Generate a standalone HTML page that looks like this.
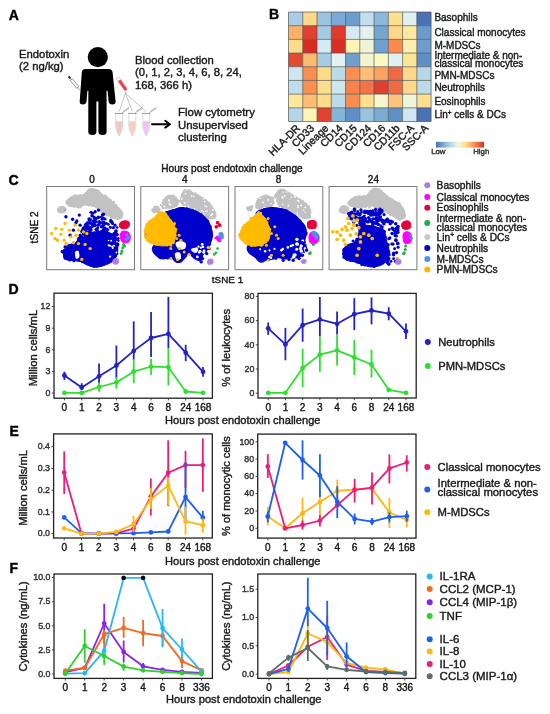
<!DOCTYPE html>
<html><head><meta charset="utf-8"><style>
html,body{margin:0;padding:0;background:#fff;}
svg{display:block;font-family:"Liberation Sans", sans-serif;filter:blur(0.42px);}
text{stroke-width:0.4px;}
</style></head><body>
<svg width="550" height="714" viewBox="0 0 550 714">
<rect width="550" height="714" fill="#fff"/>
<text x="8.80" y="19.70" font-size="14" text-anchor="start" font-weight="bold" fill="#000" stroke="#000" >A</text>
<text x="269.00" y="19.30" font-size="14" text-anchor="start" font-weight="bold" fill="#000" stroke="#000" >B</text>
<text x="8.60" y="184.80" font-size="14" text-anchor="start" font-weight="bold" fill="#000" stroke="#000" >C</text>
<text x="8.60" y="294.30" font-size="14" text-anchor="start" font-weight="bold" fill="#000" stroke="#000" >D</text>
<text x="9.40" y="436.20" font-size="14" text-anchor="start" font-weight="bold" fill="#000" stroke="#000" >E</text>
<text x="9.40" y="573.00" font-size="14" text-anchor="start" font-weight="bold" fill="#000" stroke="#000" >F</text>
<text x="19.00" y="57.60" font-size="11.3" text-anchor="start" font-weight="normal" fill="#1a1a1a" stroke="#1a1a1a" >Endotoxin</text>
<text x="19.00" y="70.20" font-size="11.3" text-anchor="start" font-weight="normal" fill="#1a1a1a" stroke="#1a1a1a" >(2 ng/kg)</text>
<text x="135.00" y="64.00" font-size="11.25" text-anchor="start" font-weight="normal" fill="#1a1a1a" stroke="#1a1a1a" >Blood collection</text>
<text x="135.00" y="76.40" font-size="11.25" text-anchor="start" font-weight="normal" fill="#1a1a1a" stroke="#1a1a1a" >(0, 1, 2, 3, 4, 6, 8, 24,</text>
<text x="135.00" y="88.80" font-size="11.25" text-anchor="start" font-weight="normal" fill="#1a1a1a" stroke="#1a1a1a" >168, 366 h)</text>
<text x="178.00" y="116.20" font-size="11.45" text-anchor="start" font-weight="normal" fill="#1a1a1a" stroke="#1a1a1a" >Flow cytometry</text>
<text x="178.00" y="128.80" font-size="11.45" text-anchor="start" font-weight="normal" fill="#1a1a1a" stroke="#1a1a1a" >Unsupervised</text>
<text x="178.00" y="141.40" font-size="11.45" text-anchor="start" font-weight="normal" fill="#1a1a1a" stroke="#1a1a1a" >clustering</text>
<circle cx="97.8" cy="57.1" r="10.1" fill="#000"/>
<path d="M86.2 69 L108.8 69 Q112.2 69 112.6 72.5 L115.6 101.5 Q115.8 104.5 112.3 104.5 Q109 104.5 108.6 101.5 L107.6 91 L106.6 91 L106.6 132 Q106.6 135 102.6 135 Q98.4 135 98.4 132 L98.4 101.5 L96.4 101.5 L96.4 132 Q96.4 135 92.3 135 Q88.3 135 88.3 132 L88.3 91 L87.4 91 L86.5 101.5 Q86 104.5 83 104.5 Q79.5 104.5 79.7 101.5 L81.8 72.5 Q82 69 85.5 69 Z" fill="#000"/>
<path d="M88.2 90 L87.6 101" stroke="#fff" stroke-width="0.45" opacity="0.4"/><path d="M106.7 90 L107.3 101" stroke="#fff" stroke-width="0.45" opacity="0.4"/>
<g transform="translate(69.0 76.8) rotate(50.5)"><rect x="-0.6" y="-1.1" width="2.6" height="2.2" fill="#2a2a2a"/><line x1="2" y1="0" x2="3.6" y2="0" stroke="#555" stroke-width="0.9"/><rect x="3.6" y="-1.35" width="10.2" height="2.7" fill="#fff" stroke="#666" stroke-width="0.65"/><line x1="13.8" y1="0" x2="17.6" y2="0" stroke="#777" stroke-width="0.55"/></g>
<g transform="translate(121.8 84) rotate(-35)"><rect x="-1.6" y="-7.6" width="3.2" height="15.2" rx="0.8" fill="#fff" stroke="#d9a0a8" stroke-width="0.6"/><rect x="-1.5" y="-4.5" width="3.0" height="12.0" rx="0.8" fill="#e8404f"/></g><circle cx="125.4" cy="92.3" r="0.9" fill="#8fd3d3"/>
<g stroke="#9a9a9a" stroke-width="0.6" fill="none"><line x1="125.3" y1="93" x2="119.3" y2="111.5"/><line x1="125.3" y1="93" x2="132.4" y2="111.5"/><line x1="125.3" y1="93" x2="146.0" y2="111.5"/></g>
<path d="M115.6 113.5 L122.6 113.5 L122.6 126 Q122.6 130 119.1 136 Q115.6 130 115.6 126 Z" fill="#fff" stroke="#b8b8b8" stroke-width="0.5"/>
<path d="M115.89999999999999 121.3 L122.3 121.3 L122.3 126 Q122.3 130 119.1 135.6 Q115.89999999999999 130 115.89999999999999 126 Z" fill="#f4c6c9"/>
<line x1="114.8" y1="113.4" x2="123.39999999999999" y2="113.4" stroke="#8a8a8a" stroke-width="0.8"/>
<path d="M122.1 112.8 L129.1 108.6 M123.1 111.3 L129.4 107.2" stroke="#8a8a8a" stroke-width="0.6" fill="none"/>
<path d="M128.8 113.5 L135.8 113.5 L135.8 126 Q135.8 130 132.3 136 Q128.8 130 128.8 126 Z" fill="#fff" stroke="#b8b8b8" stroke-width="0.5"/>
<path d="M129.10000000000002 121.3 L135.5 121.3 L135.5 126 Q135.5 130 132.3 135.6 Q129.10000000000002 130 129.10000000000002 126 Z" fill="#f5d1c2"/>
<line x1="128.0" y1="113.4" x2="136.60000000000002" y2="113.4" stroke="#8a8a8a" stroke-width="0.8"/>
<path d="M135.3 112.8 L142.3 108.6 M136.3 111.3 L142.60000000000002 107.2" stroke="#8a8a8a" stroke-width="0.6" fill="none"/>
<path d="M142.7 113.5 L149.7 113.5 L149.7 126 Q149.7 130 146.2 136 Q142.7 130 142.7 126 Z" fill="#fff" stroke="#b8b8b8" stroke-width="0.5"/>
<path d="M143.0 121.3 L149.39999999999998 121.3 L149.39999999999998 126 Q149.39999999999998 130 146.2 135.6 Q143.0 130 143.0 126 Z" fill="#eec6ee"/>
<line x1="141.89999999999998" y1="113.4" x2="150.5" y2="113.4" stroke="#8a8a8a" stroke-width="0.8"/>
<path d="M149.2 112.8 L156.2 108.6 M150.2 111.3 L156.5 107.2" stroke="#8a8a8a" stroke-width="0.6" fill="none"/>
<g stroke="#000" stroke-width="1.9" fill="none" stroke-linecap="round" stroke-linejoin="round"><line x1="152" y1="124.2" x2="169.5" y2="124.2"/><path d="M165.2 120.8 L170 124.2 L165.2 127.6"/></g>
<rect x="288.50" y="12.00" width="14.26" height="13.69" fill="#a9cde6"/>
<rect x="302.76" y="12.00" width="14.26" height="13.69" fill="#fdd78a"/>
<rect x="317.02" y="12.00" width="14.26" height="13.69" fill="#9cc4e0"/>
<rect x="331.28" y="12.00" width="14.26" height="13.69" fill="#7aaad3"/>
<rect x="345.54" y="12.00" width="14.26" height="13.69" fill="#6d9dcc"/>
<rect x="359.80" y="12.00" width="14.26" height="13.69" fill="#c4def0"/>
<rect x="374.06" y="12.00" width="14.26" height="13.69" fill="#8cb9db"/>
<rect x="388.32" y="12.00" width="14.26" height="13.69" fill="#fde08f"/>
<rect x="402.58" y="12.00" width="14.26" height="13.69" fill="#dff0f0"/>
<rect x="416.84" y="12.00" width="14.26" height="13.69" fill="#4b72b2"/>
<rect x="288.50" y="25.69" width="14.26" height="13.69" fill="#fdb06a"/>
<rect x="302.76" y="25.69" width="14.26" height="13.69" fill="#e0422f"/>
<rect x="317.02" y="25.69" width="14.26" height="13.69" fill="#a5cae3"/>
<rect x="331.28" y="25.69" width="14.26" height="13.69" fill="#e03a2c"/>
<rect x="345.54" y="25.69" width="14.26" height="13.69" fill="#d5ebf4"/>
<rect x="359.80" y="25.69" width="14.26" height="13.69" fill="#e4f1ec"/>
<rect x="374.06" y="25.69" width="14.26" height="13.69" fill="#74a6d0"/>
<rect x="388.32" y="25.69" width="14.26" height="13.69" fill="#fed88a"/>
<rect x="402.58" y="25.69" width="14.26" height="13.69" fill="#fde9a0"/>
<rect x="416.84" y="25.69" width="14.26" height="13.69" fill="#6a9bcc"/>
<rect x="288.50" y="39.38" width="14.26" height="13.69" fill="#fedc8c"/>
<rect x="302.76" y="39.38" width="14.26" height="13.69" fill="#d92b23"/>
<rect x="317.02" y="39.38" width="14.26" height="13.69" fill="#d3ebf5"/>
<rect x="331.28" y="39.38" width="14.26" height="13.69" fill="#d82f25"/>
<rect x="345.54" y="39.38" width="14.26" height="13.69" fill="#fdf5b8"/>
<rect x="359.80" y="39.38" width="14.26" height="13.69" fill="#eef5d6"/>
<rect x="374.06" y="39.38" width="14.26" height="13.69" fill="#6f9fce"/>
<rect x="388.32" y="39.38" width="14.26" height="13.69" fill="#fb8b4c"/>
<rect x="402.58" y="39.38" width="14.26" height="13.69" fill="#fdefb0"/>
<rect x="416.84" y="39.38" width="14.26" height="13.69" fill="#6d9dcc"/>
<rect x="288.50" y="53.07" width="14.26" height="13.69" fill="#e24a32"/>
<rect x="302.76" y="53.07" width="14.26" height="13.69" fill="#fdba72"/>
<rect x="317.02" y="53.07" width="14.26" height="13.69" fill="#a6cbe3"/>
<rect x="331.28" y="53.07" width="14.26" height="13.69" fill="#e3f2ee"/>
<rect x="345.54" y="53.07" width="14.26" height="13.69" fill="#6f9fcf"/>
<rect x="359.80" y="53.07" width="14.26" height="13.69" fill="#f2f6d0"/>
<rect x="374.06" y="53.07" width="14.26" height="13.69" fill="#fcfac3"/>
<rect x="388.32" y="53.07" width="14.26" height="13.69" fill="#dff0f2"/>
<rect x="402.58" y="53.07" width="14.26" height="13.69" fill="#fde596"/>
<rect x="416.84" y="53.07" width="14.26" height="13.69" fill="#5d8fc5"/>
<rect x="288.50" y="66.76" width="14.26" height="13.69" fill="#cfe6f0"/>
<rect x="302.76" y="66.76" width="14.26" height="13.69" fill="#f98e52"/>
<rect x="317.02" y="66.76" width="14.26" height="13.69" fill="#fedb88"/>
<rect x="331.28" y="66.76" width="14.26" height="13.69" fill="#bcdbea"/>
<rect x="345.54" y="66.76" width="14.26" height="13.69" fill="#f98e52"/>
<rect x="359.80" y="66.76" width="14.26" height="13.69" fill="#fdbf75"/>
<rect x="374.06" y="66.76" width="14.26" height="13.69" fill="#fba260"/>
<rect x="388.32" y="66.76" width="14.26" height="13.69" fill="#ef6a43"/>
<rect x="402.58" y="66.76" width="14.26" height="13.69" fill="#fed88a"/>
<rect x="416.84" y="66.76" width="14.26" height="13.69" fill="#b7d7e8"/>
<rect x="288.50" y="80.45" width="14.26" height="13.69" fill="#bfdcea"/>
<rect x="302.76" y="80.45" width="14.26" height="13.69" fill="#f98f52"/>
<rect x="317.02" y="80.45" width="14.26" height="13.69" fill="#fedd8b"/>
<rect x="331.28" y="80.45" width="14.26" height="13.69" fill="#cde6ef"/>
<rect x="345.54" y="80.45" width="14.26" height="13.69" fill="#f6834d"/>
<rect x="359.80" y="80.45" width="14.26" height="13.69" fill="#f3744a"/>
<rect x="374.06" y="80.45" width="14.26" height="13.69" fill="#de3f2e"/>
<rect x="388.32" y="80.45" width="14.26" height="13.69" fill="#f06a43"/>
<rect x="402.58" y="80.45" width="14.26" height="13.69" fill="#fed98b"/>
<rect x="416.84" y="80.45" width="14.26" height="13.69" fill="#bcdbe8"/>
<rect x="288.50" y="94.14" width="14.26" height="13.69" fill="#fee79a"/>
<rect x="302.76" y="94.14" width="14.26" height="13.69" fill="#fdbe73"/>
<rect x="317.02" y="94.14" width="14.26" height="13.69" fill="#fedd8b"/>
<rect x="331.28" y="94.14" width="14.26" height="13.69" fill="#bcdbea"/>
<rect x="345.54" y="94.14" width="14.26" height="13.69" fill="#f88d50"/>
<rect x="359.80" y="94.14" width="14.26" height="13.69" fill="#fedf8f"/>
<rect x="374.06" y="94.14" width="14.26" height="13.69" fill="#f7f6cc"/>
<rect x="388.32" y="94.14" width="14.26" height="13.69" fill="#fdc57a"/>
<rect x="402.58" y="94.14" width="14.26" height="13.69" fill="#eef6da"/>
<rect x="416.84" y="94.14" width="14.26" height="13.69" fill="#fede90"/>
<rect x="288.50" y="107.83" width="14.26" height="13.69" fill="#b6d6e8"/>
<rect x="302.76" y="107.83" width="14.26" height="13.69" fill="#fdf5b5"/>
<rect x="317.02" y="107.83" width="14.26" height="13.69" fill="#df4330"/>
<rect x="331.28" y="107.83" width="14.26" height="13.69" fill="#86b5d8"/>
<rect x="345.54" y="107.83" width="14.26" height="13.69" fill="#5f8fc6"/>
<rect x="359.80" y="107.83" width="14.26" height="13.69" fill="#98c3df"/>
<rect x="374.06" y="107.83" width="14.26" height="13.69" fill="#7badd3"/>
<rect x="388.32" y="107.83" width="14.26" height="13.69" fill="#5f90c7"/>
<rect x="402.58" y="107.83" width="14.26" height="13.69" fill="#cfe7f0"/>
<rect x="416.84" y="107.83" width="14.26" height="13.69" fill="#4a73b3"/>
<g stroke="#4a4a4a" stroke-width="0.65"><line x1="288.50" y1="12.0" x2="288.50" y2="121.52"/><line x1="302.76" y1="12.0" x2="302.76" y2="121.52"/><line x1="317.02" y1="12.0" x2="317.02" y2="121.52"/><line x1="331.28" y1="12.0" x2="331.28" y2="121.52"/><line x1="345.54" y1="12.0" x2="345.54" y2="121.52"/><line x1="359.80" y1="12.0" x2="359.80" y2="121.52"/><line x1="374.06" y1="12.0" x2="374.06" y2="121.52"/><line x1="388.32" y1="12.0" x2="388.32" y2="121.52"/><line x1="402.58" y1="12.0" x2="402.58" y2="121.52"/><line x1="416.84" y1="12.0" x2="416.84" y2="121.52"/><line x1="431.10" y1="12.0" x2="431.10" y2="121.52"/><line x1="288.5" y1="12.00" x2="431.10" y2="12.00"/><line x1="288.5" y1="25.69" x2="431.10" y2="25.69"/><line x1="288.5" y1="39.38" x2="431.10" y2="39.38"/><line x1="288.5" y1="53.07" x2="431.10" y2="53.07"/><line x1="288.5" y1="66.76" x2="431.10" y2="66.76"/><line x1="288.5" y1="80.45" x2="431.10" y2="80.45"/><line x1="288.5" y1="94.14" x2="431.10" y2="94.14"/><line x1="288.5" y1="107.83" x2="431.10" y2="107.83"/><line x1="288.5" y1="121.52" x2="431.10" y2="121.52"/></g>
<text x="434.40" y="21.24" font-size="10.0" text-anchor="start" font-weight="normal" fill="#1a1a1a" stroke="#1a1a1a" >Basophils</text>
<text x="434.40" y="36.23" font-size="10.0" text-anchor="start" font-weight="normal" fill="#1a1a1a" stroke="#1a1a1a" >Classical monocytes</text>
<text x="434.40" y="49.33" font-size="10.0" text-anchor="start" font-weight="normal" fill="#1a1a1a" stroke="#1a1a1a" >M-MDSCs</text>
<text x="434.40" y="79.10" font-size="10.0" text-anchor="start" font-weight="normal" fill="#1a1a1a" stroke="#1a1a1a" >PMN-MDSCs</text>
<text x="434.40" y="91.00" font-size="10.0" text-anchor="start" font-weight="normal" fill="#1a1a1a" stroke="#1a1a1a" >Neutrophils</text>
<text x="434.40" y="104.69" font-size="10.0" text-anchor="start" font-weight="normal" fill="#1a1a1a" stroke="#1a1a1a" >Eosinophils</text>
<text x="434.40" y="58.91" font-size="10.0" text-anchor="start" font-weight="normal" fill="#1a1a1a" stroke="#1a1a1a" >Intermediate &amp; non-</text>
<text x="434.40" y="66.91" font-size="10.0" text-anchor="start" font-weight="normal" fill="#1a1a1a" stroke="#1a1a1a" >classical monocytes</text>
<text x="434.4" y="118.38" font-size="10" fill="#1a1a1a" stroke="#1a1a1a">Lin<tspan font-size="6.5" dy="-3.5">+</tspan><tspan dy="3.5"> cells &amp; DCs</tspan></text>
<text x="300.63" y="128.8" font-size="10.5" text-anchor="end" fill="#1a1a1a" stroke="#1a1a1a" transform="rotate(-45 300.63 128.8)">HLA-DR</text>
<text x="314.89" y="128.8" font-size="10.5" text-anchor="end" fill="#1a1a1a" stroke="#1a1a1a" transform="rotate(-45 314.89 128.8)">CD33</text>
<text x="329.15" y="128.8" font-size="10.5" text-anchor="end" fill="#1a1a1a" stroke="#1a1a1a" transform="rotate(-45 329.15 128.8)">Lineage</text>
<text x="343.41" y="128.8" font-size="10.5" text-anchor="end" fill="#1a1a1a" stroke="#1a1a1a" transform="rotate(-45 343.41 128.8)">CD14</text>
<text x="357.67" y="128.8" font-size="10.5" text-anchor="end" fill="#1a1a1a" stroke="#1a1a1a" transform="rotate(-45 357.67 128.8)">CD15</text>
<text x="371.93" y="128.8" font-size="10.5" text-anchor="end" fill="#1a1a1a" stroke="#1a1a1a" transform="rotate(-45 371.93 128.8)">CD124</text>
<text x="386.19" y="128.8" font-size="10.5" text-anchor="end" fill="#1a1a1a" stroke="#1a1a1a" transform="rotate(-45 386.19 128.8)">CD16</text>
<text x="400.45" y="128.8" font-size="10.5" text-anchor="end" fill="#1a1a1a" stroke="#1a1a1a" transform="rotate(-45 400.45 128.8)">CD11b</text>
<text x="414.71" y="128.8" font-size="10.5" text-anchor="end" fill="#1a1a1a" stroke="#1a1a1a" transform="rotate(-45 414.71 128.8)">FSC-A</text>
<text x="428.97" y="128.8" font-size="10.5" text-anchor="end" fill="#1a1a1a" stroke="#1a1a1a" transform="rotate(-45 428.97 128.8)">SSC-A</text>
<defs><linearGradient id="lh" x1="0" x2="1" y1="0" y2="0"><stop offset="0" stop-color="#4a74b4"/><stop offset="0.25" stop-color="#9ec9e2"/><stop offset="0.45" stop-color="#eef6e8"/><stop offset="0.6" stop-color="#fee491"/><stop offset="0.8" stop-color="#f98e52"/><stop offset="1" stop-color="#d62f27"/></linearGradient></defs>
<rect x="436" y="141.8" width="48" height="5.8" fill="url(#lh)"/>
<text x="431.20" y="154.20" font-size="7.8" text-anchor="start" font-weight="normal" fill="#333" stroke="#333" >Low</text>
<text x="473.20" y="154.20" font-size="7.8" text-anchor="start" font-weight="normal" fill="#333" stroke="#333" >High</text>
<text x="232.00" y="172.20" font-size="10.1" text-anchor="middle" font-weight="normal" fill="#1a1a1a" stroke="#1a1a1a" >Hours post endotoxin challenge</text>
<text x="92.00" y="182.90" font-size="10.0" text-anchor="middle" font-weight="normal" fill="#1a1a1a" stroke="#1a1a1a" >0</text>
<text x="184.80" y="182.90" font-size="10.0" text-anchor="middle" font-weight="normal" fill="#1a1a1a" stroke="#1a1a1a" >4</text>
<text x="278.50" y="182.90" font-size="10.0" text-anchor="middle" font-weight="normal" fill="#1a1a1a" stroke="#1a1a1a" >8</text>
<text x="373.40" y="182.90" font-size="10.0" text-anchor="middle" font-weight="normal" fill="#1a1a1a" stroke="#1a1a1a" >24</text>
<g transform="translate(45 185) scale(0.16728)"><path d="M75 145 C76.7 139.7 84.2 132.8 90 130 C95.8 127.2 104.2 126.3 110 128 C115.8 129.7 123.3 134.7 125 140 C126.7 145.3 124.2 155.3 120 160 C115.8 164.7 106.7 167.7 100 168 C93.3 168.3 84.2 165.8 80 162 C75.8 158.2 73.3 150.3 75 145 Z" fill="#c2c2c2" stroke="#c2c2c2" stroke-width="6" stroke-linejoin="round"/><path d="M125 100 C128.3 93.3 140.0 81.7 150 75 C160.0 68.3 174.2 61.7 185 60 C195.8 58.3 205.0 67.5 215 65 C225.0 62.5 237.5 51.7 245 45 C252.5 38.3 252.5 28.8 260 25 C267.5 21.2 280.0 20.3 290 22 C300.0 23.7 311.7 29.5 320 35 C328.3 40.5 331.7 49.2 340 55 C348.3 60.8 360.8 63.3 370 70 C379.2 76.7 386.7 86.7 395 95 C403.3 103.3 410.8 111.7 420 120 C429.2 128.3 442.5 136.7 450 145 C457.5 153.3 463.3 161.7 465 170 C466.7 178.3 464.2 189.2 460 195 C455.8 200.8 447.5 204.2 440 205 C432.5 205.8 422.5 202.5 415 200 C407.5 197.5 404.2 194.2 395 190 C385.8 185.8 370.0 180.0 360 175 C350.0 170.0 343.3 165.8 335 160 C326.7 154.2 317.5 146.7 310 140 C302.5 133.3 298.3 124.2 290 120 C281.7 115.8 270.0 115.0 260 115 C250.0 115.0 238.3 117.5 230 120 C221.7 122.5 217.5 128.3 210 130 C202.5 131.7 195.0 130.8 185 130 C175.0 129.2 159.2 127.5 150 125 C140.8 122.5 134.2 119.2 130 115 C125.8 110.8 121.7 106.7 125 100 Z" fill="#c2c2c2" stroke="#c2c2c2" stroke-width="6" stroke-linejoin="round"/><circle cx="140" cy="108" r="6.5" fill="#c2c2c2"/><circle cx="133" cy="99" r="8.9" fill="#c2c2c2"/><circle cx="150" cy="84" r="8.5" fill="#c2c2c2"/><circle cx="156" cy="82" r="6.9" fill="#c2c2c2"/><circle cx="161" cy="74" r="8.9" fill="#c2c2c2"/><circle cx="179" cy="79" r="8.3" fill="#c2c2c2"/><circle cx="179" cy="65" r="6.4" fill="#c2c2c2"/><circle cx="181" cy="64" r="7.4" fill="#c2c2c2"/><circle cx="196" cy="71" r="8.2" fill="#c2c2c2"/><circle cx="209" cy="62" r="6.4" fill="#c2c2c2"/><circle cx="215" cy="62" r="8.1" fill="#c2c2c2"/><circle cx="234" cy="69" r="7.0" fill="#c2c2c2"/><circle cx="240" cy="66" r="8.9" fill="#c2c2c2"/><circle cx="248" cy="61" r="9.1" fill="#c2c2c2"/><circle cx="247" cy="60" r="9.8" fill="#c2c2c2"/><circle cx="249" cy="49" r="8.9" fill="#c2c2c2"/><circle cx="259" cy="38" r="8.1" fill="#c2c2c2"/><circle cx="274" cy="32" r="9.3" fill="#c2c2c2"/><circle cx="274" cy="38" r="9.5" fill="#c2c2c2"/><circle cx="284" cy="32" r="9.6" fill="#c2c2c2"/><circle cx="297" cy="31" r="7.1" fill="#c2c2c2"/><circle cx="299" cy="39" r="6.9" fill="#c2c2c2"/><circle cx="317" cy="36" r="9.6" fill="#c2c2c2"/><circle cx="315" cy="50" r="8.8" fill="#c2c2c2"/><circle cx="325" cy="50" r="8.6" fill="#c2c2c2"/><circle cx="332" cy="54" r="7.0" fill="#c2c2c2"/><circle cx="337" cy="69" r="8.5" fill="#c2c2c2"/><circle cx="338" cy="71" r="8.9" fill="#c2c2c2"/><circle cx="360" cy="65" r="9.0" fill="#c2c2c2"/><circle cx="355" cy="76" r="7.3" fill="#c2c2c2"/><circle cx="364" cy="85" r="6.7" fill="#c2c2c2"/><circle cx="376" cy="91" r="7.2" fill="#c2c2c2"/><circle cx="377" cy="98" r="7.8" fill="#c2c2c2"/><circle cx="392" cy="91" r="7.6" fill="#c2c2c2"/><circle cx="390" cy="107" r="6.6" fill="#c2c2c2"/><circle cx="410" cy="103" r="8.9" fill="#c2c2c2"/><circle cx="402" cy="114" r="9.2" fill="#c2c2c2"/><circle cx="412" cy="119" r="8.8" fill="#c2c2c2"/><circle cx="423" cy="122" r="9.9" fill="#c2c2c2"/><circle cx="427" cy="128" r="7.5" fill="#c2c2c2"/><circle cx="442" cy="146" r="6.7" fill="#c2c2c2"/><circle cx="443" cy="142" r="7.9" fill="#c2c2c2"/><circle cx="455" cy="162" r="9.5" fill="#c2c2c2"/><circle cx="460" cy="172" r="8.8" fill="#c2c2c2"/><circle cx="455" cy="171" r="8.7" fill="#c2c2c2"/><circle cx="451" cy="178" r="7.9" fill="#c2c2c2"/><circle cx="457" cy="186" r="8.4" fill="#c2c2c2"/><circle cx="440" cy="197" r="6.8" fill="#c2c2c2"/><circle cx="441" cy="197" r="8.5" fill="#c2c2c2"/><circle cx="422" cy="191" r="8.3" fill="#c2c2c2"/><circle cx="408" cy="189" r="6.4" fill="#c2c2c2"/><circle cx="399" cy="187" r="8.6" fill="#c2c2c2"/><circle cx="396" cy="196" r="9.7" fill="#c2c2c2"/><circle cx="395" cy="180" r="7.9" fill="#c2c2c2"/><circle cx="374" cy="182" r="8.5" fill="#c2c2c2"/><circle cx="374" cy="179" r="7.2" fill="#c2c2c2"/><circle cx="359" cy="172" r="6.3" fill="#c2c2c2"/><circle cx="344" cy="166" r="6.7" fill="#c2c2c2"/><circle cx="347" cy="158" r="6.7" fill="#c2c2c2"/><circle cx="330" cy="153" r="7.1" fill="#c2c2c2"/><circle cx="327" cy="150" r="7.4" fill="#c2c2c2"/><circle cx="322" cy="140" r="9.6" fill="#c2c2c2"/><circle cx="320" cy="142" r="7.9" fill="#c2c2c2"/><circle cx="306" cy="133" r="6.5" fill="#c2c2c2"/><circle cx="300" cy="124" r="7.0" fill="#c2c2c2"/><circle cx="292" cy="122" r="7.6" fill="#c2c2c2"/><circle cx="295" cy="123" r="8.5" fill="#c2c2c2"/><circle cx="282" cy="124" r="7.6" fill="#c2c2c2"/><circle cx="268" cy="119" r="6.7" fill="#c2c2c2"/><circle cx="263" cy="121" r="8.7" fill="#c2c2c2"/><circle cx="248" cy="116" r="7.8" fill="#c2c2c2"/><circle cx="246" cy="113" r="8.4" fill="#c2c2c2"/><circle cx="230" cy="117" r="7.6" fill="#c2c2c2"/><circle cx="234" cy="117" r="9.0" fill="#c2c2c2"/><circle cx="214" cy="129" r="7.7" fill="#c2c2c2"/><circle cx="208" cy="133" r="7.7" fill="#c2c2c2"/><circle cx="193" cy="123" r="6.6" fill="#c2c2c2"/><circle cx="195" cy="131" r="9.8" fill="#c2c2c2"/><circle cx="182" cy="120" r="8.7" fill="#c2c2c2"/><circle cx="174" cy="129" r="8.1" fill="#c2c2c2"/><circle cx="157" cy="124" r="9.2" fill="#c2c2c2"/><circle cx="147" cy="121" r="8.0" fill="#c2c2c2"/><circle cx="149" cy="122" r="9.7" fill="#c2c2c2"/><circle cx="142" cy="106" r="7.1" fill="#c2c2c2"/><circle cx="133" cy="97" r="7.8" fill="#c2c2c2"/><path d="M114 403 C119.8 390.8 138.3 378.0 153 369 C167.7 360.0 189.0 358.0 202 349 C215.0 340.0 221.3 324.7 231 315 C240.7 305.3 248.7 296.7 260 291 C271.3 285.3 284.3 283.5 299 281 C313.7 278.5 331.7 274.3 348 276 C364.3 277.7 383.8 284.5 397 291 C410.2 297.5 420.5 302.8 427 315 C433.5 327.2 435.3 347.7 436 364 C436.7 380.3 434.2 400.0 431 413 C427.8 426.0 424.3 433.0 417 442 C409.7 451.0 400.2 459.7 387 467 C373.8 474.3 354.2 482.0 338 486 C321.8 490.0 304.7 492.5 290 491 C275.3 489.5 263.2 482.7 250 477 C236.8 471.3 225.7 461.2 211 457 C196.3 452.8 177.5 454.5 162 452 C146.5 449.5 126.0 450.2 118 442 C110.0 433.8 108.2 415.2 114 403 Z" fill="#0000cc" stroke="#0000cc" stroke-width="6" stroke-linejoin="round"/><circle cx="118" cy="403" r="7.6" fill="#0000cc"/><circle cx="135" cy="395" r="6.5" fill="#0000cc"/><circle cx="137" cy="389" r="7.2" fill="#0000cc"/><circle cx="152" cy="382" r="8.0" fill="#0000cc"/><circle cx="174" cy="367" r="8.6" fill="#0000cc"/><circle cx="177" cy="364" r="9.4" fill="#0000cc"/><circle cx="197" cy="361" r="8.7" fill="#0000cc"/><circle cx="203" cy="356" r="8.4" fill="#0000cc"/><circle cx="216" cy="334" r="9.4" fill="#0000cc"/><circle cx="227" cy="335" r="9.5" fill="#0000cc"/><circle cx="240" cy="328" r="7.7" fill="#0000cc"/><circle cx="252" cy="311" r="9.7" fill="#0000cc"/><circle cx="264" cy="296" r="6.8" fill="#0000cc"/><circle cx="265" cy="304" r="7.9" fill="#0000cc"/><circle cx="285" cy="290" r="8.1" fill="#0000cc"/><circle cx="295" cy="287" r="8.4" fill="#0000cc"/><circle cx="312" cy="294" r="8.8" fill="#0000cc"/><circle cx="331" cy="291" r="9.9" fill="#0000cc"/><circle cx="341" cy="278" r="9.4" fill="#0000cc"/><circle cx="360" cy="292" r="8.3" fill="#0000cc"/><circle cx="370" cy="285" r="9.3" fill="#0000cc"/><circle cx="381" cy="290" r="6.5" fill="#0000cc"/><circle cx="399" cy="306" r="6.6" fill="#0000cc"/><circle cx="409" cy="306" r="6.8" fill="#0000cc"/><circle cx="413" cy="320" r="9.4" fill="#0000cc"/><circle cx="414" cy="330" r="6.5" fill="#0000cc"/><circle cx="427" cy="339" r="9.5" fill="#0000cc"/><circle cx="434" cy="356" r="9.9" fill="#0000cc"/><circle cx="424" cy="363" r="8.5" fill="#0000cc"/><circle cx="418" cy="379" r="7.8" fill="#0000cc"/><circle cx="426" cy="393" r="6.5" fill="#0000cc"/><circle cx="429" cy="409" r="9.8" fill="#0000cc"/><circle cx="423" cy="423" r="8.0" fill="#0000cc"/><circle cx="410" cy="440" r="8.4" fill="#0000cc"/><circle cx="400" cy="449" r="9.7" fill="#0000cc"/><circle cx="388" cy="455" r="8.9" fill="#0000cc"/><circle cx="372" cy="460" r="9.8" fill="#0000cc"/><circle cx="363" cy="469" r="6.3" fill="#0000cc"/><circle cx="348" cy="474" r="6.4" fill="#0000cc"/><circle cx="338" cy="480" r="6.5" fill="#0000cc"/><circle cx="325" cy="479" r="8.7" fill="#0000cc"/><circle cx="307" cy="484" r="9.0" fill="#0000cc"/><circle cx="287" cy="475" r="8.7" fill="#0000cc"/><circle cx="289" cy="476" r="7.9" fill="#0000cc"/><circle cx="270" cy="472" r="7.6" fill="#0000cc"/><circle cx="253" cy="468" r="8.4" fill="#0000cc"/><circle cx="240" cy="463" r="9.1" fill="#0000cc"/><circle cx="223" cy="459" r="8.9" fill="#0000cc"/><circle cx="215" cy="448" r="9.2" fill="#0000cc"/><circle cx="200" cy="446" r="7.9" fill="#0000cc"/><circle cx="193" cy="443" r="7.5" fill="#0000cc"/><circle cx="172" cy="454" r="7.9" fill="#0000cc"/><circle cx="166" cy="441" r="7.5" fill="#0000cc"/><circle cx="148" cy="450" r="7.9" fill="#0000cc"/><circle cx="127" cy="435" r="8.2" fill="#0000cc"/><circle cx="120" cy="436" r="9.3" fill="#0000cc"/><circle cx="118" cy="413" r="9.2" fill="#0000cc"/><path d="M100 405 L133 361 L187 340 L220 296 L245 330 L210 420 Z" fill="#0000cc" stroke="#0000cc" stroke-width="4" stroke-linejoin="round"/><circle cx="102" cy="397" r="8.8" fill="#0000cc"/><circle cx="116" cy="391" r="9.3" fill="#0000cc"/><circle cx="136" cy="369" r="9.3" fill="#0000cc"/><circle cx="145" cy="360" r="7.6" fill="#0000cc"/><circle cx="167" cy="359" r="7.1" fill="#0000cc"/><circle cx="184" cy="354" r="6.6" fill="#0000cc"/><circle cx="197" cy="337" r="8.3" fill="#0000cc"/><circle cx="201" cy="321" r="9.8" fill="#0000cc"/><circle cx="214" cy="306" r="9.1" fill="#0000cc"/><circle cx="230" cy="320" r="7.9" fill="#0000cc"/><circle cx="235" cy="331" r="7.6" fill="#0000cc"/><circle cx="235" cy="354" r="7.1" fill="#0000cc"/><circle cx="220" cy="361" r="9.7" fill="#0000cc"/><circle cx="211" cy="381" r="7.0" fill="#0000cc"/><circle cx="207" cy="405" r="7.9" fill="#0000cc"/><circle cx="202" cy="415" r="8.2" fill="#0000cc"/><circle cx="187" cy="411" r="8.5" fill="#0000cc"/><circle cx="166" cy="411" r="8.7" fill="#0000cc"/><circle cx="145" cy="409" r="9.3" fill="#0000cc"/><circle cx="132" cy="405" r="7.9" fill="#0000cc"/><circle cx="105" cy="403" r="6.9" fill="#0000cc"/><circle cx="232" cy="292" r="10.8" fill="#0000cc"/><circle cx="247" cy="283" r="9.3" fill="#0000cc"/><circle cx="225" cy="265" r="8.6" fill="#0000cc"/><circle cx="247" cy="301" r="9.2" fill="#0000cc"/><circle cx="250" cy="261" r="9.0" fill="#0000cc"/><circle cx="268" cy="299" r="10.7" fill="#0000cc"/><circle cx="242" cy="246" r="10.5" fill="#0000cc"/><circle cx="224" cy="327" r="11.5" fill="#0000cc"/><circle cx="211" cy="300" r="10.2" fill="#0000cc"/><circle cx="227" cy="273" r="8.5" fill="#0000cc"/><circle cx="246" cy="303" r="10.2" fill="#0000cc"/><circle cx="207" cy="317" r="11.3" fill="#0000cc"/><circle cx="259" cy="281" r="9.6" fill="#0000cc"/><circle cx="256" cy="246" r="10.1" fill="#0000cc"/><circle cx="250" cy="254" r="8.7" fill="#0000cc"/><circle cx="258" cy="293" r="9.4" fill="#0000cc"/><circle cx="231" cy="256" r="8.9" fill="#0000cc"/><circle cx="206" cy="333" r="11.3" fill="#0000cc"/><circle cx="240" cy="244" r="9.3" fill="#0000cc"/><circle cx="265" cy="294" r="10.7" fill="#0000cc"/><circle cx="249" cy="289" r="8.2" fill="#0000cc"/><circle cx="234" cy="266" r="11.3" fill="#0000cc"/><circle cx="243" cy="298" r="8.2" fill="#0000cc"/><circle cx="221" cy="278" r="10.9" fill="#0000cc"/><circle cx="230" cy="260" r="8.5" fill="#0000cc"/><circle cx="257" cy="303" r="10.2" fill="#0000cc"/><circle cx="268" cy="301" r="9.1" fill="#0000cc"/><circle cx="233" cy="319" r="9.7" fill="#0000cc"/><circle cx="215" cy="317" r="8.4" fill="#0000cc"/><circle cx="245" cy="268" r="10.1" fill="#0000cc"/><circle cx="268" cy="312" r="8.1" fill="#0000cc"/><circle cx="383" cy="292" r="8.1" fill="#0000cc"/><circle cx="337" cy="250" r="9.0" fill="#0000cc"/><circle cx="306" cy="200" r="8.7" fill="#0000cc"/><circle cx="263" cy="203" r="9.5" fill="#0000cc"/><circle cx="405" cy="231" r="8.3" fill="#0000cc"/><circle cx="412" cy="290" r="8.3" fill="#0000cc"/><circle cx="396" cy="306" r="8.2" fill="#0000cc"/><circle cx="360" cy="204" r="7.7" fill="#0000cc"/><circle cx="291" cy="227" r="8.9" fill="#0000cc"/><circle cx="433" cy="355" r="10.9" fill="#0000cc"/><circle cx="394" cy="221" r="8.2" fill="#0000cc"/><circle cx="357" cy="269" r="9.8" fill="#0000cc"/><circle cx="424" cy="280" r="9.9" fill="#0000cc"/><circle cx="422" cy="290" r="10.9" fill="#0000cc"/><circle cx="260" cy="251" r="10.3" fill="#0000cc"/><circle cx="343" cy="184" r="7.9" fill="#0000cc"/><circle cx="259" cy="227" r="10.0" fill="#0000cc"/><circle cx="409" cy="255" r="9.3" fill="#0000cc"/><circle cx="394" cy="216" r="8.8" fill="#0000cc"/><circle cx="354" cy="287" r="7.7" fill="#0000cc"/><circle cx="380" cy="299" r="10.8" fill="#0000cc"/><circle cx="300" cy="217" r="8.2" fill="#0000cc"/><circle cx="354" cy="201" r="8.2" fill="#0000cc"/><circle cx="401" cy="220" r="8.2" fill="#0000cc"/><circle cx="306" cy="265" r="10.0" fill="#0000cc"/><circle cx="243" cy="317" r="10.1" fill="#0000cc"/><circle cx="429" cy="298" r="9.5" fill="#0000cc"/><circle cx="242" cy="245" r="8.1" fill="#0000cc"/><circle cx="301" cy="221" r="9.0" fill="#0000cc"/><circle cx="376" cy="268" r="8.4" fill="#0000cc"/><circle cx="392" cy="307" r="10.4" fill="#0000cc"/><circle cx="298" cy="240" r="10.3" fill="#0000cc"/><circle cx="302" cy="200" r="8.3" fill="#0000cc"/><circle cx="357" cy="256" r="9.3" fill="#0000cc"/><circle cx="325" cy="219" r="9.2" fill="#0000cc"/><circle cx="347" cy="241" r="10.2" fill="#0000cc"/><circle cx="268" cy="281" r="10.4" fill="#0000cc"/><circle cx="338" cy="224" r="7.9" fill="#0000cc"/><circle cx="345" cy="198" r="8.8" fill="#0000cc"/><circle cx="368" cy="264" r="10.5" fill="#0000cc"/><circle cx="285" cy="238" r="9.9" fill="#0000cc"/><circle cx="341" cy="204" r="9.0" fill="#0000cc"/><circle cx="432" cy="297" r="8.7" fill="#0000cc"/><circle cx="438" cy="319" r="7.8" fill="#0000cc"/><circle cx="271" cy="258" r="10.9" fill="#0000cc"/><circle cx="286" cy="169" r="9.0" fill="#0000cc"/><circle cx="337" cy="248" r="8.1" fill="#0000cc"/><circle cx="315" cy="256" r="9.2" fill="#0000cc"/><circle cx="403" cy="305" r="8.7" fill="#0000cc"/><circle cx="288" cy="238" r="9.0" fill="#0000cc"/><circle cx="429" cy="297" r="10.4" fill="#0000cc"/><circle cx="317" cy="240" r="10.3" fill="#0000cc"/><circle cx="312" cy="271" r="10.2" fill="#0000cc"/><circle cx="302" cy="206" r="8.7" fill="#0000cc"/><circle cx="286" cy="215" r="9.1" fill="#0000cc"/><circle cx="367" cy="229" r="8.2" fill="#0000cc"/><circle cx="266" cy="212" r="10.6" fill="#0000cc"/><circle cx="253" cy="311" r="8.0" fill="#0000cc"/><circle cx="393" cy="213" r="10.2" fill="#0000cc"/><circle cx="236" cy="320" r="9.4" fill="#0000cc"/><circle cx="325" cy="230" r="9.9" fill="#0000cc"/><circle cx="351" cy="223" r="10.4" fill="#0000cc"/><circle cx="242" cy="301" r="9.6" fill="#0000cc"/><circle cx="340" cy="278" r="10.2" fill="#0000cc"/><circle cx="275" cy="269" r="10.2" fill="#0000cc"/><circle cx="350" cy="268" r="10.4" fill="#0000cc"/><circle cx="232" cy="283" r="8.1" fill="#0000cc"/><circle cx="318" cy="196" r="9.1" fill="#0000cc"/><circle cx="296" cy="238" r="10.6" fill="#0000cc"/><circle cx="402" cy="227" r="9.3" fill="#0000cc"/><circle cx="252" cy="302" r="10.1" fill="#0000cc"/><circle cx="349" cy="229" r="10.5" fill="#0000cc"/><circle cx="419" cy="287" r="8.6" fill="#0000cc"/><circle cx="294" cy="196" r="7.8" fill="#0000cc"/><circle cx="309" cy="220" r="7.8" fill="#0000cc"/><circle cx="332" cy="192" r="7.7" fill="#0000cc"/><circle cx="436" cy="332" r="9.9" fill="#0000cc"/><circle cx="296" cy="243" r="10.0" fill="#0000cc"/><circle cx="275" cy="163" r="9.5" fill="#0000cc"/><circle cx="425" cy="274" r="8.1" fill="#0000cc"/><circle cx="372" cy="290" r="7.9" fill="#0000cc"/><circle cx="423" cy="292" r="9.2" fill="#0000cc"/><circle cx="293" cy="192" r="9.2" fill="#0000cc"/><circle cx="298" cy="207" r="9.7" fill="#0000cc"/><circle cx="378" cy="235" r="9.0" fill="#0000cc"/><circle cx="431" cy="254" r="7.9" fill="#0000cc"/><circle cx="350" cy="278" r="9.9" fill="#0000cc"/><circle cx="391" cy="253" r="9.4" fill="#0000cc"/><circle cx="269" cy="298" r="10.9" fill="#0000cc"/><circle cx="318" cy="192" r="9.6" fill="#0000cc"/><circle cx="364" cy="280" r="8.5" fill="#0000cc"/><circle cx="373" cy="285" r="7.9" fill="#0000cc"/><circle cx="419" cy="240" r="9.1" fill="#0000cc"/><circle cx="341" cy="249" r="10.8" fill="#0000cc"/><circle cx="254" cy="228" r="10.8" fill="#0000cc"/><circle cx="353" cy="235" r="10.5" fill="#0000cc"/><circle cx="231" cy="294" r="9.2" fill="#0000cc"/><circle cx="284" cy="248" r="8.4" fill="#0000cc"/><circle cx="342" cy="177" r="7.8" fill="#0000cc"/><circle cx="245" cy="235" r="10.4" fill="#0000cc"/><circle cx="281" cy="184" r="10.2" fill="#0000cc"/><circle cx="266" cy="254" r="9.9" fill="#0000cc"/><circle cx="266" cy="264" r="10.3" fill="#0000cc"/><circle cx="400" cy="299" r="10.4" fill="#0000cc"/><circle cx="272" cy="204" r="7.8" fill="#0000cc"/><circle cx="424" cy="274" r="9.6" fill="#0000cc"/><circle cx="413" cy="298" r="8.9" fill="#0000cc"/><circle cx="273" cy="229" r="10.2" fill="#0000cc"/><circle cx="365" cy="281" r="8.9" fill="#0000cc"/><circle cx="125" cy="190" r="10" fill="#0000cc"/><circle cx="165" cy="205" r="10" fill="#0000cc"/><circle cx="190" cy="215" r="10" fill="#0000cc"/><circle cx="205" cy="180" r="10" fill="#0000cc"/><circle cx="185" cy="225" r="10" fill="#0000cc"/><circle cx="150" cy="300" r="10" fill="#0000cc"/><circle cx="170" cy="270" r="10" fill="#0000cc"/><circle cx="210" cy="240" r="10" fill="#0000cc"/><circle cx="120" cy="370" r="10" fill="#0000cc"/><circle cx="300" cy="160" r="10" fill="#0000cc"/><circle cx="350" cy="175" r="10" fill="#0000cc"/><circle cx="320" cy="150" r="10" fill="#0000cc"/><circle cx="40" cy="290" r="10" fill="#ffbb00"/><circle cx="65" cy="260" r="10" fill="#ffbb00"/><circle cx="100" cy="265" r="10" fill="#ffbb00"/><circle cx="145" cy="270" r="10" fill="#ffbb00"/><circle cx="120" cy="230" r="10" fill="#ffbb00"/><circle cx="75" cy="330" r="10" fill="#ffbb00"/><circle cx="115" cy="330" r="10" fill="#ffbb00"/><circle cx="155" cy="310" r="10" fill="#ffbb00"/><circle cx="185" cy="300" r="10" fill="#ffbb00"/><circle cx="200" cy="270" r="10" fill="#ffbb00"/><circle cx="230" cy="280" r="10" fill="#ffbb00"/><circle cx="170" cy="345" r="10" fill="#ffbb00"/><circle cx="200" cy="350" r="10" fill="#ffbb00"/><circle cx="240" cy="355" r="10" fill="#ffbb00"/><circle cx="220" cy="445" r="10" fill="#ffbb00"/><circle cx="125" cy="350" r="10" fill="#ffbb00"/><circle cx="60" cy="320" r="10" fill="#ffbb00"/><circle cx="95" cy="295" r="10" fill="#ffbb00"/><circle cx="180" cy="240" r="10" fill="#ffbb00"/><circle cx="250" cy="290" r="10" fill="#ffbb00"/><circle cx="270" cy="380" r="10" fill="#ffbb00"/><path d="M180 400 C182.5 392.5 195.8 390.0 200 395 C204.2 400.0 207.5 422.5 205 430 C202.5 437.5 189.2 445.0 185 440 C180.8 435.0 177.5 407.5 180 400 Z" fill="#fff"/><circle cx="402" cy="368" r="6.8" fill="#ffffff"/><circle cx="389" cy="363" r="6.0" fill="#ffffff"/><circle cx="389" cy="428" r="6.6" fill="#ffffff"/><circle cx="405" cy="376" r="5.9" fill="#ffffff"/><circle cx="430" cy="338" r="5.1" fill="#ffffff"/><circle cx="381" cy="361" r="6.7" fill="#ffffff"/><circle cx="380" cy="332" r="4.8" fill="#ffffff"/><circle cx="427" cy="403" r="5.1" fill="#ffffff"/><circle cx="413" cy="363" r="6.0" fill="#ffffff"/><circle cx="396" cy="333" r="5.5" fill="#ffffff"/><path d="M445 235 C447.0 229.3 452.5 221.3 460 218 C467.5 214.7 482.5 213.0 490 215 C497.5 217.0 504.2 223.3 505 230 C505.8 236.7 501.7 249.7 495 255 C488.3 260.3 472.8 262.5 465 262 C457.2 261.5 451.3 256.5 448 252 C444.7 247.5 443.0 240.7 445 235 Z" fill="#e6003c" stroke="#e6003c" stroke-width="6" stroke-linejoin="round"/><path d="M452 290 C454.5 280.8 462.0 275.8 470 275 C478.0 274.2 493.3 278.3 500 285 C506.7 291.7 510.0 305.8 510 315 C510.0 324.2 505.8 335.0 500 340 C494.2 345.0 482.5 346.7 475 345 C467.5 343.3 458.8 339.2 455 330 C451.2 320.8 449.5 299.2 452 290 Z" fill="#ff00ff" stroke="#ff00ff" stroke-width="6" stroke-linejoin="round"/><circle cx="490" cy="298" r="10" fill="#4d90f0"/><circle cx="500" cy="315" r="10" fill="#4d90f0"/><circle cx="485" cy="325" r="10" fill="#4d90f0"/><circle cx="470" cy="355" r="9" fill="#1fad45"/><circle cx="465" cy="375" r="9" fill="#1fad45"/><circle cx="460" cy="395" r="9" fill="#1fad45"/><circle cx="455" cy="410" r="9" fill="#1fad45"/><circle cx="475" cy="365" r="9" fill="#1fad45"/><path d="M405 455 C405.8 449.7 414.5 441.2 420 440 C425.5 438.8 435.5 443.3 438 448 C440.5 452.7 438.8 464.0 435 468 C431.2 472.0 420.0 474.2 415 472 C410.0 469.8 404.2 460.3 405 455 Z" fill="#b07ae8" stroke="#b07ae8" stroke-width="6" stroke-linejoin="round"/><circle cx="120" cy="150" r="5" fill="#b07ae8"/></g>
<g transform="translate(139 185) scale(0.16728)"><path d="M74 150 L90 132 L115 128 L128 145 L120 165 L90 167 Z" fill="#c2c2c2" stroke="#c2c2c2" stroke-width="4" stroke-linejoin="round"/><circle cx="79" cy="151" r="5.6" fill="#c2c2c2"/><circle cx="95" cy="149" r="8.8" fill="#c2c2c2"/><circle cx="90" cy="135" r="5.8" fill="#c2c2c2"/><circle cx="95" cy="131" r="7.8" fill="#c2c2c2"/><circle cx="104" cy="141" r="8.0" fill="#c2c2c2"/><circle cx="110" cy="131" r="6.7" fill="#c2c2c2"/><circle cx="110" cy="144" r="6.2" fill="#c2c2c2"/><circle cx="115" cy="153" r="7.0" fill="#c2c2c2"/><circle cx="123" cy="160" r="7.7" fill="#c2c2c2"/><circle cx="110" cy="155" r="6.4" fill="#c2c2c2"/><circle cx="109" cy="159" r="6.6" fill="#c2c2c2"/><circle cx="93" cy="157" r="6.9" fill="#c2c2c2"/><circle cx="87" cy="156" r="6.5" fill="#c2c2c2"/><circle cx="87" cy="155" r="7.4" fill="#c2c2c2"/><path d="M133 122 L145 85 L170 65 L200 60 L225 75 L238 100 L228 128 L195 138 L160 140 L138 137 Z" fill="#c2c2c2" stroke="#c2c2c2" stroke-width="4" stroke-linejoin="round"/><circle cx="134" cy="121" r="8.8" fill="#c2c2c2"/><circle cx="141" cy="112" r="6.8" fill="#c2c2c2"/><circle cx="150" cy="106" r="7.5" fill="#c2c2c2"/><circle cx="156" cy="99" r="6.7" fill="#c2c2c2"/><circle cx="150" cy="90" r="7.8" fill="#c2c2c2"/><circle cx="155" cy="88" r="7.0" fill="#c2c2c2"/><circle cx="169" cy="73" r="6.6" fill="#c2c2c2"/><circle cx="164" cy="72" r="6.4" fill="#c2c2c2"/><circle cx="177" cy="67" r="8.3" fill="#c2c2c2"/><circle cx="189" cy="67" r="7.2" fill="#c2c2c2"/><circle cx="191" cy="73" r="8.5" fill="#c2c2c2"/><circle cx="204" cy="65" r="8.7" fill="#c2c2c2"/><circle cx="206" cy="68" r="6.9" fill="#c2c2c2"/><circle cx="216" cy="83" r="6.1" fill="#c2c2c2"/><circle cx="216" cy="84" r="5.7" fill="#c2c2c2"/><circle cx="228" cy="92" r="8.4" fill="#c2c2c2"/><circle cx="237" cy="96" r="8.1" fill="#c2c2c2"/><circle cx="228" cy="114" r="5.9" fill="#c2c2c2"/><circle cx="224" cy="123" r="5.8" fill="#c2c2c2"/><circle cx="219" cy="121" r="6.8" fill="#c2c2c2"/><circle cx="220" cy="122" r="8.2" fill="#c2c2c2"/><circle cx="202" cy="133" r="6.1" fill="#c2c2c2"/><circle cx="192" cy="137" r="5.6" fill="#c2c2c2"/><circle cx="191" cy="127" r="7.5" fill="#c2c2c2"/><circle cx="179" cy="133" r="7.8" fill="#c2c2c2"/><circle cx="177" cy="127" r="8.3" fill="#c2c2c2"/><circle cx="162" cy="135" r="8.2" fill="#c2c2c2"/><circle cx="160" cy="134" r="7.2" fill="#c2c2c2"/><circle cx="143" cy="138" r="7.5" fill="#c2c2c2"/><circle cx="146" cy="134" r="7.8" fill="#c2c2c2"/><circle cx="137" cy="119" r="6.2" fill="#c2c2c2"/><path d="M244 98 L256 52 L270 26 L300 33 L330 48 L370 70 L410 95 L440 130 L461 170 L455 200 L420 204 L380 182 L340 152 L300 132 L258 115 Z" fill="#c2c2c2" stroke="#c2c2c2" stroke-width="4" stroke-linejoin="round"/><circle cx="248" cy="99" r="7.4" fill="#c2c2c2"/><circle cx="253" cy="90" r="7.2" fill="#c2c2c2"/><circle cx="256" cy="75" r="6.0" fill="#c2c2c2"/><circle cx="255" cy="73" r="5.7" fill="#c2c2c2"/><circle cx="259" cy="59" r="7.4" fill="#c2c2c2"/><circle cx="264" cy="55" r="8.6" fill="#c2c2c2"/><circle cx="271" cy="37" r="8.4" fill="#c2c2c2"/><circle cx="279" cy="32" r="8.2" fill="#c2c2c2"/><circle cx="290" cy="40" r="6.3" fill="#c2c2c2"/><circle cx="291" cy="41" r="6.5" fill="#c2c2c2"/><circle cx="301" cy="33" r="8.0" fill="#c2c2c2"/><circle cx="310" cy="40" r="7.6" fill="#c2c2c2"/><circle cx="317" cy="54" r="5.9" fill="#c2c2c2"/><circle cx="339" cy="50" r="6.1" fill="#c2c2c2"/><circle cx="340" cy="64" r="7.2" fill="#c2c2c2"/><circle cx="352" cy="62" r="8.3" fill="#c2c2c2"/><circle cx="353" cy="70" r="8.2" fill="#c2c2c2"/><circle cx="364" cy="70" r="7.9" fill="#c2c2c2"/><circle cx="368" cy="79" r="6.7" fill="#c2c2c2"/><circle cx="381" cy="80" r="8.6" fill="#c2c2c2"/><circle cx="394" cy="91" r="6.6" fill="#c2c2c2"/><circle cx="397" cy="91" r="6.9" fill="#c2c2c2"/><circle cx="406" cy="104" r="5.9" fill="#c2c2c2"/><circle cx="419" cy="114" r="7.3" fill="#c2c2c2"/><circle cx="421" cy="110" r="6.3" fill="#c2c2c2"/><circle cx="421" cy="118" r="7.9" fill="#c2c2c2"/><circle cx="430" cy="134" r="8.1" fill="#c2c2c2"/><circle cx="438" cy="143" r="7.5" fill="#c2c2c2"/><circle cx="446" cy="151" r="7.7" fill="#c2c2c2"/><circle cx="445" cy="165" r="6.3" fill="#c2c2c2"/><circle cx="449" cy="164" r="8.2" fill="#c2c2c2"/><circle cx="459" cy="185" r="6.0" fill="#c2c2c2"/><circle cx="449" cy="192" r="6.0" fill="#c2c2c2"/><circle cx="445" cy="197" r="6.5" fill="#c2c2c2"/><circle cx="433" cy="196" r="6.0" fill="#c2c2c2"/><circle cx="431" cy="197" r="6.1" fill="#c2c2c2"/><circle cx="415" cy="196" r="7.6" fill="#c2c2c2"/><circle cx="400" cy="191" r="5.8" fill="#c2c2c2"/><circle cx="398" cy="187" r="8.1" fill="#c2c2c2"/><circle cx="389" cy="182" r="7.6" fill="#c2c2c2"/><circle cx="376" cy="176" r="6.8" fill="#c2c2c2"/><circle cx="369" cy="168" r="5.6" fill="#c2c2c2"/><circle cx="358" cy="164" r="6.0" fill="#c2c2c2"/><circle cx="352" cy="160" r="7.1" fill="#c2c2c2"/><circle cx="350" cy="147" r="5.6" fill="#c2c2c2"/><circle cx="339" cy="147" r="7.1" fill="#c2c2c2"/><circle cx="330" cy="145" r="6.8" fill="#c2c2c2"/><circle cx="329" cy="139" r="6.2" fill="#c2c2c2"/><circle cx="316" cy="135" r="7.5" fill="#c2c2c2"/><circle cx="308" cy="127" r="8.0" fill="#c2c2c2"/><circle cx="296" cy="130" r="8.0" fill="#c2c2c2"/><circle cx="287" cy="123" r="6.3" fill="#c2c2c2"/><circle cx="269" cy="118" r="7.2" fill="#c2c2c2"/><circle cx="263" cy="115" r="8.4" fill="#c2c2c2"/><circle cx="263" cy="112" r="6.0" fill="#c2c2c2"/><circle cx="327" cy="67" r="4.3" fill="#ffffff"/><circle cx="394" cy="124" r="4.7" fill="#ffffff"/><circle cx="403" cy="129" r="5.4" fill="#ffffff"/><circle cx="388" cy="175" r="4.8" fill="#ffffff"/><circle cx="278" cy="53" r="5.3" fill="#ffffff"/><circle cx="432" cy="176" r="4.4" fill="#ffffff"/><circle cx="402" cy="156" r="4.2" fill="#ffffff"/><circle cx="442" cy="149" r="5.7" fill="#ffffff"/><circle cx="256" cy="83" r="5.1" fill="#ffffff"/><circle cx="437" cy="177" r="4.5" fill="#ffffff"/><circle cx="332" cy="144" r="4.9" fill="#ffffff"/><circle cx="273" cy="108" r="5.3" fill="#ffffff"/><circle cx="386" cy="83" r="4.2" fill="#ffffff"/><circle cx="431" cy="182" r="5.3" fill="#ffffff"/><circle cx="386" cy="159" r="5.1" fill="#ffffff"/><circle cx="392" cy="99" r="4.8" fill="#ffffff"/><circle cx="407" cy="156" r="4.4" fill="#ffffff"/><circle cx="280" cy="32" r="4.3" fill="#ffffff"/><circle cx="295" cy="127" r="4.3" fill="#ffffff"/><circle cx="315" cy="67" r="5.2" fill="#ffffff"/><circle cx="374" cy="153" r="5.0" fill="#ffffff"/><circle cx="438" cy="172" r="4.1" fill="#ffffff"/><circle cx="137" cy="116" r="4.3" fill="#ffffff"/><circle cx="182" cy="114" r="5.4" fill="#ffffff"/><circle cx="181" cy="100" r="4.0" fill="#ffffff"/><circle cx="178" cy="90" r="5.5" fill="#ffffff"/><circle cx="190" cy="120" r="4.8" fill="#ffffff"/><circle cx="151" cy="128" r="5.4" fill="#ffffff"/><path d="M160 165 C160.0 156.7 185.0 155.0 200 150 C215.0 145.0 235.0 136.7 250 135 C265.0 133.3 276.7 137.5 290 140 C303.3 142.5 315.0 143.3 330 150 C345.0 156.7 366.7 170.0 380 180 C393.3 190.0 401.7 198.3 410 210 C418.3 221.7 425.0 235.0 430 250 C435.0 265.0 440.0 285.0 440 300 C440.0 315.0 433.3 328.3 430 340 C426.7 351.7 425.0 360.0 420 370 C415.0 380.0 406.7 391.7 400 400 C393.3 408.3 385.0 411.7 380 420 C375.0 428.3 378.3 446.7 370 450 C361.7 453.3 341.7 448.3 330 440 C318.3 431.7 308.3 401.7 300 400 C291.7 398.3 288.3 420.0 280 430 C271.7 440.0 260.0 455.0 250 460 C240.0 465.0 230.0 465.0 220 460 C210.0 455.0 199.2 433.3 190 430 C180.8 426.7 175.0 438.3 165 440 C155.0 441.7 140.8 443.3 130 440 C119.2 436.7 108.3 428.3 100 420 C91.7 411.7 81.7 400.0 80 390 C78.3 380.0 83.3 366.7 90 360 C96.7 353.3 106.7 353.3 120 350 C133.3 346.7 155.0 343.3 170 340 C185.0 336.7 200.0 341.7 210 330 C220.0 318.3 231.7 291.7 230 270 C228.3 248.3 211.7 217.5 200 200 C188.3 182.5 160.0 173.3 160 165 Z" fill="#0000cc" stroke="#0000cc" stroke-width="6" stroke-linejoin="round"/><circle cx="162" cy="166" r="8.6" fill="#0000cc"/><circle cx="170" cy="168" r="7.6" fill="#0000cc"/><circle cx="183" cy="163" r="6.4" fill="#0000cc"/><circle cx="201" cy="151" r="6.6" fill="#0000cc"/><circle cx="214" cy="159" r="6.7" fill="#0000cc"/><circle cx="224" cy="152" r="9.7" fill="#0000cc"/><circle cx="242" cy="144" r="9.8" fill="#0000cc"/><circle cx="247" cy="149" r="7.3" fill="#0000cc"/><circle cx="262" cy="139" r="7.4" fill="#0000cc"/><circle cx="286" cy="142" r="8.4" fill="#0000cc"/><circle cx="296" cy="147" r="8.3" fill="#0000cc"/><circle cx="300" cy="146" r="7.0" fill="#0000cc"/><circle cx="323" cy="155" r="7.4" fill="#0000cc"/><circle cx="334" cy="160" r="7.4" fill="#0000cc"/><circle cx="349" cy="171" r="7.2" fill="#0000cc"/><circle cx="357" cy="175" r="9.5" fill="#0000cc"/><circle cx="371" cy="178" r="9.8" fill="#0000cc"/><circle cx="372" cy="188" r="9.0" fill="#0000cc"/><circle cx="382" cy="199" r="6.4" fill="#0000cc"/><circle cx="400" cy="213" r="8.4" fill="#0000cc"/><circle cx="411" cy="216" r="8.8" fill="#0000cc"/><circle cx="413" cy="232" r="7.9" fill="#0000cc"/><circle cx="423" cy="250" r="8.0" fill="#0000cc"/><circle cx="426" cy="248" r="8.8" fill="#0000cc"/><circle cx="428" cy="276" r="9.3" fill="#0000cc"/><circle cx="425" cy="280" r="8.7" fill="#0000cc"/><circle cx="423" cy="294" r="6.9" fill="#0000cc"/><circle cx="424" cy="301" r="9.1" fill="#0000cc"/><circle cx="421" cy="317" r="7.7" fill="#0000cc"/><circle cx="429" cy="327" r="7.9" fill="#0000cc"/><circle cx="420" cy="353" r="9.2" fill="#0000cc"/><circle cx="421" cy="356" r="7.8" fill="#0000cc"/><circle cx="408" cy="377" r="9.7" fill="#0000cc"/><circle cx="397" cy="377" r="7.1" fill="#0000cc"/><circle cx="391" cy="393" r="8.4" fill="#0000cc"/><circle cx="382" cy="395" r="7.8" fill="#0000cc"/><circle cx="374" cy="413" r="9.7" fill="#0000cc"/><circle cx="374" cy="425" r="8.5" fill="#0000cc"/><circle cx="370" cy="430" r="9.5" fill="#0000cc"/><circle cx="363" cy="448" r="9.2" fill="#0000cc"/><circle cx="343" cy="437" r="6.7" fill="#0000cc"/><circle cx="334" cy="428" r="6.5" fill="#0000cc"/><circle cx="317" cy="421" r="7.5" fill="#0000cc"/><circle cx="306" cy="407" r="6.8" fill="#0000cc"/><circle cx="298" cy="402" r="6.4" fill="#0000cc"/><circle cx="302" cy="395" r="6.8" fill="#0000cc"/><circle cx="286" cy="402" r="7.6" fill="#0000cc"/><circle cx="277" cy="421" r="9.9" fill="#0000cc"/><circle cx="274" cy="426" r="6.6" fill="#0000cc"/><circle cx="259" cy="434" r="7.3" fill="#0000cc"/><circle cx="262" cy="441" r="6.4" fill="#0000cc"/><circle cx="253" cy="452" r="6.8" fill="#0000cc"/><circle cx="233" cy="445" r="8.2" fill="#0000cc"/><circle cx="228" cy="455" r="8.8" fill="#0000cc"/><circle cx="207" cy="438" r="6.9" fill="#0000cc"/><circle cx="206" cy="431" r="9.1" fill="#0000cc"/><circle cx="189" cy="421" r="9.2" fill="#0000cc"/><circle cx="186" cy="436" r="9.2" fill="#0000cc"/><circle cx="171" cy="438" r="7.1" fill="#0000cc"/><circle cx="152" cy="432" r="6.4" fill="#0000cc"/><circle cx="130" cy="431" r="7.2" fill="#0000cc"/><circle cx="129" cy="436" r="7.9" fill="#0000cc"/><circle cx="122" cy="429" r="9.7" fill="#0000cc"/><circle cx="103" cy="408" r="7.1" fill="#0000cc"/><circle cx="92" cy="397" r="8.5" fill="#0000cc"/><circle cx="96" cy="396" r="8.0" fill="#0000cc"/><circle cx="94" cy="383" r="6.6" fill="#0000cc"/><circle cx="98" cy="372" r="9.1" fill="#0000cc"/><circle cx="109" cy="356" r="6.9" fill="#0000cc"/><circle cx="123" cy="349" r="9.2" fill="#0000cc"/><circle cx="139" cy="346" r="7.7" fill="#0000cc"/><circle cx="152" cy="349" r="6.9" fill="#0000cc"/><circle cx="153" cy="337" r="9.6" fill="#0000cc"/><circle cx="178" cy="334" r="9.3" fill="#0000cc"/><circle cx="194" cy="339" r="7.6" fill="#0000cc"/><circle cx="201" cy="328" r="6.4" fill="#0000cc"/><circle cx="221" cy="333" r="8.2" fill="#0000cc"/><circle cx="228" cy="321" r="9.4" fill="#0000cc"/><circle cx="230" cy="306" r="7.2" fill="#0000cc"/><circle cx="225" cy="295" r="8.4" fill="#0000cc"/><circle cx="228" cy="286" r="6.8" fill="#0000cc"/><circle cx="240" cy="272" r="7.9" fill="#0000cc"/><circle cx="229" cy="268" r="7.8" fill="#0000cc"/><circle cx="228" cy="249" r="8.2" fill="#0000cc"/><circle cx="217" cy="228" r="7.9" fill="#0000cc"/><circle cx="205" cy="215" r="9.2" fill="#0000cc"/><circle cx="200" cy="210" r="8.9" fill="#0000cc"/><circle cx="197" cy="197" r="8.2" fill="#0000cc"/><circle cx="186" cy="195" r="6.7" fill="#0000cc"/><circle cx="176" cy="177" r="7.3" fill="#0000cc"/><circle cx="169" cy="172" r="8.3" fill="#0000cc"/><path d="M170 180 L245 225 L245 350 L190 355 L175 260 Z" fill="#0000cc"/><path d="M30 280 L40 240 L60 215 L90 195 L110 175 L135 160 L160 165 L180 195 L200 220 L215 255 L222 300 L210 340 L180 360 L140 365 L100 360 L60 345 L35 315 Z" fill="#ffbb00" stroke="#ffbb00" stroke-width="4" stroke-linejoin="round"/><circle cx="38" cy="278" r="8.3" fill="#ffbb00"/><circle cx="39" cy="275" r="6.9" fill="#ffbb00"/><circle cx="42" cy="265" r="8.5" fill="#ffbb00"/><circle cx="52" cy="248" r="7.6" fill="#ffbb00"/><circle cx="45" cy="236" r="6.6" fill="#ffbb00"/><circle cx="54" cy="232" r="8.4" fill="#ffbb00"/><circle cx="67" cy="236" r="9.1" fill="#ffbb00"/><circle cx="63" cy="219" r="9.5" fill="#ffbb00"/><circle cx="70" cy="220" r="7.2" fill="#ffbb00"/><circle cx="81" cy="211" r="9.8" fill="#ffbb00"/><circle cx="93" cy="211" r="7.6" fill="#ffbb00"/><circle cx="94" cy="205" r="8.4" fill="#ffbb00"/><circle cx="106" cy="186" r="6.5" fill="#ffbb00"/><circle cx="108" cy="182" r="7.3" fill="#ffbb00"/><circle cx="122" cy="186" r="7.1" fill="#ffbb00"/><circle cx="119" cy="169" r="7.0" fill="#ffbb00"/><circle cx="137" cy="167" r="9.8" fill="#ffbb00"/><circle cx="135" cy="170" r="6.8" fill="#ffbb00"/><circle cx="157" cy="170" r="7.2" fill="#ffbb00"/><circle cx="161" cy="182" r="6.4" fill="#ffbb00"/><circle cx="160" cy="191" r="7.8" fill="#ffbb00"/><circle cx="163" cy="199" r="9.7" fill="#ffbb00"/><circle cx="173" cy="196" r="6.4" fill="#ffbb00"/><circle cx="184" cy="212" r="9.0" fill="#ffbb00"/><circle cx="189" cy="213" r="7.3" fill="#ffbb00"/><circle cx="193" cy="227" r="8.0" fill="#ffbb00"/><circle cx="196" cy="229" r="9.3" fill="#ffbb00"/><circle cx="207" cy="236" r="9.8" fill="#ffbb00"/><circle cx="208" cy="247" r="7.2" fill="#ffbb00"/><circle cx="210" cy="257" r="8.4" fill="#ffbb00"/><circle cx="217" cy="274" r="8.8" fill="#ffbb00"/><circle cx="211" cy="270" r="6.6" fill="#ffbb00"/><circle cx="217" cy="281" r="8.8" fill="#ffbb00"/><circle cx="211" cy="290" r="8.8" fill="#ffbb00"/><circle cx="207" cy="297" r="9.9" fill="#ffbb00"/><circle cx="208" cy="310" r="9.1" fill="#ffbb00"/><circle cx="203" cy="327" r="7.1" fill="#ffbb00"/><circle cx="209" cy="335" r="6.7" fill="#ffbb00"/><circle cx="197" cy="343" r="8.1" fill="#ffbb00"/><circle cx="190" cy="336" r="6.9" fill="#ffbb00"/><circle cx="190" cy="356" r="8.2" fill="#ffbb00"/><circle cx="177" cy="347" r="9.7" fill="#ffbb00"/><circle cx="167" cy="358" r="9.4" fill="#ffbb00"/><circle cx="151" cy="358" r="8.0" fill="#ffbb00"/><circle cx="143" cy="351" r="8.9" fill="#ffbb00"/><circle cx="132" cy="351" r="7.7" fill="#ffbb00"/><circle cx="126" cy="354" r="7.1" fill="#ffbb00"/><circle cx="125" cy="348" r="9.2" fill="#ffbb00"/><circle cx="112" cy="352" r="7.4" fill="#ffbb00"/><circle cx="105" cy="355" r="7.2" fill="#ffbb00"/><circle cx="96" cy="350" r="6.9" fill="#ffbb00"/><circle cx="89" cy="342" r="6.8" fill="#ffbb00"/><circle cx="80" cy="345" r="8.0" fill="#ffbb00"/><circle cx="65" cy="337" r="8.1" fill="#ffbb00"/><circle cx="51" cy="332" r="7.6" fill="#ffbb00"/><circle cx="46" cy="320" r="7.7" fill="#ffbb00"/><circle cx="39" cy="312" r="7.4" fill="#ffbb00"/><circle cx="36" cy="306" r="6.5" fill="#ffbb00"/><circle cx="40" cy="295" r="7.4" fill="#ffbb00"/><circle cx="42" cy="290" r="6.7" fill="#ffbb00"/><circle cx="212" cy="230" r="9" fill="#ffbb00"/><circle cx="220" cy="265" r="9" fill="#ffbb00"/><circle cx="215" cy="300" r="9" fill="#ffbb00"/><circle cx="225" cy="320" r="9" fill="#ffbb00"/><circle cx="205" cy="345" r="9" fill="#ffbb00"/><circle cx="190" cy="360" r="9" fill="#ffbb00"/><path d="M220 345 C224.2 339.2 240.0 334.2 250 335 C260.0 335.8 275.8 342.5 280 350 C284.2 357.5 280.8 374.2 275 380 C269.2 385.8 253.3 386.7 245 385 C236.7 383.3 229.2 376.7 225 370 C220.8 363.3 215.8 350.8 220 345 Z" fill="#fff"/><path d="M310 385 C310.8 380.0 332.5 374.2 340 375 C347.5 375.8 355.8 385.0 355 390 C354.2 395.0 342.5 405.8 335 405 C327.5 404.2 309.2 390.0 310 385 Z" fill="#fff"/><path d="M215 410 C218.3 402.8 239.2 400.0 245 405 C250.8 410.0 253.3 432.8 250 440 C246.7 447.2 230.8 453.0 225 448 C219.2 443.0 211.7 417.2 215 410 Z" fill="#fff"/><circle cx="398" cy="419" r="7.7" fill="#ffffff"/><circle cx="387" cy="403" r="8.4" fill="#ffffff"/><circle cx="349" cy="430" r="8.5" fill="#ffffff"/><circle cx="359" cy="404" r="6.9" fill="#ffffff"/><circle cx="370" cy="374" r="7.0" fill="#ffffff"/><circle cx="345" cy="381" r="8.2" fill="#ffffff"/><circle cx="365" cy="396" r="9.1" fill="#ffffff"/><circle cx="340" cy="398" r="7.6" fill="#ffffff"/><circle cx="378" cy="355" r="8.6" fill="#ffffff"/><circle cx="413" cy="375" r="8.7" fill="#ffffff"/><circle cx="404" cy="412" r="6.5" fill="#ffffff"/><circle cx="383" cy="370" r="7.3" fill="#ffffff"/><circle cx="356" cy="368" r="6.8" fill="#ffffff"/><circle cx="389" cy="394" r="8.2" fill="#ffffff"/><circle cx="420" cy="380" r="10" fill="#0000cc"/><circle cx="405" cy="410" r="10" fill="#0000cc"/><circle cx="380" cy="440" r="10" fill="#0000cc"/><circle cx="372" cy="460" r="10" fill="#0000cc"/><circle cx="250" cy="330" r="9" fill="#ffbb00"/><circle cx="240" cy="380" r="9" fill="#ffbb00"/><circle cx="270" cy="400" r="9" fill="#ffbb00"/><circle cx="190" cy="440" r="9" fill="#ffbb00"/><circle cx="230" cy="445" r="9" fill="#ffbb00"/><circle cx="190" cy="380" r="9" fill="#ffbb00"/><circle cx="210" cy="290" r="9" fill="#ffbb00"/><circle cx="240" cy="300" r="9" fill="#ffbb00"/><circle cx="150" cy="270" r="9" fill="#ffbb00"/><circle cx="300" cy="415" r="9" fill="#ffbb00"/><circle cx="420" cy="375" r="9" fill="#ffbb00"/><circle cx="470" cy="225" r="11" fill="#e6003c"/><circle cx="482" cy="240" r="11" fill="#e6003c"/><circle cx="462" cy="250" r="11" fill="#e6003c"/><path d="M478 288 C481.0 281.8 495.5 280.0 500 285 C504.5 290.0 508.0 311.8 505 318 C502.0 324.2 486.5 327.0 482 322 C477.5 317.0 475.0 294.2 478 288 Z" fill="#4d90f0" stroke="#4d90f0" stroke-width="4" stroke-linejoin="round"/><path d="M452 318 C452.5 314.7 460.7 306.0 465 305 C469.3 304.0 473.8 307.0 478 312 C482.2 317.0 490.5 330.3 490 335 C489.5 339.7 479.7 341.7 475 340 C470.3 338.3 465.8 328.7 462 325 C458.2 321.3 451.5 321.3 452 318 Z" fill="#ff00ff" stroke="#ff00ff" stroke-width="4" stroke-linejoin="round"/><circle cx="470" cy="380" r="8" fill="#1fad45"/><circle cx="460" cy="405" r="8" fill="#1fad45"/><circle cx="450" cy="415" r="8" fill="#1fad45"/><path d="M410 455 C411.7 450.0 419.7 442.8 425 442 C430.3 441.2 439.8 445.3 442 450 C444.2 454.7 442.5 466.3 438 470 C433.5 473.7 419.7 474.5 415 472 C410.3 469.5 408.3 460.0 410 455 Z" fill="#b07ae8" stroke="#b07ae8" stroke-width="6" stroke-linejoin="round"/><circle cx="42" cy="295" r="6" fill="#b07ae8"/></g>
<g transform="translate(233 185) scale(0.16728)"><path d="M79 140 L95 128 L118 130 L115 148 L85 150 Z" fill="#c2c2c2" stroke="#c2c2c2" stroke-width="4" stroke-linejoin="round"/><circle cx="91" cy="140" r="6.0" fill="#c2c2c2"/><circle cx="87" cy="135" r="8.4" fill="#c2c2c2"/><circle cx="102" cy="134" r="7.0" fill="#c2c2c2"/><circle cx="99" cy="141" r="7.0" fill="#c2c2c2"/><circle cx="101" cy="134" r="5.6" fill="#c2c2c2"/><circle cx="112" cy="128" r="8.2" fill="#c2c2c2"/><circle cx="109" cy="145" r="6.9" fill="#c2c2c2"/><circle cx="105" cy="151" r="8.4" fill="#c2c2c2"/><circle cx="96" cy="150" r="8.4" fill="#c2c2c2"/><circle cx="105" cy="143" r="8.0" fill="#c2c2c2"/><circle cx="98" cy="142" r="5.7" fill="#c2c2c2"/><circle cx="92" cy="150" r="5.9" fill="#c2c2c2"/><circle cx="89" cy="140" r="6.9" fill="#c2c2c2"/><path d="M133 125 L142 92 L165 70 L200 60 L241 75 L245 110 L230 135 L195 140 L160 142 L138 138 Z" fill="#c2c2c2" stroke="#c2c2c2" stroke-width="4" stroke-linejoin="round"/><circle cx="139" cy="122" r="5.7" fill="#c2c2c2"/><circle cx="147" cy="116" r="7.7" fill="#c2c2c2"/><circle cx="145" cy="108" r="8.4" fill="#c2c2c2"/><circle cx="151" cy="94" r="8.5" fill="#c2c2c2"/><circle cx="151" cy="84" r="6.4" fill="#c2c2c2"/><circle cx="161" cy="89" r="6.7" fill="#c2c2c2"/><circle cx="169" cy="75" r="5.7" fill="#c2c2c2"/><circle cx="181" cy="76" r="7.1" fill="#c2c2c2"/><circle cx="186" cy="67" r="8.4" fill="#c2c2c2"/><circle cx="189" cy="76" r="6.1" fill="#c2c2c2"/><circle cx="200" cy="65" r="7.6" fill="#c2c2c2"/><circle cx="203" cy="65" r="6.6" fill="#c2c2c2"/><circle cx="212" cy="78" r="6.0" fill="#c2c2c2"/><circle cx="224" cy="77" r="6.0" fill="#c2c2c2"/><circle cx="241" cy="78" r="7.4" fill="#c2c2c2"/><circle cx="232" cy="86" r="7.6" fill="#c2c2c2"/><circle cx="239" cy="103" r="8.6" fill="#c2c2c2"/><circle cx="244" cy="108" r="5.7" fill="#c2c2c2"/><circle cx="228" cy="122" r="8.7" fill="#c2c2c2"/><circle cx="229" cy="117" r="6.5" fill="#c2c2c2"/><circle cx="226" cy="127" r="6.4" fill="#c2c2c2"/><circle cx="212" cy="135" r="8.0" fill="#c2c2c2"/><circle cx="202" cy="131" r="7.2" fill="#c2c2c2"/><circle cx="194" cy="140" r="5.9" fill="#c2c2c2"/><circle cx="185" cy="131" r="7.2" fill="#c2c2c2"/><circle cx="183" cy="138" r="7.6" fill="#c2c2c2"/><circle cx="168" cy="137" r="8.2" fill="#c2c2c2"/><circle cx="161" cy="142" r="5.7" fill="#c2c2c2"/><circle cx="151" cy="141" r="7.4" fill="#c2c2c2"/><circle cx="147" cy="129" r="8.8" fill="#c2c2c2"/><path d="M250 62 L270 30 L300 25 L330 40 L360 60 L400 85 L440 110 L465 150 L462 198 L430 205 L390 185 L345 155 L300 137 L268 120 Z" fill="#c2c2c2" stroke="#c2c2c2" stroke-width="4" stroke-linejoin="round"/><circle cx="255" cy="71" r="6.2" fill="#c2c2c2"/><circle cx="259" cy="55" r="6.4" fill="#c2c2c2"/><circle cx="265" cy="52" r="7.2" fill="#c2c2c2"/><circle cx="267" cy="44" r="6.3" fill="#c2c2c2"/><circle cx="285" cy="28" r="7.7" fill="#c2c2c2"/><circle cx="293" cy="34" r="8.7" fill="#c2c2c2"/><circle cx="305" cy="29" r="7.1" fill="#c2c2c2"/><circle cx="305" cy="37" r="6.9" fill="#c2c2c2"/><circle cx="315" cy="42" r="8.0" fill="#c2c2c2"/><circle cx="324" cy="48" r="7.8" fill="#c2c2c2"/><circle cx="333" cy="55" r="5.9" fill="#c2c2c2"/><circle cx="341" cy="62" r="8.5" fill="#c2c2c2"/><circle cx="355" cy="70" r="7.5" fill="#c2c2c2"/><circle cx="369" cy="69" r="7.0" fill="#c2c2c2"/><circle cx="377" cy="76" r="7.1" fill="#c2c2c2"/><circle cx="384" cy="84" r="8.1" fill="#c2c2c2"/><circle cx="385" cy="91" r="7.4" fill="#c2c2c2"/><circle cx="391" cy="91" r="7.4" fill="#c2c2c2"/><circle cx="399" cy="89" r="7.6" fill="#c2c2c2"/><circle cx="415" cy="94" r="7.3" fill="#c2c2c2"/><circle cx="421" cy="108" r="7.8" fill="#c2c2c2"/><circle cx="425" cy="110" r="5.8" fill="#c2c2c2"/><circle cx="432" cy="114" r="8.4" fill="#c2c2c2"/><circle cx="448" cy="128" r="6.6" fill="#c2c2c2"/><circle cx="453" cy="129" r="7.2" fill="#c2c2c2"/><circle cx="450" cy="138" r="8.7" fill="#c2c2c2"/><circle cx="455" cy="148" r="7.0" fill="#c2c2c2"/><circle cx="463" cy="166" r="5.8" fill="#c2c2c2"/><circle cx="456" cy="181" r="6.9" fill="#c2c2c2"/><circle cx="456" cy="187" r="8.6" fill="#c2c2c2"/><circle cx="459" cy="191" r="7.6" fill="#c2c2c2"/><circle cx="444" cy="192" r="6.0" fill="#c2c2c2"/><circle cx="430" cy="193" r="6.6" fill="#c2c2c2"/><circle cx="428" cy="193" r="7.2" fill="#c2c2c2"/><circle cx="421" cy="198" r="7.0" fill="#c2c2c2"/><circle cx="397" cy="189" r="7.8" fill="#c2c2c2"/><circle cx="397" cy="186" r="7.0" fill="#c2c2c2"/><circle cx="386" cy="180" r="6.3" fill="#c2c2c2"/><circle cx="376" cy="174" r="7.1" fill="#c2c2c2"/><circle cx="368" cy="160" r="8.6" fill="#c2c2c2"/><circle cx="358" cy="162" r="7.2" fill="#c2c2c2"/><circle cx="357" cy="155" r="7.2" fill="#c2c2c2"/><circle cx="351" cy="152" r="7.8" fill="#c2c2c2"/><circle cx="338" cy="140" r="5.9" fill="#c2c2c2"/><circle cx="332" cy="138" r="7.0" fill="#c2c2c2"/><circle cx="318" cy="135" r="8.4" fill="#c2c2c2"/><circle cx="310" cy="130" r="8.6" fill="#c2c2c2"/><circle cx="293" cy="134" r="5.9" fill="#c2c2c2"/><circle cx="296" cy="130" r="7.4" fill="#c2c2c2"/><circle cx="278" cy="127" r="6.3" fill="#c2c2c2"/><circle cx="275" cy="110" r="6.0" fill="#c2c2c2"/><circle cx="264" cy="100" r="5.6" fill="#c2c2c2"/><circle cx="265" cy="90" r="6.9" fill="#c2c2c2"/><circle cx="266" cy="88" r="6.8" fill="#c2c2c2"/><circle cx="260" cy="74" r="7.7" fill="#c2c2c2"/><circle cx="251" cy="66" r="7.2" fill="#c2c2c2"/><circle cx="309" cy="65" r="5.3" fill="#ffffff"/><circle cx="395" cy="186" r="4.2" fill="#ffffff"/><circle cx="297" cy="116" r="4.0" fill="#ffffff"/><circle cx="367" cy="65" r="5.0" fill="#ffffff"/><circle cx="423" cy="151" r="4.6" fill="#ffffff"/><circle cx="322" cy="42" r="4.2" fill="#ffffff"/><circle cx="432" cy="134" r="5.4" fill="#ffffff"/><circle cx="407" cy="122" r="5.7" fill="#ffffff"/><circle cx="331" cy="124" r="5.5" fill="#ffffff"/><circle cx="383" cy="180" r="5.0" fill="#ffffff"/><circle cx="299" cy="77" r="4.1" fill="#ffffff"/><circle cx="300" cy="43" r="4.5" fill="#ffffff"/><circle cx="387" cy="91" r="4.6" fill="#ffffff"/><circle cx="295" cy="73" r="5.6" fill="#ffffff"/><circle cx="389" cy="135" r="4.3" fill="#ffffff"/><circle cx="388" cy="125" r="5.2" fill="#ffffff"/><circle cx="431" cy="165" r="4.4" fill="#ffffff"/><circle cx="257" cy="82" r="4.5" fill="#ffffff"/><circle cx="391" cy="96" r="5.6" fill="#ffffff"/><circle cx="349" cy="73" r="4.4" fill="#ffffff"/><circle cx="371" cy="72" r="5.0" fill="#ffffff"/><circle cx="385" cy="168" r="4.7" fill="#ffffff"/><circle cx="179" cy="104" r="5.5" fill="#ffffff"/><circle cx="211" cy="91" r="4.7" fill="#ffffff"/><circle cx="210" cy="87" r="4.1" fill="#ffffff"/><circle cx="227" cy="111" r="4.2" fill="#ffffff"/><circle cx="186" cy="135" r="4.3" fill="#ffffff"/><circle cx="162" cy="80" r="4.1" fill="#ffffff"/><path d="M140 165 C143.3 155.8 165.0 150.0 180 145 C195.0 140.0 213.3 135.8 230 135 C246.7 134.2 265.0 137.5 280 140 C295.0 142.5 305.0 143.3 320 150 C335.0 156.7 356.7 170.0 370 180 C383.3 190.0 390.0 199.2 400 210 C410.0 220.8 423.3 231.7 430 245 C436.7 258.3 440.0 275.8 440 290 C440.0 304.2 430.0 315.0 430 330 C430.0 345.0 441.7 366.7 440 380 C438.3 393.3 426.7 401.7 420 410 C413.3 418.3 411.7 425.0 400 430 C388.3 435.0 366.7 438.3 350 440 C333.3 441.7 313.3 440.8 300 440 C286.7 439.2 281.7 434.2 270 435 C258.3 435.8 241.7 442.5 230 445 C218.3 447.5 211.7 447.5 200 450 C188.3 452.5 171.7 463.3 160 460 C148.3 456.7 140.0 438.3 130 430 C120.0 421.7 107.5 417.5 100 410 C92.5 402.5 86.7 393.3 85 385 C83.3 376.7 84.2 367.5 90 360 C95.8 352.5 106.7 345.0 120 340 C133.3 335.0 156.7 336.7 170 330 C183.3 323.3 191.7 311.7 200 300 C208.3 288.3 220.0 275.0 220 260 C220.0 245.0 210.0 220.0 200 210 C190.0 200.0 170.0 207.5 160 200 C150.0 192.5 136.7 174.2 140 165 Z" fill="#0000cc" stroke="#0000cc" stroke-width="6" stroke-linejoin="round"/><circle cx="144" cy="172" r="9.6" fill="#0000cc"/><circle cx="157" cy="166" r="8.4" fill="#0000cc"/><circle cx="164" cy="160" r="8.6" fill="#0000cc"/><circle cx="186" cy="147" r="7.4" fill="#0000cc"/><circle cx="188" cy="155" r="8.8" fill="#0000cc"/><circle cx="200" cy="155" r="9.8" fill="#0000cc"/><circle cx="223" cy="147" r="6.9" fill="#0000cc"/><circle cx="226" cy="144" r="6.5" fill="#0000cc"/><circle cx="242" cy="141" r="6.4" fill="#0000cc"/><circle cx="260" cy="145" r="9.3" fill="#0000cc"/><circle cx="274" cy="150" r="8.1" fill="#0000cc"/><circle cx="290" cy="149" r="7.3" fill="#0000cc"/><circle cx="308" cy="161" r="9.3" fill="#0000cc"/><circle cx="316" cy="154" r="7.1" fill="#0000cc"/><circle cx="322" cy="156" r="9.1" fill="#0000cc"/><circle cx="335" cy="175" r="7.7" fill="#0000cc"/><circle cx="355" cy="182" r="6.3" fill="#0000cc"/><circle cx="355" cy="190" r="8.0" fill="#0000cc"/><circle cx="378" cy="190" r="6.6" fill="#0000cc"/><circle cx="382" cy="205" r="7.3" fill="#0000cc"/><circle cx="382" cy="208" r="9.8" fill="#0000cc"/><circle cx="402" cy="214" r="7.2" fill="#0000cc"/><circle cx="401" cy="223" r="9.2" fill="#0000cc"/><circle cx="411" cy="241" r="7.9" fill="#0000cc"/><circle cx="418" cy="255" r="6.8" fill="#0000cc"/><circle cx="428" cy="258" r="7.8" fill="#0000cc"/><circle cx="424" cy="274" r="9.8" fill="#0000cc"/><circle cx="437" cy="288" r="9.5" fill="#0000cc"/><circle cx="424" cy="302" r="9.4" fill="#0000cc"/><circle cx="427" cy="310" r="9.9" fill="#0000cc"/><circle cx="417" cy="326" r="9.1" fill="#0000cc"/><circle cx="422" cy="340" r="6.6" fill="#0000cc"/><circle cx="421" cy="358" r="7.2" fill="#0000cc"/><circle cx="432" cy="367" r="7.9" fill="#0000cc"/><circle cx="437" cy="382" r="8.4" fill="#0000cc"/><circle cx="428" cy="388" r="6.9" fill="#0000cc"/><circle cx="421" cy="409" r="7.2" fill="#0000cc"/><circle cx="400" cy="418" r="9.7" fill="#0000cc"/><circle cx="390" cy="431" r="9.5" fill="#0000cc"/><circle cx="384" cy="426" r="6.7" fill="#0000cc"/><circle cx="362" cy="437" r="7.2" fill="#0000cc"/><circle cx="359" cy="428" r="9.3" fill="#0000cc"/><circle cx="344" cy="430" r="6.9" fill="#0000cc"/><circle cx="332" cy="426" r="7.1" fill="#0000cc"/><circle cx="316" cy="438" r="8.5" fill="#0000cc"/><circle cx="298" cy="439" r="7.0" fill="#0000cc"/><circle cx="281" cy="427" r="7.9" fill="#0000cc"/><circle cx="269" cy="423" r="7.6" fill="#0000cc"/><circle cx="264" cy="423" r="7.6" fill="#0000cc"/><circle cx="256" cy="440" r="8.7" fill="#0000cc"/><circle cx="240" cy="437" r="6.8" fill="#0000cc"/><circle cx="217" cy="431" r="9.6" fill="#0000cc"/><circle cx="214" cy="448" r="6.4" fill="#0000cc"/><circle cx="200" cy="444" r="8.9" fill="#0000cc"/><circle cx="182" cy="456" r="6.6" fill="#0000cc"/><circle cx="172" cy="455" r="9.5" fill="#0000cc"/><circle cx="164" cy="452" r="9.2" fill="#0000cc"/><circle cx="157" cy="437" r="8.8" fill="#0000cc"/><circle cx="148" cy="436" r="7.8" fill="#0000cc"/><circle cx="135" cy="427" r="8.4" fill="#0000cc"/><circle cx="121" cy="412" r="8.4" fill="#0000cc"/><circle cx="110" cy="400" r="8.6" fill="#0000cc"/><circle cx="109" cy="402" r="8.9" fill="#0000cc"/><circle cx="92" cy="388" r="8.4" fill="#0000cc"/><circle cx="94" cy="376" r="6.6" fill="#0000cc"/><circle cx="102" cy="350" r="8.5" fill="#0000cc"/><circle cx="109" cy="346" r="8.8" fill="#0000cc"/><circle cx="121" cy="344" r="9.6" fill="#0000cc"/><circle cx="130" cy="329" r="7.4" fill="#0000cc"/><circle cx="151" cy="330" r="6.9" fill="#0000cc"/><circle cx="168" cy="334" r="7.9" fill="#0000cc"/><circle cx="182" cy="326" r="8.7" fill="#0000cc"/><circle cx="181" cy="320" r="9.2" fill="#0000cc"/><circle cx="203" cy="318" r="7.7" fill="#0000cc"/><circle cx="207" cy="301" r="6.8" fill="#0000cc"/><circle cx="212" cy="299" r="9.4" fill="#0000cc"/><circle cx="221" cy="290" r="7.3" fill="#0000cc"/><circle cx="217" cy="270" r="7.3" fill="#0000cc"/><circle cx="217" cy="257" r="8.6" fill="#0000cc"/><circle cx="216" cy="243" r="9.3" fill="#0000cc"/><circle cx="218" cy="232" r="6.6" fill="#0000cc"/><circle cx="197" cy="226" r="6.4" fill="#0000cc"/><circle cx="197" cy="215" r="7.4" fill="#0000cc"/><circle cx="185" cy="203" r="6.8" fill="#0000cc"/><circle cx="166" cy="199" r="9.3" fill="#0000cc"/><circle cx="155" cy="190" r="6.5" fill="#0000cc"/><circle cx="154" cy="183" r="8.6" fill="#0000cc"/><circle cx="147" cy="176" r="9.8" fill="#0000cc"/><path d="M150 165 L225 215 L230 340 L175 350 L165 260 Z" fill="#0000cc"/><path d="M36 300 L50 265 L70 235 L100 210 L130 180 L155 158 L180 185 L205 220 L220 260 L222 305 L205 340 L170 360 L130 368 L95 360 L60 340 L40 320 Z" fill="#ffbb00" stroke="#ffbb00" stroke-width="4" stroke-linejoin="round"/><circle cx="38" cy="298" r="8.1" fill="#ffbb00"/><circle cx="55" cy="294" r="9.1" fill="#ffbb00"/><circle cx="54" cy="275" r="9.6" fill="#ffbb00"/><circle cx="54" cy="274" r="6.7" fill="#ffbb00"/><circle cx="56" cy="270" r="6.7" fill="#ffbb00"/><circle cx="58" cy="254" r="7.6" fill="#ffbb00"/><circle cx="70" cy="249" r="7.0" fill="#ffbb00"/><circle cx="67" cy="240" r="7.4" fill="#ffbb00"/><circle cx="82" cy="237" r="8.9" fill="#ffbb00"/><circle cx="87" cy="229" r="8.6" fill="#ffbb00"/><circle cx="101" cy="227" r="6.4" fill="#ffbb00"/><circle cx="98" cy="226" r="9.8" fill="#ffbb00"/><circle cx="105" cy="208" r="6.3" fill="#ffbb00"/><circle cx="108" cy="199" r="9.8" fill="#ffbb00"/><circle cx="127" cy="196" r="6.4" fill="#ffbb00"/><circle cx="133" cy="194" r="9.6" fill="#ffbb00"/><circle cx="130" cy="191" r="9.2" fill="#ffbb00"/><circle cx="143" cy="181" r="8.8" fill="#ffbb00"/><circle cx="147" cy="179" r="6.7" fill="#ffbb00"/><circle cx="153" cy="165" r="8.0" fill="#ffbb00"/><circle cx="166" cy="168" r="7.8" fill="#ffbb00"/><circle cx="166" cy="180" r="8.5" fill="#ffbb00"/><circle cx="176" cy="191" r="8.1" fill="#ffbb00"/><circle cx="177" cy="204" r="9.2" fill="#ffbb00"/><circle cx="186" cy="197" r="7.7" fill="#ffbb00"/><circle cx="192" cy="206" r="7.8" fill="#ffbb00"/><circle cx="193" cy="213" r="9.3" fill="#ffbb00"/><circle cx="205" cy="223" r="6.9" fill="#ffbb00"/><circle cx="198" cy="239" r="7.1" fill="#ffbb00"/><circle cx="209" cy="250" r="6.6" fill="#ffbb00"/><circle cx="212" cy="256" r="8.5" fill="#ffbb00"/><circle cx="214" cy="258" r="6.8" fill="#ffbb00"/><circle cx="219" cy="265" r="9.6" fill="#ffbb00"/><circle cx="218" cy="277" r="8.0" fill="#ffbb00"/><circle cx="210" cy="284" r="9.2" fill="#ffbb00"/><circle cx="207" cy="293" r="9.8" fill="#ffbb00"/><circle cx="210" cy="308" r="8.5" fill="#ffbb00"/><circle cx="211" cy="320" r="9.2" fill="#ffbb00"/><circle cx="201" cy="320" r="9.9" fill="#ffbb00"/><circle cx="207" cy="330" r="7.3" fill="#ffbb00"/><circle cx="193" cy="342" r="7.1" fill="#ffbb00"/><circle cx="179" cy="335" r="7.0" fill="#ffbb00"/><circle cx="184" cy="340" r="6.8" fill="#ffbb00"/><circle cx="174" cy="357" r="9.8" fill="#ffbb00"/><circle cx="168" cy="360" r="9.3" fill="#ffbb00"/><circle cx="160" cy="355" r="9.5" fill="#ffbb00"/><circle cx="137" cy="353" r="9.7" fill="#ffbb00"/><circle cx="134" cy="359" r="8.8" fill="#ffbb00"/><circle cx="124" cy="352" r="9.3" fill="#ffbb00"/><circle cx="112" cy="363" r="8.3" fill="#ffbb00"/><circle cx="108" cy="362" r="7.6" fill="#ffbb00"/><circle cx="103" cy="348" r="9.2" fill="#ffbb00"/><circle cx="88" cy="354" r="7.9" fill="#ffbb00"/><circle cx="89" cy="351" r="7.0" fill="#ffbb00"/><circle cx="73" cy="347" r="7.9" fill="#ffbb00"/><circle cx="60" cy="331" r="7.8" fill="#ffbb00"/><circle cx="59" cy="331" r="8.8" fill="#ffbb00"/><circle cx="48" cy="316" r="7.1" fill="#ffbb00"/><circle cx="55" cy="311" r="9.1" fill="#ffbb00"/><circle cx="49" cy="305" r="9.6" fill="#ffbb00"/><circle cx="230" cy="290" r="9" fill="#ffbb00"/><circle cx="260" cy="300" r="9" fill="#ffbb00"/><circle cx="250" cy="250" r="9" fill="#ffbb00"/><circle cx="210" cy="200" r="9" fill="#ffbb00"/><circle cx="200" cy="360" r="9" fill="#ffbb00"/><circle cx="230" cy="420" r="9" fill="#ffbb00"/><circle cx="210" cy="450" r="9" fill="#ffbb00"/><circle cx="300" cy="420" r="9" fill="#ffbb00"/><circle cx="270" cy="320" r="9" fill="#ffbb00"/><circle cx="180" cy="270" r="9" fill="#ffbb00"/><circle cx="328" cy="373" r="7.7" fill="#ffffff"/><circle cx="417" cy="334" r="8.9" fill="#ffffff"/><circle cx="434" cy="358" r="10.2" fill="#ffffff"/><circle cx="403" cy="379" r="9.2" fill="#ffffff"/><circle cx="381" cy="352" r="10.3" fill="#ffffff"/><circle cx="353" cy="443" r="9.9" fill="#ffffff"/><circle cx="364" cy="418" r="7.8" fill="#ffffff"/><circle cx="385" cy="353" r="9.7" fill="#ffffff"/><circle cx="434" cy="411" r="7.8" fill="#ffffff"/><circle cx="408" cy="364" r="9.8" fill="#ffffff"/><circle cx="363" cy="431" r="10.3" fill="#ffffff"/><circle cx="418" cy="420" r="9.8" fill="#ffffff"/><circle cx="382" cy="325" r="10.3" fill="#ffffff"/><circle cx="357" cy="360" r="7.8" fill="#ffffff"/><circle cx="430" cy="380" r="7.8" fill="#ffffff"/><circle cx="346" cy="365" r="7.6" fill="#ffffff"/><circle cx="408" cy="394" r="10.3" fill="#ffffff"/><circle cx="419" cy="414" r="10.3" fill="#ffffff"/><circle cx="434" cy="393" r="8.9" fill="#ffffff"/><circle cx="371" cy="418" r="10.1" fill="#ffffff"/><circle cx="419" cy="422" r="7.3" fill="#ffffff"/><circle cx="381" cy="384" r="9.0" fill="#ffffff"/><circle cx="415" cy="345" r="10" fill="#0000cc"/><circle cx="430" cy="360" r="10" fill="#0000cc"/><circle cx="440" cy="390" r="10" fill="#0000cc"/><circle cx="415" cy="420" r="10" fill="#0000cc"/><circle cx="395" cy="440" r="10" fill="#0000cc"/><circle cx="360" cy="450" r="10" fill="#0000cc"/><circle cx="335" cy="445" r="10" fill="#0000cc"/><circle cx="300" cy="450" r="10" fill="#0000cc"/><circle cx="297" cy="383" r="7.4" fill="#ffffff"/><circle cx="228" cy="437" r="6.6" fill="#ffffff"/><circle cx="289" cy="390" r="8.0" fill="#ffffff"/><circle cx="218" cy="391" r="6.4" fill="#ffffff"/><circle cx="248" cy="382" r="6.5" fill="#ffffff"/><circle cx="162" cy="384" r="6.0" fill="#ffffff"/><circle cx="192" cy="396" r="7.5" fill="#ffffff"/><circle cx="218" cy="431" r="7.8" fill="#ffffff"/><path d="M448 220 C451.7 212.8 462.2 212.3 470 212 C477.8 211.7 490.8 210.8 495 218 C499.2 225.2 499.2 247.7 495 255 C490.8 262.3 477.8 262.0 470 262 C462.2 262.0 451.7 262.0 448 255 C444.3 248.0 444.3 227.2 448 220 Z" fill="#e6003c" stroke="#e6003c" stroke-width="6" stroke-linejoin="round"/><path d="M458 295 C461.8 286.7 470.2 280.8 478 280 C485.8 279.2 498.8 283.3 505 290 C511.2 296.7 515.8 310.8 515 320 C514.2 329.2 507.5 340.0 500 345 C492.5 350.0 477.5 352.5 470 350 C462.5 347.5 457.0 339.2 455 330 C453.0 320.8 454.2 303.3 458 295 Z" fill="#ff00ff" stroke="#ff00ff" stroke-width="6" stroke-linejoin="round"/><path d="M470 283 C472.8 280.0 488.0 277.2 495 280 C502.0 282.8 510.3 292.5 512 300 C513.7 307.5 509.0 322.0 505 325 C501.0 328.0 492.5 322.5 488 318 C483.5 313.5 481.0 303.8 478 298 C475.0 292.2 467.2 286.0 470 283 Z" fill="#4d90f0" stroke="#4d90f0" stroke-width="4" stroke-linejoin="round"/><circle cx="480" cy="355" r="9" fill="#1fad45"/><circle cx="462" cy="405" r="9" fill="#1fad45"/><circle cx="458" cy="410" r="9" fill="#1fad45"/><path d="M408 455 C409.0 451.2 415.0 445.8 420 445 C425.0 444.2 436.0 446.2 438 450 C440.0 453.8 436.0 465.0 432 468 C428.0 471.0 418.0 470.2 414 468 C410.0 465.8 407.0 458.8 408 455 Z" fill="#b07ae8" stroke="#b07ae8" stroke-width="4" stroke-linejoin="round"/></g>
<g transform="translate(327 185) scale(0.16728)"><path d="M75 145 C77.5 139.2 83.3 128.3 90 125 C96.7 121.7 108.3 122.5 115 125 C121.7 127.5 129.2 133.3 130 140 C130.8 146.7 125.8 160.0 120 165 C114.2 170.0 102.5 170.8 95 170 C87.5 169.2 78.3 164.2 75 160 C71.7 155.8 72.5 150.8 75 145 Z" fill="#c2c2c2" stroke="#c2c2c2" stroke-width="6" stroke-linejoin="round"/><path d="M125 105 C126.7 97.5 139.2 86.7 150 80 C160.8 73.3 178.3 66.7 190 65 C201.7 63.3 210.0 72.5 220 70 C230.0 67.5 241.7 57.5 250 50 C258.3 42.5 261.7 30.0 270 25 C278.3 20.0 290.0 17.5 300 20 C310.0 22.5 320.0 32.5 330 40 C340.0 47.5 350.0 57.5 360 65 C370.0 72.5 380.0 78.3 390 85 C400.0 91.7 410.8 98.3 420 105 C429.2 111.7 437.5 115.8 445 125 C452.5 134.2 461.7 148.3 465 160 C468.3 171.7 468.3 187.5 465 195 C461.7 202.5 452.5 204.2 445 205 C437.5 205.8 428.3 203.3 420 200 C411.7 196.7 403.3 190.0 395 185 C386.7 180.0 379.2 175.0 370 170 C360.8 165.0 350.0 160.0 340 155 C330.0 150.0 321.7 145.0 310 140 C298.3 135.0 285.0 126.7 270 125 C255.0 123.3 235.0 128.3 220 130 C205.0 131.7 193.3 135.8 180 135 C166.7 134.2 149.2 130.0 140 125 C130.8 120.0 123.3 112.5 125 105 Z" fill="#c2c2c2" stroke="#c2c2c2" stroke-width="6" stroke-linejoin="round"/><circle cx="133" cy="110" r="9.8" fill="#c2c2c2"/><circle cx="138" cy="102" r="8.8" fill="#c2c2c2"/><circle cx="152" cy="84" r="6.4" fill="#c2c2c2"/><circle cx="156" cy="86" r="7.2" fill="#c2c2c2"/><circle cx="168" cy="75" r="9.3" fill="#c2c2c2"/><circle cx="186" cy="73" r="9.9" fill="#c2c2c2"/><circle cx="183" cy="76" r="9.5" fill="#c2c2c2"/><circle cx="195" cy="72" r="8.3" fill="#c2c2c2"/><circle cx="219" cy="66" r="8.2" fill="#c2c2c2"/><circle cx="229" cy="75" r="7.4" fill="#c2c2c2"/><circle cx="226" cy="77" r="8.0" fill="#c2c2c2"/><circle cx="250" cy="59" r="9.2" fill="#c2c2c2"/><circle cx="256" cy="65" r="6.4" fill="#c2c2c2"/><circle cx="257" cy="44" r="9.0" fill="#c2c2c2"/><circle cx="263" cy="50" r="7.6" fill="#c2c2c2"/><circle cx="276" cy="40" r="7.2" fill="#c2c2c2"/><circle cx="282" cy="38" r="8.2" fill="#c2c2c2"/><circle cx="290" cy="26" r="9.1" fill="#c2c2c2"/><circle cx="297" cy="31" r="8.3" fill="#c2c2c2"/><circle cx="312" cy="29" r="8.7" fill="#c2c2c2"/><circle cx="326" cy="39" r="7.5" fill="#c2c2c2"/><circle cx="335" cy="49" r="7.3" fill="#c2c2c2"/><circle cx="328" cy="59" r="7.6" fill="#c2c2c2"/><circle cx="343" cy="58" r="8.6" fill="#c2c2c2"/><circle cx="355" cy="66" r="6.6" fill="#c2c2c2"/><circle cx="368" cy="81" r="6.4" fill="#c2c2c2"/><circle cx="370" cy="83" r="7.8" fill="#c2c2c2"/><circle cx="382" cy="93" r="8.4" fill="#c2c2c2"/><circle cx="386" cy="86" r="7.2" fill="#c2c2c2"/><circle cx="391" cy="90" r="7.1" fill="#c2c2c2"/><circle cx="412" cy="103" r="9.2" fill="#c2c2c2"/><circle cx="423" cy="114" r="6.5" fill="#c2c2c2"/><circle cx="432" cy="109" r="9.1" fill="#c2c2c2"/><circle cx="439" cy="125" r="7.8" fill="#c2c2c2"/><circle cx="434" cy="124" r="8.6" fill="#c2c2c2"/><circle cx="443" cy="141" r="7.3" fill="#c2c2c2"/><circle cx="447" cy="147" r="8.9" fill="#c2c2c2"/><circle cx="457" cy="158" r="8.1" fill="#c2c2c2"/><circle cx="458" cy="171" r="7.9" fill="#c2c2c2"/><circle cx="465" cy="186" r="7.1" fill="#c2c2c2"/><circle cx="453" cy="187" r="7.6" fill="#c2c2c2"/><circle cx="438" cy="201" r="8.3" fill="#c2c2c2"/><circle cx="434" cy="206" r="7.5" fill="#c2c2c2"/><circle cx="426" cy="204" r="8.3" fill="#c2c2c2"/><circle cx="415" cy="193" r="9.9" fill="#c2c2c2"/><circle cx="407" cy="186" r="7.6" fill="#c2c2c2"/><circle cx="395" cy="183" r="8.2" fill="#c2c2c2"/><circle cx="379" cy="178" r="8.8" fill="#c2c2c2"/><circle cx="378" cy="170" r="7.9" fill="#c2c2c2"/><circle cx="364" cy="165" r="8.0" fill="#c2c2c2"/><circle cx="346" cy="155" r="9.9" fill="#c2c2c2"/><circle cx="349" cy="153" r="9.0" fill="#c2c2c2"/><circle cx="330" cy="144" r="8.2" fill="#c2c2c2"/><circle cx="328" cy="134" r="8.0" fill="#c2c2c2"/><circle cx="323" cy="138" r="9.9" fill="#c2c2c2"/><circle cx="302" cy="138" r="9.3" fill="#c2c2c2"/><circle cx="294" cy="129" r="9.0" fill="#c2c2c2"/><circle cx="288" cy="129" r="9.4" fill="#c2c2c2"/><circle cx="287" cy="123" r="6.5" fill="#c2c2c2"/><circle cx="272" cy="119" r="8.2" fill="#c2c2c2"/><circle cx="257" cy="123" r="8.3" fill="#c2c2c2"/><circle cx="254" cy="134" r="7.8" fill="#c2c2c2"/><circle cx="229" cy="132" r="7.5" fill="#c2c2c2"/><circle cx="230" cy="134" r="6.4" fill="#c2c2c2"/><circle cx="218" cy="127" r="7.5" fill="#c2c2c2"/><circle cx="200" cy="133" r="7.2" fill="#c2c2c2"/><circle cx="191" cy="130" r="6.7" fill="#c2c2c2"/><circle cx="176" cy="135" r="7.4" fill="#c2c2c2"/><circle cx="164" cy="127" r="7.1" fill="#c2c2c2"/><circle cx="165" cy="131" r="6.8" fill="#c2c2c2"/><circle cx="144" cy="122" r="8.2" fill="#c2c2c2"/><circle cx="138" cy="115" r="9.0" fill="#c2c2c2"/><path d="M195 250 C203.3 240.0 224.2 240.0 240 240 C255.8 240.0 273.3 245.0 290 250 C306.7 255.0 329.2 256.7 340 270 C350.8 283.3 349.7 308.3 355 330 C360.3 351.7 371.2 380.0 372 400 C372.8 420.0 368.7 436.7 360 450 C351.3 463.3 335.0 473.3 320 480 C305.0 486.7 286.7 490.0 270 490 C253.3 490.0 236.7 485.0 220 480 C203.3 475.0 188.3 465.8 170 460 C151.7 454.2 122.5 455.0 110 445 C97.5 435.0 93.3 414.2 95 400 C96.7 385.8 105.8 370.0 120 360 C134.2 350.0 168.3 350.0 180 340 C191.7 330.0 187.5 315.0 190 300 C192.5 285.0 186.7 260.0 195 250 Z" fill="#0000cc" stroke="#0000cc" stroke-width="6" stroke-linejoin="round"/><circle cx="193" cy="260" r="7.5" fill="#0000cc"/><circle cx="209" cy="254" r="8.1" fill="#0000cc"/><circle cx="230" cy="250" r="7.3" fill="#0000cc"/><circle cx="243" cy="253" r="7.5" fill="#0000cc"/><circle cx="266" cy="257" r="9.4" fill="#0000cc"/><circle cx="286" cy="252" r="7.2" fill="#0000cc"/><circle cx="299" cy="262" r="7.0" fill="#0000cc"/><circle cx="314" cy="273" r="9.3" fill="#0000cc"/><circle cx="322" cy="270" r="6.3" fill="#0000cc"/><circle cx="344" cy="280" r="8.9" fill="#0000cc"/><circle cx="340" cy="302" r="8.2" fill="#0000cc"/><circle cx="349" cy="319" r="7.4" fill="#0000cc"/><circle cx="341" cy="333" r="9.6" fill="#0000cc"/><circle cx="346" cy="352" r="8.6" fill="#0000cc"/><circle cx="350" cy="361" r="8.8" fill="#0000cc"/><circle cx="359" cy="380" r="8.0" fill="#0000cc"/><circle cx="358" cy="401" r="8.4" fill="#0000cc"/><circle cx="361" cy="412" r="9.2" fill="#0000cc"/><circle cx="362" cy="431" r="6.6" fill="#0000cc"/><circle cx="346" cy="441" r="6.6" fill="#0000cc"/><circle cx="341" cy="457" r="7.0" fill="#0000cc"/><circle cx="331" cy="468" r="9.2" fill="#0000cc"/><circle cx="316" cy="477" r="8.2" fill="#0000cc"/><circle cx="302" cy="471" r="8.8" fill="#0000cc"/><circle cx="284" cy="480" r="9.2" fill="#0000cc"/><circle cx="256" cy="479" r="7.3" fill="#0000cc"/><circle cx="243" cy="480" r="6.8" fill="#0000cc"/><circle cx="226" cy="479" r="7.4" fill="#0000cc"/><circle cx="207" cy="477" r="8.2" fill="#0000cc"/><circle cx="190" cy="464" r="6.8" fill="#0000cc"/><circle cx="177" cy="460" r="8.6" fill="#0000cc"/><circle cx="166" cy="452" r="8.3" fill="#0000cc"/><circle cx="150" cy="442" r="9.1" fill="#0000cc"/><circle cx="138" cy="443" r="7.8" fill="#0000cc"/><circle cx="119" cy="440" r="7.8" fill="#0000cc"/><circle cx="118" cy="431" r="6.8" fill="#0000cc"/><circle cx="101" cy="413" r="9.7" fill="#0000cc"/><circle cx="110" cy="390" r="6.5" fill="#0000cc"/><circle cx="121" cy="386" r="9.0" fill="#0000cc"/><circle cx="129" cy="372" r="8.2" fill="#0000cc"/><circle cx="147" cy="353" r="6.6" fill="#0000cc"/><circle cx="162" cy="355" r="9.2" fill="#0000cc"/><circle cx="167" cy="344" r="8.4" fill="#0000cc"/><circle cx="181" cy="339" r="8.5" fill="#0000cc"/><circle cx="198" cy="329" r="7.7" fill="#0000cc"/><circle cx="193" cy="310" r="9.0" fill="#0000cc"/><circle cx="203" cy="285" r="9.6" fill="#0000cc"/><circle cx="201" cy="268" r="7.2" fill="#0000cc"/><circle cx="147" cy="385" r="10.2" fill="#0000cc"/><circle cx="256" cy="215" r="10.8" fill="#0000cc"/><circle cx="370" cy="321" r="9.8" fill="#0000cc"/><circle cx="218" cy="347" r="8.2" fill="#0000cc"/><circle cx="365" cy="220" r="8.8" fill="#0000cc"/><circle cx="346" cy="451" r="10.2" fill="#0000cc"/><circle cx="262" cy="179" r="11.3" fill="#0000cc"/><circle cx="217" cy="193" r="10.9" fill="#0000cc"/><circle cx="247" cy="335" r="9.2" fill="#0000cc"/><circle cx="258" cy="204" r="8.1" fill="#0000cc"/><circle cx="390" cy="221" r="10.7" fill="#0000cc"/><circle cx="399" cy="408" r="10.7" fill="#0000cc"/><circle cx="291" cy="399" r="8.4" fill="#0000cc"/><circle cx="255" cy="434" r="8.7" fill="#0000cc"/><circle cx="409" cy="456" r="9.4" fill="#0000cc"/><circle cx="216" cy="299" r="9.4" fill="#0000cc"/><circle cx="262" cy="313" r="9.9" fill="#0000cc"/><circle cx="349" cy="217" r="10.1" fill="#0000cc"/><circle cx="283" cy="361" r="8.6" fill="#0000cc"/><circle cx="411" cy="261" r="10.1" fill="#0000cc"/><circle cx="196" cy="174" r="8.2" fill="#0000cc"/><circle cx="372" cy="416" r="9.3" fill="#0000cc"/><circle cx="326" cy="380" r="11.1" fill="#0000cc"/><circle cx="422" cy="283" r="11.5" fill="#0000cc"/><circle cx="423" cy="349" r="11.1" fill="#0000cc"/><circle cx="260" cy="272" r="8.9" fill="#0000cc"/><circle cx="114" cy="426" r="10.7" fill="#0000cc"/><circle cx="257" cy="437" r="8.2" fill="#0000cc"/><circle cx="179" cy="241" r="9.5" fill="#0000cc"/><circle cx="149" cy="162" r="9.2" fill="#0000cc"/><circle cx="348" cy="309" r="8.9" fill="#0000cc"/><circle cx="163" cy="438" r="10.8" fill="#0000cc"/><circle cx="395" cy="353" r="9.5" fill="#0000cc"/><circle cx="291" cy="442" r="9.1" fill="#0000cc"/><circle cx="275" cy="236" r="10.7" fill="#0000cc"/><circle cx="295" cy="368" r="11.0" fill="#0000cc"/><circle cx="292" cy="229" r="9.4" fill="#0000cc"/><circle cx="136" cy="171" r="8.3" fill="#0000cc"/><circle cx="139" cy="448" r="10.3" fill="#0000cc"/><circle cx="202" cy="314" r="8.8" fill="#0000cc"/><circle cx="147" cy="203" r="9.3" fill="#0000cc"/><circle cx="336" cy="334" r="8.2" fill="#0000cc"/><circle cx="336" cy="451" r="10.7" fill="#0000cc"/><circle cx="251" cy="160" r="10.7" fill="#0000cc"/><circle cx="151" cy="392" r="8.9" fill="#0000cc"/><circle cx="331" cy="250" r="8.1" fill="#0000cc"/><circle cx="225" cy="248" r="11.2" fill="#0000cc"/><circle cx="192" cy="318" r="9.9" fill="#0000cc"/><circle cx="298" cy="319" r="10.6" fill="#0000cc"/><circle cx="425" cy="248" r="10.4" fill="#0000cc"/><circle cx="272" cy="338" r="8.2" fill="#0000cc"/><circle cx="213" cy="251" r="11.5" fill="#0000cc"/><circle cx="115" cy="429" r="10.7" fill="#0000cc"/><circle cx="245" cy="360" r="8.1" fill="#0000cc"/><circle cx="313" cy="296" r="9.8" fill="#0000cc"/><circle cx="225" cy="281" r="8.8" fill="#0000cc"/><circle cx="175" cy="390" r="10.9" fill="#0000cc"/><circle cx="340" cy="301" r="8.8" fill="#0000cc"/><circle cx="223" cy="312" r="10.2" fill="#0000cc"/><circle cx="256" cy="314" r="10.5" fill="#0000cc"/><circle cx="398" cy="417" r="10.2" fill="#0000cc"/><circle cx="352" cy="377" r="11.0" fill="#0000cc"/><circle cx="332" cy="382" r="8.9" fill="#0000cc"/><circle cx="407" cy="276" r="10.2" fill="#0000cc"/><circle cx="198" cy="249" r="9.4" fill="#0000cc"/><circle cx="416" cy="404" r="9.6" fill="#0000cc"/><circle cx="334" cy="211" r="9.2" fill="#0000cc"/><circle cx="312" cy="382" r="8.9" fill="#0000cc"/><circle cx="419" cy="253" r="8.9" fill="#0000cc"/><circle cx="326" cy="209" r="10.1" fill="#0000cc"/><circle cx="415" cy="305" r="9.5" fill="#0000cc"/><circle cx="304" cy="238" r="8.6" fill="#0000cc"/><circle cx="223" cy="235" r="8.7" fill="#0000cc"/><circle cx="370" cy="473" r="10.5" fill="#0000cc"/><circle cx="332" cy="223" r="8.0" fill="#0000cc"/><circle cx="278" cy="171" r="9.1" fill="#0000cc"/><circle cx="247" cy="458" r="9.3" fill="#0000cc"/><circle cx="137" cy="421" r="10.9" fill="#0000cc"/><circle cx="273" cy="155" r="8.7" fill="#0000cc"/><circle cx="229" cy="335" r="8.8" fill="#0000cc"/><circle cx="368" cy="440" r="11.2" fill="#0000cc"/><circle cx="291" cy="166" r="11.1" fill="#0000cc"/><circle cx="348" cy="410" r="8.7" fill="#0000cc"/><circle cx="111" cy="430" r="10.1" fill="#0000cc"/><circle cx="305" cy="306" r="10.8" fill="#0000cc"/><circle cx="207" cy="234" r="9.2" fill="#0000cc"/><circle cx="193" cy="362" r="11.1" fill="#0000cc"/><circle cx="267" cy="380" r="8.7" fill="#0000cc"/><circle cx="183" cy="158" r="8.1" fill="#0000cc"/><circle cx="261" cy="381" r="10.3" fill="#0000cc"/><circle cx="145" cy="174" r="11.3" fill="#0000cc"/><circle cx="276" cy="284" r="10.4" fill="#0000cc"/><circle cx="342" cy="325" r="8.3" fill="#0000cc"/><circle cx="376" cy="214" r="8.1" fill="#0000cc"/><circle cx="212" cy="328" r="10.2" fill="#0000cc"/><circle cx="150" cy="392" r="9.7" fill="#0000cc"/><circle cx="146" cy="442" r="10.8" fill="#0000cc"/><circle cx="404" cy="381" r="8.8" fill="#0000cc"/><circle cx="359" cy="461" r="9.9" fill="#0000cc"/><circle cx="225" cy="475" r="11.3" fill="#0000cc"/><circle cx="212" cy="357" r="10.1" fill="#0000cc"/><circle cx="351" cy="369" r="8.6" fill="#0000cc"/><circle cx="412" cy="330" r="11.1" fill="#0000cc"/><circle cx="282" cy="415" r="10.6" fill="#0000cc"/><circle cx="395" cy="267" r="8.3" fill="#0000cc"/><circle cx="230" cy="201" r="9.9" fill="#0000cc"/><circle cx="372" cy="267" r="8.5" fill="#0000cc"/><circle cx="291" cy="146" r="10.3" fill="#0000cc"/><circle cx="163" cy="175" r="11.2" fill="#0000cc"/><circle cx="271" cy="458" r="9.8" fill="#0000cc"/><circle cx="237" cy="367" r="10.7" fill="#0000cc"/><circle cx="350" cy="371" r="8.9" fill="#0000cc"/><circle cx="239" cy="273" r="9.7" fill="#0000cc"/><circle cx="182" cy="330" r="9.6" fill="#0000cc"/><circle cx="102" cy="432" r="10.1" fill="#0000cc"/><circle cx="368" cy="401" r="10.6" fill="#0000cc"/><circle cx="320" cy="346" r="10.0" fill="#0000cc"/><circle cx="169" cy="401" r="10.8" fill="#0000cc"/><circle cx="257" cy="157" r="9.3" fill="#0000cc"/><circle cx="376" cy="316" r="9.6" fill="#0000cc"/><circle cx="225" cy="363" r="10.1" fill="#0000cc"/><circle cx="330" cy="448" r="10.6" fill="#0000cc"/><circle cx="220" cy="227" r="10.7" fill="#0000cc"/><circle cx="364" cy="470" r="8.7" fill="#0000cc"/><circle cx="383" cy="457" r="8.3" fill="#0000cc"/><circle cx="197" cy="364" r="8.5" fill="#0000cc"/><circle cx="378" cy="232" r="10.4" fill="#0000cc"/><circle cx="192" cy="215" r="8.7" fill="#0000cc"/><circle cx="262" cy="393" r="8.8" fill="#0000cc"/><circle cx="327" cy="257" r="10.3" fill="#0000cc"/><circle cx="217" cy="206" r="8.5" fill="#0000cc"/><circle cx="110" cy="387" r="9.4" fill="#0000cc"/><circle cx="317" cy="145" r="10.5" fill="#0000cc"/><circle cx="296" cy="296" r="9.8" fill="#0000cc"/><circle cx="423" cy="271" r="10.2" fill="#0000cc"/><circle cx="310" cy="268" r="9.2" fill="#0000cc"/><circle cx="351" cy="365" r="9.6" fill="#0000cc"/><circle cx="268" cy="217" r="10.8" fill="#0000cc"/><circle cx="247" cy="216" r="10.1" fill="#0000cc"/><circle cx="292" cy="168" r="9.7" fill="#0000cc"/><circle cx="147" cy="424" r="9.1" fill="#0000cc"/><circle cx="204" cy="214" r="8.2" fill="#0000cc"/><circle cx="155" cy="191" r="10.2" fill="#0000cc"/><circle cx="383" cy="216" r="8.4" fill="#0000cc"/><circle cx="275" cy="179" r="9.4" fill="#0000cc"/><circle cx="353" cy="210" r="10.4" fill="#0000cc"/><circle cx="276" cy="168" r="8.8" fill="#0000cc"/><circle cx="297" cy="172" r="8.7" fill="#0000cc"/><circle cx="290" cy="431" r="9.8" fill="#0000cc"/><circle cx="195" cy="251" r="11.2" fill="#0000cc"/><circle cx="214" cy="419" r="8.1" fill="#0000cc"/><circle cx="262" cy="457" r="10.7" fill="#0000cc"/><circle cx="291" cy="202" r="11.2" fill="#0000cc"/><circle cx="359" cy="395" r="9.9" fill="#0000cc"/><circle cx="320" cy="372" r="9.4" fill="#0000cc"/><circle cx="189" cy="169" r="9.1" fill="#0000cc"/><circle cx="364" cy="407" r="8.5" fill="#0000cc"/><circle cx="197" cy="177" r="10.3" fill="#0000cc"/><circle cx="243" cy="220" r="9.3" fill="#0000cc"/><circle cx="389" cy="290" r="10.4" fill="#0000cc"/><circle cx="307" cy="307" r="9.9" fill="#0000cc"/><circle cx="216" cy="208" r="9.7" fill="#0000cc"/><circle cx="195" cy="256" r="8.7" fill="#0000cc"/><circle cx="406" cy="290" r="8.7" fill="#0000cc"/><circle cx="390" cy="258" r="10.3" fill="#0000cc"/><circle cx="170" cy="371" r="9.6" fill="#0000cc"/><circle cx="345" cy="327" r="9.3" fill="#0000cc"/><circle cx="187" cy="350" r="10.9" fill="#0000cc"/><circle cx="329" cy="309" r="9.1" fill="#0000cc"/><circle cx="398" cy="441" r="8.5" fill="#0000cc"/><circle cx="325" cy="414" r="10.4" fill="#0000cc"/><circle cx="203" cy="273" r="11.4" fill="#0000cc"/><circle cx="307" cy="235" r="8.9" fill="#0000cc"/><circle cx="365" cy="357" r="10.6" fill="#0000cc"/><circle cx="363" cy="450" r="11.1" fill="#0000cc"/><circle cx="263" cy="389" r="9.8" fill="#0000cc"/><circle cx="425" cy="372" r="9.5" fill="#0000cc"/><circle cx="320" cy="243" r="8.5" fill="#0000cc"/><circle cx="224" cy="186" r="8.0" fill="#0000cc"/><circle cx="310" cy="177" r="9.8" fill="#0000cc"/><circle cx="192" cy="297" r="10.5" fill="#0000cc"/><circle cx="233" cy="278" r="10.5" fill="#0000cc"/><circle cx="333" cy="437" r="11.4" fill="#0000cc"/><circle cx="179" cy="361" r="9.1" fill="#0000cc"/><circle cx="333" cy="441" r="8.5" fill="#0000cc"/><circle cx="212" cy="364" r="10.9" fill="#0000cc"/><circle cx="186" cy="418" r="8.0" fill="#0000cc"/><circle cx="208" cy="197" r="9.2" fill="#0000cc"/><circle cx="164" cy="146" r="10.8" fill="#0000cc"/><circle cx="282" cy="442" r="11.0" fill="#0000cc"/><circle cx="305" cy="198" r="10.7" fill="#0000cc"/><circle cx="197" cy="228" r="8.8" fill="#0000cc"/><circle cx="227" cy="421" r="11.0" fill="#0000cc"/><circle cx="348" cy="399" r="8.9" fill="#0000cc"/><circle cx="201" cy="246" r="9.5" fill="#0000cc"/><circle cx="408" cy="302" r="10.4" fill="#0000cc"/><circle cx="361" cy="204" r="10.2" fill="#0000cc"/><circle cx="337" cy="312" r="11.2" fill="#0000cc"/><circle cx="132" cy="426" r="10.5" fill="#0000cc"/><circle cx="139" cy="365" r="10.2" fill="#0000cc"/><circle cx="289" cy="267" r="10.1" fill="#0000cc"/><circle cx="228" cy="295" r="10.6" fill="#0000cc"/><circle cx="354" cy="218" r="8.2" fill="#0000cc"/><circle cx="232" cy="250" r="8.9" fill="#0000cc"/><circle cx="212" cy="330" r="8.4" fill="#0000cc"/><circle cx="275" cy="155" r="8.3" fill="#0000cc"/><circle cx="160" cy="223" r="9.2" fill="#0000cc"/><circle cx="191" cy="437" r="10.3" fill="#0000cc"/><circle cx="254" cy="414" r="10.4" fill="#0000cc"/><circle cx="199" cy="358" r="10.6" fill="#0000cc"/><circle cx="275" cy="407" r="10.2" fill="#0000cc"/><circle cx="411" cy="232" r="10.4" fill="#0000cc"/><circle cx="340" cy="232" r="10.6" fill="#0000cc"/><circle cx="237" cy="329" r="8.9" fill="#0000cc"/><circle cx="179" cy="448" r="10.3" fill="#0000cc"/><circle cx="308" cy="179" r="9.0" fill="#0000cc"/><circle cx="276" cy="387" r="9.8" fill="#0000cc"/><circle cx="282" cy="485" r="10.7" fill="#0000cc"/><circle cx="235" cy="382" r="10.4" fill="#0000cc"/><circle cx="180" cy="386" r="9.5" fill="#0000cc"/><circle cx="220" cy="208" r="10.3" fill="#0000cc"/><circle cx="308" cy="445" r="9.7" fill="#0000cc"/><circle cx="293" cy="458" r="8.2" fill="#0000cc"/><circle cx="215" cy="271" r="9.2" fill="#0000cc"/><circle cx="238" cy="158" r="10.4" fill="#0000cc"/><circle cx="366" cy="218" r="10.7" fill="#0000cc"/><circle cx="340" cy="379" r="8.3" fill="#0000cc"/><circle cx="421" cy="441" r="9.7" fill="#0000cc"/><circle cx="387" cy="353" r="8.6" fill="#0000cc"/><circle cx="227" cy="432" r="9.6" fill="#0000cc"/><circle cx="313" cy="298" r="9.4" fill="#0000cc"/><circle cx="423" cy="260" r="10.4" fill="#0000cc"/><circle cx="152" cy="178" r="9.2" fill="#0000cc"/><circle cx="316" cy="334" r="10.8" fill="#0000cc"/><circle cx="255" cy="167" r="10.5" fill="#0000cc"/><circle cx="229" cy="407" r="11.4" fill="#0000cc"/><circle cx="271" cy="227" r="9.3" fill="#0000cc"/><circle cx="262" cy="252" r="8.4" fill="#0000cc"/><circle cx="228" cy="373" r="10.9" fill="#0000cc"/><circle cx="354" cy="454" r="10.8" fill="#0000cc"/><circle cx="325" cy="153" r="10.1" fill="#0000cc"/><circle cx="217" cy="195" r="8.5" fill="#0000cc"/><circle cx="164" cy="187" r="8.8" fill="#0000cc"/><circle cx="217" cy="194" r="10.6" fill="#0000cc"/><circle cx="203" cy="150" r="10.7" fill="#0000cc"/><circle cx="255" cy="208" r="10.2" fill="#0000cc"/><circle cx="295" cy="180" r="10.0" fill="#0000cc"/><circle cx="272" cy="175" r="8.3" fill="#0000cc"/><circle cx="229" cy="213" r="10.1" fill="#0000cc"/><circle cx="223" cy="206" r="8.6" fill="#0000cc"/><circle cx="161" cy="176" r="10.9" fill="#0000cc"/><circle cx="165" cy="156" r="8.3" fill="#0000cc"/><circle cx="129" cy="171" r="10.0" fill="#0000cc"/><circle cx="309" cy="176" r="9.3" fill="#0000cc"/><circle cx="186" cy="174" r="10.7" fill="#0000cc"/><circle cx="246" cy="170" r="8.4" fill="#0000cc"/><circle cx="300" cy="212" r="10.9" fill="#0000cc"/><circle cx="175" cy="197" r="11.2" fill="#0000cc"/><circle cx="133" cy="185" r="8.1" fill="#0000cc"/><circle cx="306" cy="210" r="11.4" fill="#0000cc"/><circle cx="292" cy="178" r="11.4" fill="#0000cc"/><circle cx="207" cy="163" r="8.3" fill="#0000cc"/><circle cx="227" cy="164" r="11.3" fill="#0000cc"/><circle cx="144" cy="195" r="8.6" fill="#0000cc"/><circle cx="245" cy="222" r="8.9" fill="#0000cc"/><circle cx="217" cy="231" r="9.6" fill="#0000cc"/><circle cx="199" cy="230" r="10.8" fill="#0000cc"/><circle cx="326" cy="210" r="9.4" fill="#0000cc"/><circle cx="279" cy="224" r="10.2" fill="#0000cc"/><circle cx="175" cy="173" r="9.4" fill="#0000cc"/><circle cx="297" cy="198" r="9.9" fill="#0000cc"/><circle cx="310" cy="155" r="10.2" fill="#0000cc"/><circle cx="196" cy="198" r="10.9" fill="#0000cc"/><circle cx="138" cy="198" r="9.9" fill="#0000cc"/><circle cx="174" cy="198" r="9.6" fill="#0000cc"/><circle cx="223" cy="213" r="8.0" fill="#0000cc"/><circle cx="207" cy="220" r="8.5" fill="#0000cc"/><circle cx="319" cy="164" r="10.4" fill="#0000cc"/><circle cx="160" cy="188" r="9.5" fill="#0000cc"/><circle cx="230" cy="210" r="9.9" fill="#0000cc"/><circle cx="248" cy="195" r="9.0" fill="#0000cc"/><circle cx="327" cy="153" r="11.1" fill="#0000cc"/><circle cx="319" cy="192" r="10.7" fill="#0000cc"/><circle cx="275" cy="202" r="9.0" fill="#0000cc"/><circle cx="194" cy="178" r="9.1" fill="#0000cc"/><circle cx="341" cy="177" r="9.4" fill="#0000cc"/><circle cx="216" cy="223" r="9.7" fill="#0000cc"/><circle cx="247" cy="169" r="9.0" fill="#0000cc"/><circle cx="140" cy="166" r="8.9" fill="#0000cc"/><circle cx="316" cy="193" r="8.4" fill="#0000cc"/><circle cx="226" cy="156" r="10.0" fill="#0000cc"/><circle cx="222" cy="227" r="8.9" fill="#0000cc"/><circle cx="316" cy="169" r="11.4" fill="#0000cc"/><circle cx="306" cy="171" r="9.3" fill="#0000cc"/><circle cx="211" cy="210" r="9.0" fill="#0000cc"/><circle cx="271" cy="161" r="11.4" fill="#0000cc"/><circle cx="330" cy="162" r="8.1" fill="#0000cc"/><circle cx="261" cy="158" r="10.6" fill="#0000cc"/><circle cx="228" cy="212" r="10.0" fill="#0000cc"/><circle cx="297" cy="223" r="10.1" fill="#0000cc"/><circle cx="178" cy="359" r="11.1" fill="#0000cc"/><circle cx="138" cy="402" r="11.3" fill="#0000cc"/><circle cx="182" cy="457" r="10.5" fill="#0000cc"/><circle cx="171" cy="353" r="8.7" fill="#0000cc"/><circle cx="202" cy="399" r="11.3" fill="#0000cc"/><circle cx="193" cy="463" r="10.0" fill="#0000cc"/><circle cx="184" cy="404" r="8.9" fill="#0000cc"/><circle cx="194" cy="462" r="10.3" fill="#0000cc"/><circle cx="180" cy="331" r="8.2" fill="#0000cc"/><circle cx="162" cy="370" r="10.3" fill="#0000cc"/><circle cx="145" cy="399" r="9.0" fill="#0000cc"/><circle cx="171" cy="392" r="9.5" fill="#0000cc"/><circle cx="181" cy="390" r="8.3" fill="#0000cc"/><circle cx="152" cy="368" r="11.3" fill="#0000cc"/><circle cx="166" cy="359" r="9.1" fill="#0000cc"/><circle cx="104" cy="391" r="10.8" fill="#0000cc"/><circle cx="178" cy="334" r="10.4" fill="#0000cc"/><circle cx="199" cy="457" r="9.6" fill="#0000cc"/><circle cx="202" cy="385" r="9.8" fill="#0000cc"/><circle cx="189" cy="380" r="10.5" fill="#0000cc"/><circle cx="177" cy="360" r="10.7" fill="#0000cc"/><circle cx="198" cy="403" r="11.3" fill="#0000cc"/><circle cx="102" cy="385" r="10.2" fill="#0000cc"/><circle cx="183" cy="374" r="8.9" fill="#0000cc"/><circle cx="156" cy="335" r="9.2" fill="#0000cc"/><circle cx="188" cy="457" r="10.9" fill="#0000cc"/><circle cx="124" cy="383" r="9.3" fill="#0000cc"/><circle cx="190" cy="422" r="9.6" fill="#0000cc"/><circle cx="180" cy="327" r="11.1" fill="#0000cc"/><circle cx="160" cy="403" r="8.1" fill="#0000cc"/><circle cx="202" cy="340" r="9.9" fill="#0000cc"/><circle cx="204" cy="439" r="8.0" fill="#0000cc"/><circle cx="146" cy="409" r="8.6" fill="#0000cc"/><circle cx="196" cy="452" r="9.9" fill="#0000cc"/><circle cx="143" cy="444" r="9.8" fill="#0000cc"/><circle cx="119" cy="443" r="9.8" fill="#0000cc"/><circle cx="184" cy="439" r="11.4" fill="#0000cc"/><circle cx="123" cy="369" r="11.1" fill="#0000cc"/><circle cx="191" cy="366" r="10.3" fill="#0000cc"/><circle cx="128" cy="388" r="11.4" fill="#0000cc"/><circle cx="35" cy="280" r="11" fill="#ffbb00"/><circle cx="60" cy="280" r="11" fill="#ffbb00"/><circle cx="90" cy="265" r="11" fill="#ffbb00"/><circle cx="110" cy="250" r="11" fill="#ffbb00"/><circle cx="130" cy="230" r="11" fill="#ffbb00"/><circle cx="160" cy="240" r="11" fill="#ffbb00"/><circle cx="180" cy="210" r="11" fill="#ffbb00"/><circle cx="140" cy="300" r="11" fill="#ffbb00"/><circle cx="175" cy="290" r="11" fill="#ffbb00"/><circle cx="60" cy="325" r="11" fill="#ffbb00"/><circle cx="110" cy="355" r="11" fill="#ffbb00"/><circle cx="200" cy="310" r="11" fill="#ffbb00"/><circle cx="220" cy="290" r="11" fill="#ffbb00"/><circle cx="250" cy="300" r="11" fill="#ffbb00"/><circle cx="190" cy="380" r="11" fill="#ffbb00"/><circle cx="180" cy="420" r="11" fill="#ffbb00"/><circle cx="300" cy="420" r="11" fill="#ffbb00"/><circle cx="150" cy="260" r="11" fill="#ffbb00"/><circle cx="120" cy="270" r="11" fill="#ffbb00"/><circle cx="80" cy="300" r="11" fill="#ffbb00"/><circle cx="200" cy="340" r="11" fill="#ffbb00"/><circle cx="100" cy="330" r="11" fill="#ffbb00"/><circle cx="270" cy="320" r="11" fill="#ffbb00"/><circle cx="155" cy="185" r="11" fill="#ffbb00"/><circle cx="125" cy="200" r="11" fill="#ffbb00"/><circle cx="165" cy="215" r="11" fill="#ffbb00"/><circle cx="190" cy="255" r="11" fill="#ffbb00"/><path d="M448 230 C451.0 222.8 462.2 216.3 470 215 C477.8 213.7 490.0 216.2 495 222 C500.0 227.8 502.5 242.8 500 250 C497.5 257.2 488.0 263.7 480 265 C472.0 266.3 457.3 263.8 452 258 C446.7 252.2 445.0 237.2 448 230 Z" fill="#e6003c" stroke="#e6003c" stroke-width="6" stroke-linejoin="round"/><path d="M455 295 C457.5 284.7 467.5 280.8 475 280 C482.5 279.2 495.0 281.7 500 290 C505.0 298.3 507.5 320.0 505 330 C502.5 340.0 492.5 348.0 485 350 C477.5 352.0 465.0 351.2 460 342 C455.0 332.8 452.5 305.3 455 295 Z" fill="#ff00ff" stroke="#ff00ff" stroke-width="6" stroke-linejoin="round"/><circle cx="500" cy="300" r="9" fill="#4d90f0"/><circle cx="505" cy="320" r="9" fill="#4d90f0"/><circle cx="470" cy="365" r="9" fill="#1fad45"/><circle cx="468" cy="385" r="9" fill="#1fad45"/><circle cx="462" cy="405" r="9" fill="#1fad45"/><circle cx="458" cy="410" r="9" fill="#1fad45"/><path d="M410 455 C411.7 450.5 419.7 445.5 425 445 C430.3 444.5 439.8 447.8 442 452 C444.2 456.2 442.5 466.7 438 470 C433.5 473.3 419.7 474.5 415 472 C410.3 469.5 408.3 459.5 410 455 Z" fill="#b07ae8" stroke="#b07ae8" stroke-width="6" stroke-linejoin="round"/><circle cx="422" cy="438" r="8" fill="#ffbb00"/></g>
<rect x="46.70" y="186.5" width="87.8" height="83.2" fill="none" stroke="#7a7a7a" stroke-width="1"/>
<rect x="140.80" y="186.5" width="87.8" height="83.2" fill="none" stroke="#7a7a7a" stroke-width="1"/>
<rect x="235.00" y="186.5" width="87.8" height="83.2" fill="none" stroke="#7a7a7a" stroke-width="1"/>
<rect x="329.10" y="186.5" width="87.8" height="83.2" fill="none" stroke="#7a7a7a" stroke-width="1"/>
<text x="0" y="0" font-size="10.1" text-anchor="middle" fill="#1a1a1a" stroke="#1a1a1a" transform="translate(38.0 227.4) rotate(-90)">tSNE 2</text>
<text x="227.50" y="283.00" font-size="9.9" text-anchor="middle" font-weight="normal" fill="#1a1a1a" stroke="#1a1a1a" >tSNE 1</text>
<circle cx="427.3" cy="185.3" r="3.0" fill="#b07ae8"/>
<text x="436.60" y="188.90" font-size="10.2" text-anchor="start" font-weight="normal" fill="#1a1a1a" stroke="#1a1a1a" >Basophils</text>
<circle cx="427.3" cy="197.0" r="3.0" fill="#ff00ff"/>
<text x="436.60" y="200.60" font-size="10.2" text-anchor="start" font-weight="normal" fill="#1a1a1a" stroke="#1a1a1a" >Classical monocytes</text>
<circle cx="427.3" cy="207.8" r="3.0" fill="#e6003c"/>
<text x="436.60" y="211.40" font-size="10.2" text-anchor="start" font-weight="normal" fill="#1a1a1a" stroke="#1a1a1a" >Eosinophils</text>
<circle cx="427.3" cy="222.9" r="3.0" fill="#1fad45"/>
<circle cx="427.3" cy="236.9" r="3.0" fill="#c8c8c8"/>
<text x="436.6" y="240.50" font-size="10.2" fill="#1a1a1a" stroke="#1a1a1a">Lin<tspan font-size="6.5" dy="-3.5">+</tspan><tspan dy="3.5"> cells &amp; DCs</tspan></text>
<circle cx="427.3" cy="248.0" r="3.0" fill="#0000cc"/>
<text x="436.60" y="251.60" font-size="10.2" text-anchor="start" font-weight="normal" fill="#1a1a1a" stroke="#1a1a1a" >Neutrophils</text>
<circle cx="427.3" cy="259.0" r="3.0" fill="#4d90f0"/>
<text x="436.60" y="262.60" font-size="10.2" text-anchor="start" font-weight="normal" fill="#1a1a1a" stroke="#1a1a1a" >M-MDSCs</text>
<circle cx="427.3" cy="269.6" r="3.0" fill="#ffb300"/>
<text x="436.60" y="273.20" font-size="10.2" text-anchor="start" font-weight="normal" fill="#1a1a1a" stroke="#1a1a1a" >PMN-MDSCs</text>
<text x="436.60" y="222.30" font-size="10.2" text-anchor="start" font-weight="normal" fill="#1a1a1a" stroke="#1a1a1a" >Intermediate &amp; non-</text>
<text x="436.60" y="230.50" font-size="10.2" text-anchor="start" font-weight="normal" fill="#1a1a1a" stroke="#1a1a1a" >classical monocytes</text>
<rect x="54.0" y="293.2" width="158.40" height="105.00" fill="none" stroke="#222" stroke-width="1.3"/>
<line x1="51.80" y1="393.0" x2="54.0" y2="393.0" stroke="#333" stroke-width="0.9"/>
<text x="50.40" y="395.70" font-size="8.8" text-anchor="end" font-weight="normal" fill="#333" stroke="#333" >0</text>
<line x1="51.80" y1="371.4" x2="54.0" y2="371.4" stroke="#333" stroke-width="0.9"/>
<text x="50.40" y="374.10" font-size="8.8" text-anchor="end" font-weight="normal" fill="#333" stroke="#333" >3</text>
<line x1="51.80" y1="349.8" x2="54.0" y2="349.8" stroke="#333" stroke-width="0.9"/>
<text x="50.40" y="352.50" font-size="8.8" text-anchor="end" font-weight="normal" fill="#333" stroke="#333" >6</text>
<line x1="51.80" y1="328.2" x2="54.0" y2="328.2" stroke="#333" stroke-width="0.9"/>
<text x="50.40" y="330.90" font-size="8.8" text-anchor="end" font-weight="normal" fill="#333" stroke="#333" >9</text>
<line x1="51.80" y1="306.6" x2="54.0" y2="306.6" stroke="#333" stroke-width="0.9"/>
<text x="50.40" y="309.30" font-size="8.8" text-anchor="end" font-weight="normal" fill="#333" stroke="#333" >12</text>
<line x1="64.40" y1="398.2" x2="64.40" y2="400.40" stroke="#333" stroke-width="0.9"/>
<text x="64.40" y="411.00" font-size="10.0" text-anchor="middle" font-weight="normal" fill="#1a1a1a" stroke="#1a1a1a" >0</text>
<line x1="81.73" y1="398.2" x2="81.73" y2="400.40" stroke="#333" stroke-width="0.9"/>
<text x="81.73" y="411.00" font-size="10.0" text-anchor="middle" font-weight="normal" fill="#1a1a1a" stroke="#1a1a1a" >1</text>
<line x1="99.06" y1="398.2" x2="99.06" y2="400.40" stroke="#333" stroke-width="0.9"/>
<text x="99.06" y="411.00" font-size="10.0" text-anchor="middle" font-weight="normal" fill="#1a1a1a" stroke="#1a1a1a" >2</text>
<line x1="116.39" y1="398.2" x2="116.39" y2="400.40" stroke="#333" stroke-width="0.9"/>
<text x="116.39" y="411.00" font-size="10.0" text-anchor="middle" font-weight="normal" fill="#1a1a1a" stroke="#1a1a1a" >3</text>
<line x1="133.72" y1="398.2" x2="133.72" y2="400.40" stroke="#333" stroke-width="0.9"/>
<text x="133.72" y="411.00" font-size="10.0" text-anchor="middle" font-weight="normal" fill="#1a1a1a" stroke="#1a1a1a" >4</text>
<line x1="151.05" y1="398.2" x2="151.05" y2="400.40" stroke="#333" stroke-width="0.9"/>
<text x="151.05" y="411.00" font-size="10.0" text-anchor="middle" font-weight="normal" fill="#1a1a1a" stroke="#1a1a1a" >6</text>
<line x1="168.38" y1="398.2" x2="168.38" y2="400.40" stroke="#333" stroke-width="0.9"/>
<text x="168.38" y="411.00" font-size="10.0" text-anchor="middle" font-weight="normal" fill="#1a1a1a" stroke="#1a1a1a" >8</text>
<line x1="185.71" y1="398.2" x2="185.71" y2="400.40" stroke="#333" stroke-width="0.9"/>
<text x="185.71" y="411.00" font-size="10.0" text-anchor="middle" font-weight="normal" fill="#1a1a1a" stroke="#1a1a1a" >24</text>
<line x1="203.04" y1="398.2" x2="203.04" y2="400.40" stroke="#333" stroke-width="0.9"/>
<text x="203.04" y="411.00" font-size="10.0" text-anchor="middle" font-weight="normal" fill="#1a1a1a" stroke="#1a1a1a" >168</text>
<text x="0" y="0" font-size="11.3" text-anchor="middle" fill="#1a1a1a" stroke="#1a1a1a" transform="translate(37.4 348.00) rotate(-90)">Million cells/mL</text>
<g><polyline points="64.40,375.50 81.73,387.40 99.06,376.30 116.39,365.50 133.72,350.90 151.05,338.00 168.38,333.90 185.71,352.70 203.04,371.80" fill="none" stroke="#2323c4" stroke-width="1.8" stroke-linejoin="round"/><line x1="64.40" y1="371.7" x2="64.40" y2="380.1" stroke="#2323c4" stroke-width="1.8"/><line x1="81.73" y1="383.2" x2="81.73" y2="390.2" stroke="#2323c4" stroke-width="1.8"/><line x1="99.06" y1="363.6" x2="99.06" y2="383.2" stroke="#2323c4" stroke-width="1.8"/><line x1="116.39" y1="345.5" x2="116.39" y2="377.8" stroke="#2323c4" stroke-width="1.8"/><line x1="133.72" y1="321.3" x2="133.72" y2="359.6" stroke="#2323c4" stroke-width="1.8"/><line x1="151.05" y1="312.1" x2="151.05" y2="357.1" stroke="#2323c4" stroke-width="1.8"/><line x1="168.38" y1="296.9" x2="168.38" y2="348.1" stroke="#2323c4" stroke-width="1.8"/><line x1="185.71" y1="344.8" x2="185.71" y2="361.2" stroke="#2323c4" stroke-width="1.8"/><line x1="203.04" y1="366.9" x2="203.04" y2="376.7" stroke="#2323c4" stroke-width="1.8"/><circle cx="64.40" cy="375.50" r="2.4" fill="#2323c4"/><circle cx="81.73" cy="387.40" r="2.4" fill="#2323c4"/><circle cx="99.06" cy="376.30" r="2.4" fill="#2323c4"/><circle cx="116.39" cy="365.50" r="2.4" fill="#2323c4"/><circle cx="133.72" cy="350.90" r="2.4" fill="#2323c4"/><circle cx="151.05" cy="338.00" r="2.4" fill="#2323c4"/><circle cx="168.38" cy="333.90" r="2.4" fill="#2323c4"/><circle cx="185.71" cy="352.70" r="2.4" fill="#2323c4"/><circle cx="203.04" cy="371.80" r="2.4" fill="#2323c4"/></g>
<g><polyline points="64.40,392.90 81.73,392.90 99.06,387.00 116.39,382.40 133.72,371.50 151.05,366.60 168.38,367.20 185.71,391.50 203.04,392.80" fill="none" stroke="#2ee02e" stroke-width="1.8" stroke-linejoin="round"/><line x1="99.06" y1="382.4" x2="99.06" y2="391.7" stroke="#2ee02e" stroke-width="1.8"/><line x1="116.39" y1="377" x2="116.39" y2="388.6" stroke="#2ee02e" stroke-width="1.8"/><line x1="133.72" y1="359.8" x2="133.72" y2="383.3" stroke="#2ee02e" stroke-width="1.8"/><line x1="151.05" y1="358.7" x2="151.05" y2="375.1" stroke="#2ee02e" stroke-width="1.8"/><line x1="168.38" y1="348.1" x2="168.38" y2="385.7" stroke="#2ee02e" stroke-width="1.8"/><circle cx="64.40" cy="392.90" r="2.4" fill="#2ee02e"/><circle cx="81.73" cy="392.90" r="2.4" fill="#2ee02e"/><circle cx="99.06" cy="387.00" r="2.4" fill="#2ee02e"/><circle cx="116.39" cy="382.40" r="2.4" fill="#2ee02e"/><circle cx="133.72" cy="371.50" r="2.4" fill="#2ee02e"/><circle cx="151.05" cy="366.60" r="2.4" fill="#2ee02e"/><circle cx="168.38" cy="367.20" r="2.4" fill="#2ee02e"/><circle cx="185.71" cy="391.50" r="2.4" fill="#2ee02e"/><circle cx="203.04" cy="392.80" r="2.4" fill="#2ee02e"/></g>
<rect x="258.0" y="293.4" width="158.20" height="104.60" fill="none" stroke="#222" stroke-width="1.3"/>
<line x1="255.80" y1="393.2" x2="258.0" y2="393.2" stroke="#333" stroke-width="0.9"/>
<text x="254.40" y="395.90" font-size="8.8" text-anchor="end" font-weight="normal" fill="#333" stroke="#333" >0</text>
<line x1="255.80" y1="369.0" x2="258.0" y2="369.0" stroke="#333" stroke-width="0.9"/>
<text x="254.40" y="371.70" font-size="8.8" text-anchor="end" font-weight="normal" fill="#333" stroke="#333" >20</text>
<line x1="255.80" y1="344.8" x2="258.0" y2="344.8" stroke="#333" stroke-width="0.9"/>
<text x="254.40" y="347.50" font-size="8.8" text-anchor="end" font-weight="normal" fill="#333" stroke="#333" >40</text>
<line x1="255.80" y1="320.6" x2="258.0" y2="320.6" stroke="#333" stroke-width="0.9"/>
<text x="254.40" y="323.30" font-size="8.8" text-anchor="end" font-weight="normal" fill="#333" stroke="#333" >60</text>
<line x1="255.80" y1="296.4" x2="258.0" y2="296.4" stroke="#333" stroke-width="0.9"/>
<text x="254.40" y="299.10" font-size="8.8" text-anchor="end" font-weight="normal" fill="#333" stroke="#333" >80</text>
<line x1="268.20" y1="398.0" x2="268.20" y2="400.20" stroke="#333" stroke-width="0.9"/>
<text x="268.20" y="410.80" font-size="10.0" text-anchor="middle" font-weight="normal" fill="#1a1a1a" stroke="#1a1a1a" >0</text>
<line x1="285.42" y1="398.0" x2="285.42" y2="400.20" stroke="#333" stroke-width="0.9"/>
<text x="285.42" y="410.80" font-size="10.0" text-anchor="middle" font-weight="normal" fill="#1a1a1a" stroke="#1a1a1a" >1</text>
<line x1="302.64" y1="398.0" x2="302.64" y2="400.20" stroke="#333" stroke-width="0.9"/>
<text x="302.64" y="410.80" font-size="10.0" text-anchor="middle" font-weight="normal" fill="#1a1a1a" stroke="#1a1a1a" >2</text>
<line x1="319.86" y1="398.0" x2="319.86" y2="400.20" stroke="#333" stroke-width="0.9"/>
<text x="319.86" y="410.80" font-size="10.0" text-anchor="middle" font-weight="normal" fill="#1a1a1a" stroke="#1a1a1a" >3</text>
<line x1="337.08" y1="398.0" x2="337.08" y2="400.20" stroke="#333" stroke-width="0.9"/>
<text x="337.08" y="410.80" font-size="10.0" text-anchor="middle" font-weight="normal" fill="#1a1a1a" stroke="#1a1a1a" >4</text>
<line x1="354.30" y1="398.0" x2="354.30" y2="400.20" stroke="#333" stroke-width="0.9"/>
<text x="354.30" y="410.80" font-size="10.0" text-anchor="middle" font-weight="normal" fill="#1a1a1a" stroke="#1a1a1a" >6</text>
<line x1="371.52" y1="398.0" x2="371.52" y2="400.20" stroke="#333" stroke-width="0.9"/>
<text x="371.52" y="410.80" font-size="10.0" text-anchor="middle" font-weight="normal" fill="#1a1a1a" stroke="#1a1a1a" >8</text>
<line x1="388.74" y1="398.0" x2="388.74" y2="400.20" stroke="#333" stroke-width="0.9"/>
<text x="388.74" y="410.80" font-size="10.0" text-anchor="middle" font-weight="normal" fill="#1a1a1a" stroke="#1a1a1a" >24</text>
<line x1="405.96" y1="398.0" x2="405.96" y2="400.20" stroke="#333" stroke-width="0.9"/>
<text x="405.96" y="410.80" font-size="10.0" text-anchor="middle" font-weight="normal" fill="#1a1a1a" stroke="#1a1a1a" >168</text>
<text x="0" y="0" font-size="11.1" text-anchor="middle" fill="#1a1a1a" stroke="#1a1a1a" transform="translate(230.4 347.90) rotate(-90)">% of leukocytes</text>
<g><polyline points="268.20,328.30 285.42,344.40 302.64,325.20 319.86,319.40 337.08,323.80 354.30,314.20 371.52,310.50 388.74,313.70 405.96,331.40" fill="none" stroke="#2323c4" stroke-width="1.8" stroke-linejoin="round"/><line x1="268.20" y1="322.5" x2="268.20" y2="334.8" stroke="#2323c4" stroke-width="1.8"/><line x1="285.42" y1="327.9" x2="285.42" y2="360.3" stroke="#2323c4" stroke-width="1.8"/><line x1="302.64" y1="308.5" x2="302.64" y2="341.8" stroke="#2323c4" stroke-width="1.8"/><line x1="319.86" y1="297" x2="319.86" y2="336.4" stroke="#2323c4" stroke-width="1.8"/><line x1="337.08" y1="311.5" x2="337.08" y2="334.5" stroke="#2323c4" stroke-width="1.8"/><line x1="354.30" y1="298.2" x2="354.30" y2="330.1" stroke="#2323c4" stroke-width="1.8"/><line x1="371.52" y1="297.4" x2="371.52" y2="324.4" stroke="#2323c4" stroke-width="1.8"/><line x1="388.74" y1="307.2" x2="388.74" y2="320.3" stroke="#2323c4" stroke-width="1.8"/><line x1="405.96" y1="323.6" x2="405.96" y2="339.1" stroke="#2323c4" stroke-width="1.8"/><circle cx="268.20" cy="328.30" r="2.4" fill="#2323c4"/><circle cx="285.42" cy="344.40" r="2.4" fill="#2323c4"/><circle cx="302.64" cy="325.20" r="2.4" fill="#2323c4"/><circle cx="319.86" cy="319.40" r="2.4" fill="#2323c4"/><circle cx="337.08" cy="323.80" r="2.4" fill="#2323c4"/><circle cx="354.30" cy="314.20" r="2.4" fill="#2323c4"/><circle cx="371.52" cy="310.50" r="2.4" fill="#2323c4"/><circle cx="388.74" cy="313.70" r="2.4" fill="#2323c4"/><circle cx="405.96" cy="331.40" r="2.4" fill="#2323c4"/></g>
<g><polyline points="268.20,392.80 285.42,392.80 302.64,368.00 319.86,354.60 337.08,350.30 354.30,357.40 371.52,364.50 388.74,389.80 405.96,392.80" fill="none" stroke="#2ee02e" stroke-width="1.8" stroke-linejoin="round"/><line x1="302.64" y1="348.7" x2="302.64" y2="387.4" stroke="#2ee02e" stroke-width="1.8"/><line x1="319.86" y1="336.4" x2="319.86" y2="371.9" stroke="#2ee02e" stroke-width="1.8"/><line x1="337.08" y1="334.8" x2="337.08" y2="365.5" stroke="#2ee02e" stroke-width="1.8"/><line x1="354.30" y1="339.9" x2="354.30" y2="375.1" stroke="#2ee02e" stroke-width="1.8"/><line x1="371.52" y1="349.7" x2="371.52" y2="377.6" stroke="#2ee02e" stroke-width="1.8"/><circle cx="268.20" cy="392.80" r="2.4" fill="#2ee02e"/><circle cx="285.42" cy="392.80" r="2.4" fill="#2ee02e"/><circle cx="302.64" cy="368.00" r="2.4" fill="#2ee02e"/><circle cx="319.86" cy="354.60" r="2.4" fill="#2ee02e"/><circle cx="337.08" cy="350.30" r="2.4" fill="#2ee02e"/><circle cx="354.30" cy="357.40" r="2.4" fill="#2ee02e"/><circle cx="371.52" cy="364.50" r="2.4" fill="#2ee02e"/><circle cx="388.74" cy="389.80" r="2.4" fill="#2ee02e"/><circle cx="405.96" cy="392.80" r="2.4" fill="#2ee02e"/></g>
<text x="242.80" y="423.60" font-size="11.1" text-anchor="middle" font-weight="normal" fill="#1a1a1a" stroke="#1a1a1a" >Hours post endotoxin challenge</text>
<circle cx="427.8" cy="342.1" r="3.0" fill="#2323c4"/>
<circle cx="427.8" cy="365.9" r="3.0" fill="#2ee02e"/>
<text x="438.20" y="345.90" font-size="11.2" text-anchor="start" font-weight="normal" fill="#1a1a1a" stroke="#1a1a1a" >Neutrophils</text>
<text x="438.20" y="369.70" font-size="11.2" text-anchor="start" font-weight="normal" fill="#1a1a1a" stroke="#1a1a1a" >PMN-MDSCs</text>
<rect x="53.6" y="433.9" width="158.70" height="104.10" fill="none" stroke="#222" stroke-width="1.3"/>
<line x1="51.40" y1="533.7" x2="53.6" y2="533.7" stroke="#333" stroke-width="0.9"/>
<text x="50.00" y="536.40" font-size="8.8" text-anchor="end" font-weight="normal" fill="#333" stroke="#333" >0.0</text>
<line x1="51.40" y1="511.95" x2="53.6" y2="511.95" stroke="#333" stroke-width="0.9"/>
<text x="50.00" y="514.65" font-size="8.8" text-anchor="end" font-weight="normal" fill="#333" stroke="#333" >0.1</text>
<line x1="51.40" y1="490.2" x2="53.6" y2="490.2" stroke="#333" stroke-width="0.9"/>
<text x="50.00" y="492.90" font-size="8.8" text-anchor="end" font-weight="normal" fill="#333" stroke="#333" >0.2</text>
<line x1="51.40" y1="468.45" x2="53.6" y2="468.45" stroke="#333" stroke-width="0.9"/>
<text x="50.00" y="471.15" font-size="8.8" text-anchor="end" font-weight="normal" fill="#333" stroke="#333" >0.3</text>
<line x1="51.40" y1="446.7" x2="53.6" y2="446.7" stroke="#333" stroke-width="0.9"/>
<text x="50.00" y="449.40" font-size="8.8" text-anchor="end" font-weight="normal" fill="#333" stroke="#333" >0.4</text>
<line x1="64.20" y1="538.0" x2="64.20" y2="540.20" stroke="#333" stroke-width="0.9"/>
<text x="64.20" y="550.80" font-size="10.0" text-anchor="middle" font-weight="normal" fill="#1a1a1a" stroke="#1a1a1a" >0</text>
<line x1="81.53" y1="538.0" x2="81.53" y2="540.20" stroke="#333" stroke-width="0.9"/>
<text x="81.53" y="550.80" font-size="10.0" text-anchor="middle" font-weight="normal" fill="#1a1a1a" stroke="#1a1a1a" >1</text>
<line x1="98.86" y1="538.0" x2="98.86" y2="540.20" stroke="#333" stroke-width="0.9"/>
<text x="98.86" y="550.80" font-size="10.0" text-anchor="middle" font-weight="normal" fill="#1a1a1a" stroke="#1a1a1a" >2</text>
<line x1="116.19" y1="538.0" x2="116.19" y2="540.20" stroke="#333" stroke-width="0.9"/>
<text x="116.19" y="550.80" font-size="10.0" text-anchor="middle" font-weight="normal" fill="#1a1a1a" stroke="#1a1a1a" >3</text>
<line x1="133.52" y1="538.0" x2="133.52" y2="540.20" stroke="#333" stroke-width="0.9"/>
<text x="133.52" y="550.80" font-size="10.0" text-anchor="middle" font-weight="normal" fill="#1a1a1a" stroke="#1a1a1a" >4</text>
<line x1="150.85" y1="538.0" x2="150.85" y2="540.20" stroke="#333" stroke-width="0.9"/>
<text x="150.85" y="550.80" font-size="10.0" text-anchor="middle" font-weight="normal" fill="#1a1a1a" stroke="#1a1a1a" >6</text>
<line x1="168.18" y1="538.0" x2="168.18" y2="540.20" stroke="#333" stroke-width="0.9"/>
<text x="168.18" y="550.80" font-size="10.0" text-anchor="middle" font-weight="normal" fill="#1a1a1a" stroke="#1a1a1a" >8</text>
<line x1="185.51" y1="538.0" x2="185.51" y2="540.20" stroke="#333" stroke-width="0.9"/>
<text x="185.51" y="550.80" font-size="10.0" text-anchor="middle" font-weight="normal" fill="#1a1a1a" stroke="#1a1a1a" >24</text>
<line x1="202.84" y1="538.0" x2="202.84" y2="540.20" stroke="#333" stroke-width="0.9"/>
<text x="202.84" y="550.80" font-size="10.0" text-anchor="middle" font-weight="normal" fill="#1a1a1a" stroke="#1a1a1a" >168</text>
<text x="0" y="0" font-size="11.2" text-anchor="middle" fill="#1a1a1a" stroke="#1a1a1a" transform="translate(26.9 487.95) rotate(-90)">Million cells/mL</text>
<g><polyline points="64.20,472.60 81.53,533.70 98.86,533.70 116.19,533.40 133.52,528.60 150.85,496.60 168.18,472.70 185.51,465.10 202.84,465.10" fill="none" stroke="#ec1c7c" stroke-width="1.8" stroke-linejoin="round"/><line x1="64.20" y1="451.4" x2="64.20" y2="494.1" stroke="#ec1c7c" stroke-width="1.8"/><line x1="150.85" y1="478.4" x2="150.85" y2="515.6" stroke="#ec1c7c" stroke-width="1.8"/><line x1="168.18" y1="440.3" x2="168.18" y2="506.1" stroke="#ec1c7c" stroke-width="1.8"/><line x1="185.51" y1="450.8" x2="185.51" y2="488" stroke="#ec1c7c" stroke-width="1.8"/><line x1="202.84" y1="438.4" x2="202.84" y2="491.8" stroke="#ec1c7c" stroke-width="1.8"/><circle cx="64.20" cy="472.60" r="2.4" fill="#ec1c7c"/><circle cx="81.53" cy="533.70" r="2.4" fill="#ec1c7c"/><circle cx="98.86" cy="533.70" r="2.4" fill="#ec1c7c"/><circle cx="116.19" cy="533.40" r="2.4" fill="#ec1c7c"/><circle cx="133.52" cy="528.60" r="2.4" fill="#ec1c7c"/><circle cx="150.85" cy="496.60" r="2.4" fill="#ec1c7c"/><circle cx="168.18" cy="472.70" r="2.4" fill="#ec1c7c"/><circle cx="185.51" cy="465.10" r="2.4" fill="#ec1c7c"/><circle cx="202.84" cy="465.10" r="2.4" fill="#ec1c7c"/></g>
<g><polyline points="64.20,517.40 81.53,533.20 98.86,533.70 116.19,533.40 133.52,533.20 150.85,532.40 168.18,531.50 185.51,497.10 202.84,517.60" fill="none" stroke="#1e5ff0" stroke-width="1.8" stroke-linejoin="round"/><line x1="185.51" y1="462.2" x2="185.51" y2="523" stroke="#1e5ff0" stroke-width="1.8"/><line x1="202.84" y1="510.9" x2="202.84" y2="522.3" stroke="#1e5ff0" stroke-width="1.8"/><circle cx="64.20" cy="517.40" r="2.4" fill="#1e5ff0"/><circle cx="81.53" cy="533.20" r="2.4" fill="#1e5ff0"/><circle cx="98.86" cy="533.70" r="2.4" fill="#1e5ff0"/><circle cx="116.19" cy="533.40" r="2.4" fill="#1e5ff0"/><circle cx="133.52" cy="533.20" r="2.4" fill="#1e5ff0"/><circle cx="150.85" cy="532.40" r="2.4" fill="#1e5ff0"/><circle cx="168.18" cy="531.50" r="2.4" fill="#1e5ff0"/><circle cx="185.51" cy="497.10" r="2.4" fill="#1e5ff0"/><circle cx="202.84" cy="517.60" r="2.4" fill="#1e5ff0"/></g>
<g><polyline points="64.20,528.30 81.53,533.70 98.86,533.70 116.19,531.90 133.52,524.20 150.85,499.00 168.18,485.70 185.51,521.40 202.84,525.20" fill="none" stroke="#fcb814" stroke-width="1.8" stroke-linejoin="round"/><line x1="133.52" y1="515.6" x2="133.52" y2="531.9" stroke="#fcb814" stroke-width="1.8"/><line x1="150.85" y1="488" x2="150.85" y2="509" stroke="#fcb814" stroke-width="1.8"/><line x1="168.18" y1="477.5" x2="168.18" y2="505.2" stroke="#fcb814" stroke-width="1.8"/><line x1="185.51" y1="507" x2="185.51" y2="534.7" stroke="#fcb814" stroke-width="1.8"/><line x1="202.84" y1="518.5" x2="202.84" y2="532.8" stroke="#fcb814" stroke-width="1.8"/><circle cx="64.20" cy="528.30" r="2.4" fill="#fcb814"/><circle cx="81.53" cy="533.70" r="2.4" fill="#fcb814"/><circle cx="98.86" cy="533.70" r="2.4" fill="#fcb814"/><circle cx="116.19" cy="531.90" r="2.4" fill="#fcb814"/><circle cx="133.52" cy="524.20" r="2.4" fill="#fcb814"/><circle cx="150.85" cy="499.00" r="2.4" fill="#fcb814"/><circle cx="168.18" cy="485.70" r="2.4" fill="#fcb814"/><circle cx="185.51" cy="521.40" r="2.4" fill="#fcb814"/><circle cx="202.84" cy="525.20" r="2.4" fill="#fcb814"/></g>
<rect x="257.7" y="434.1" width="158.30" height="104.00" fill="none" stroke="#222" stroke-width="1.3"/>
<line x1="255.50" y1="528.3" x2="257.7" y2="528.3" stroke="#333" stroke-width="0.9"/>
<text x="254.10" y="531.00" font-size="8.8" text-anchor="end" font-weight="normal" fill="#333" stroke="#333" >0</text>
<line x1="255.50" y1="511.0" x2="257.7" y2="511.0" stroke="#333" stroke-width="0.9"/>
<text x="254.10" y="513.70" font-size="8.8" text-anchor="end" font-weight="normal" fill="#333" stroke="#333" >20</text>
<line x1="255.50" y1="493.7" x2="257.7" y2="493.7" stroke="#333" stroke-width="0.9"/>
<text x="254.10" y="496.40" font-size="8.8" text-anchor="end" font-weight="normal" fill="#333" stroke="#333" >40</text>
<line x1="255.50" y1="476.4" x2="257.7" y2="476.4" stroke="#333" stroke-width="0.9"/>
<text x="254.10" y="479.10" font-size="8.8" text-anchor="end" font-weight="normal" fill="#333" stroke="#333" >60</text>
<line x1="255.50" y1="459.1" x2="257.7" y2="459.1" stroke="#333" stroke-width="0.9"/>
<text x="254.10" y="461.80" font-size="8.8" text-anchor="end" font-weight="normal" fill="#333" stroke="#333" >80</text>
<line x1="255.50" y1="441.8" x2="257.7" y2="441.8" stroke="#333" stroke-width="0.9"/>
<text x="254.10" y="444.50" font-size="8.8" text-anchor="end" font-weight="normal" fill="#333" stroke="#333" >100</text>
<line x1="267.80" y1="538.1" x2="267.80" y2="540.30" stroke="#333" stroke-width="0.9"/>
<text x="267.80" y="550.90" font-size="10.0" text-anchor="middle" font-weight="normal" fill="#1a1a1a" stroke="#1a1a1a" >0</text>
<line x1="285.17" y1="538.1" x2="285.17" y2="540.30" stroke="#333" stroke-width="0.9"/>
<text x="285.17" y="550.90" font-size="10.0" text-anchor="middle" font-weight="normal" fill="#1a1a1a" stroke="#1a1a1a" >1</text>
<line x1="302.54" y1="538.1" x2="302.54" y2="540.30" stroke="#333" stroke-width="0.9"/>
<text x="302.54" y="550.90" font-size="10.0" text-anchor="middle" font-weight="normal" fill="#1a1a1a" stroke="#1a1a1a" >2</text>
<line x1="319.91" y1="538.1" x2="319.91" y2="540.30" stroke="#333" stroke-width="0.9"/>
<text x="319.91" y="550.90" font-size="10.0" text-anchor="middle" font-weight="normal" fill="#1a1a1a" stroke="#1a1a1a" >3</text>
<line x1="337.28" y1="538.1" x2="337.28" y2="540.30" stroke="#333" stroke-width="0.9"/>
<text x="337.28" y="550.90" font-size="10.0" text-anchor="middle" font-weight="normal" fill="#1a1a1a" stroke="#1a1a1a" >4</text>
<line x1="354.65" y1="538.1" x2="354.65" y2="540.30" stroke="#333" stroke-width="0.9"/>
<text x="354.65" y="550.90" font-size="10.0" text-anchor="middle" font-weight="normal" fill="#1a1a1a" stroke="#1a1a1a" >6</text>
<line x1="372.02" y1="538.1" x2="372.02" y2="540.30" stroke="#333" stroke-width="0.9"/>
<text x="372.02" y="550.90" font-size="10.0" text-anchor="middle" font-weight="normal" fill="#1a1a1a" stroke="#1a1a1a" >8</text>
<line x1="389.39" y1="538.1" x2="389.39" y2="540.30" stroke="#333" stroke-width="0.9"/>
<text x="389.39" y="550.90" font-size="10.0" text-anchor="middle" font-weight="normal" fill="#1a1a1a" stroke="#1a1a1a" >24</text>
<line x1="406.76" y1="538.1" x2="406.76" y2="540.30" stroke="#333" stroke-width="0.9"/>
<text x="406.76" y="550.90" font-size="10.0" text-anchor="middle" font-weight="normal" fill="#1a1a1a" stroke="#1a1a1a" >168</text>
<text x="0" y="0" font-size="11" text-anchor="middle" fill="#1a1a1a" stroke="#1a1a1a" transform="translate(230.3 486.10) rotate(-90)">% of monocytic cells</text>
<g><polyline points="267.80,516.50 285.17,528.30 302.54,513.20 319.91,502.10 337.28,490.90 354.65,489.50 372.02,488.40 389.39,512.50 406.76,519.80" fill="none" stroke="#fcb814" stroke-width="1.8" stroke-linejoin="round"/><line x1="267.80" y1="506.7" x2="267.80" y2="525.5" stroke="#fcb814" stroke-width="1.8"/><line x1="302.54" y1="497.7" x2="302.54" y2="526.4" stroke="#fcb814" stroke-width="1.8"/><line x1="319.91" y1="489.5" x2="319.91" y2="514.9" stroke="#fcb814" stroke-width="1.8"/><line x1="337.28" y1="479.7" x2="337.28" y2="502" stroke="#fcb814" stroke-width="1.8"/><line x1="389.39" y1="498" x2="389.39" y2="528" stroke="#fcb814" stroke-width="1.8"/><line x1="406.76" y1="513.5" x2="406.76" y2="527" stroke="#fcb814" stroke-width="1.8"/><circle cx="267.80" cy="516.50" r="2.4" fill="#fcb814"/><circle cx="285.17" cy="528.30" r="2.4" fill="#fcb814"/><circle cx="302.54" cy="513.20" r="2.4" fill="#fcb814"/><circle cx="319.91" cy="502.10" r="2.4" fill="#fcb814"/><circle cx="337.28" cy="490.90" r="2.4" fill="#fcb814"/><circle cx="354.65" cy="489.50" r="2.4" fill="#fcb814"/><circle cx="372.02" cy="488.40" r="2.4" fill="#fcb814"/><circle cx="389.39" cy="512.50" r="2.4" fill="#fcb814"/><circle cx="406.76" cy="519.80" r="2.4" fill="#fcb814"/></g>
<g><polyline points="267.80,466.50 285.17,528.30 302.54,525.00 319.91,520.60 337.28,505.20 354.65,489.80 372.02,487.60 389.39,468.40 406.76,462.50" fill="none" stroke="#ec1c7c" stroke-width="1.8" stroke-linejoin="round"/><line x1="267.80" y1="454.2" x2="267.80" y2="478" stroke="#ec1c7c" stroke-width="1.8"/><line x1="302.54" y1="520.6" x2="302.54" y2="529.6" stroke="#ec1c7c" stroke-width="1.8"/><line x1="319.91" y1="514.9" x2="319.91" y2="526.4" stroke="#ec1c7c" stroke-width="1.8"/><line x1="354.65" y1="478.9" x2="354.65" y2="502.5" stroke="#ec1c7c" stroke-width="1.8"/><line x1="372.02" y1="472.5" x2="372.02" y2="504.4" stroke="#ec1c7c" stroke-width="1.8"/><line x1="389.39" y1="454.4" x2="389.39" y2="483.5" stroke="#ec1c7c" stroke-width="1.8"/><line x1="406.76" y1="455.3" x2="406.76" y2="471.6" stroke="#ec1c7c" stroke-width="1.8"/><circle cx="267.80" cy="466.50" r="2.4" fill="#ec1c7c"/><circle cx="285.17" cy="528.30" r="2.4" fill="#ec1c7c"/><circle cx="302.54" cy="525.00" r="2.4" fill="#ec1c7c"/><circle cx="319.91" cy="520.60" r="2.4" fill="#ec1c7c"/><circle cx="337.28" cy="505.20" r="2.4" fill="#ec1c7c"/><circle cx="354.65" cy="489.80" r="2.4" fill="#ec1c7c"/><circle cx="372.02" cy="487.60" r="2.4" fill="#ec1c7c"/><circle cx="389.39" cy="468.40" r="2.4" fill="#ec1c7c"/><circle cx="406.76" cy="462.50" r="2.4" fill="#ec1c7c"/></g>
<g><polyline points="267.80,516.50 285.17,442.80 302.54,460.00 319.91,475.50 337.28,501.80 354.65,518.90 372.02,521.60 389.39,517.10 406.76,516.20" fill="none" stroke="#1e5ff0" stroke-width="1.8" stroke-linejoin="round"/><line x1="267.80" y1="511.6" x2="267.80" y2="522.3" stroke="#1e5ff0" stroke-width="1.8"/><line x1="302.54" y1="440.3" x2="302.54" y2="479.6" stroke="#1e5ff0" stroke-width="1.8"/><line x1="319.91" y1="454.2" x2="319.91" y2="497" stroke="#1e5ff0" stroke-width="1.8"/><line x1="337.28" y1="486.2" x2="337.28" y2="518.2" stroke="#1e5ff0" stroke-width="1.8"/><line x1="354.65" y1="513.5" x2="354.65" y2="524.4" stroke="#1e5ff0" stroke-width="1.8"/><line x1="372.02" y1="518" x2="372.02" y2="525.3" stroke="#1e5ff0" stroke-width="1.8"/><line x1="389.39" y1="512.5" x2="389.39" y2="522.5" stroke="#1e5ff0" stroke-width="1.8"/><line x1="406.76" y1="510.7" x2="406.76" y2="521.6" stroke="#1e5ff0" stroke-width="1.8"/><circle cx="267.80" cy="516.50" r="2.4" fill="#1e5ff0"/><circle cx="285.17" cy="442.80" r="2.4" fill="#1e5ff0"/><circle cx="302.54" cy="460.00" r="2.4" fill="#1e5ff0"/><circle cx="319.91" cy="475.50" r="2.4" fill="#1e5ff0"/><circle cx="337.28" cy="501.80" r="2.4" fill="#1e5ff0"/><circle cx="354.65" cy="518.90" r="2.4" fill="#1e5ff0"/><circle cx="372.02" cy="521.60" r="2.4" fill="#1e5ff0"/><circle cx="389.39" cy="517.10" r="2.4" fill="#1e5ff0"/><circle cx="406.76" cy="516.20" r="2.4" fill="#1e5ff0"/></g>
<text x="242.80" y="564.80" font-size="11.1" text-anchor="middle" font-weight="normal" fill="#1a1a1a" stroke="#1a1a1a" >Hours post endotoxin challenge</text>
<circle cx="427.3" cy="466.9" r="3.0" fill="#ec1c7c"/>
<circle cx="427.3" cy="489.5" r="3.0" fill="#1e5ff0"/>
<circle cx="427.3" cy="512.3" r="3.0" fill="#fcb814"/>
<text x="437.60" y="470.80" font-size="11.3" text-anchor="start" font-weight="normal" fill="#1a1a1a" stroke="#1a1a1a" >Classical monocytes</text>
<text x="437.60" y="487.30" font-size="11.3" text-anchor="start" font-weight="normal" fill="#1a1a1a" stroke="#1a1a1a" >Intermediate &amp; non-</text>
<text x="437.60" y="495.90" font-size="11.3" text-anchor="start" font-weight="normal" fill="#1a1a1a" stroke="#1a1a1a" >classical monocytes</text>
<text x="437.60" y="516.20" font-size="11.3" text-anchor="start" font-weight="normal" fill="#1a1a1a" stroke="#1a1a1a" >M-MDSCs</text>
<rect x="54.0" y="574.0" width="158.40" height="104.40" fill="none" stroke="#222" stroke-width="1.3"/>
<line x1="51.80" y1="674.0" x2="54.0" y2="674.0" stroke="#333" stroke-width="0.9"/>
<text x="50.40" y="676.70" font-size="8.8" text-anchor="end" font-weight="normal" fill="#333" stroke="#333" >0.0</text>
<line x1="51.80" y1="649.9" x2="54.0" y2="649.9" stroke="#333" stroke-width="0.9"/>
<text x="50.40" y="652.60" font-size="8.8" text-anchor="end" font-weight="normal" fill="#333" stroke="#333" >2.5</text>
<line x1="51.80" y1="625.8" x2="54.0" y2="625.8" stroke="#333" stroke-width="0.9"/>
<text x="50.40" y="628.50" font-size="8.8" text-anchor="end" font-weight="normal" fill="#333" stroke="#333" >5.0</text>
<line x1="51.80" y1="601.7" x2="54.0" y2="601.7" stroke="#333" stroke-width="0.9"/>
<text x="50.40" y="604.40" font-size="8.8" text-anchor="end" font-weight="normal" fill="#333" stroke="#333" >7.5</text>
<line x1="51.80" y1="577.6" x2="54.0" y2="577.6" stroke="#333" stroke-width="0.9"/>
<text x="50.40" y="580.30" font-size="8.8" text-anchor="end" font-weight="normal" fill="#333" stroke="#333" >10.0</text>
<line x1="65.30" y1="678.4" x2="65.30" y2="680.60" stroke="#333" stroke-width="0.9"/>
<text x="65.30" y="691.20" font-size="10.0" text-anchor="middle" font-weight="normal" fill="#1a1a1a" stroke="#1a1a1a" >0</text>
<line x1="84.75" y1="678.4" x2="84.75" y2="680.60" stroke="#333" stroke-width="0.9"/>
<text x="84.75" y="691.20" font-size="10.0" text-anchor="middle" font-weight="normal" fill="#1a1a1a" stroke="#1a1a1a" >1</text>
<line x1="104.20" y1="678.4" x2="104.20" y2="680.60" stroke="#333" stroke-width="0.9"/>
<text x="104.20" y="691.20" font-size="10.0" text-anchor="middle" font-weight="normal" fill="#1a1a1a" stroke="#1a1a1a" >2</text>
<line x1="123.65" y1="678.4" x2="123.65" y2="680.60" stroke="#333" stroke-width="0.9"/>
<text x="123.65" y="691.20" font-size="10.0" text-anchor="middle" font-weight="normal" fill="#1a1a1a" stroke="#1a1a1a" >3</text>
<line x1="143.10" y1="678.4" x2="143.10" y2="680.60" stroke="#333" stroke-width="0.9"/>
<text x="143.10" y="691.20" font-size="10.0" text-anchor="middle" font-weight="normal" fill="#1a1a1a" stroke="#1a1a1a" >4</text>
<line x1="162.55" y1="678.4" x2="162.55" y2="680.60" stroke="#333" stroke-width="0.9"/>
<text x="162.55" y="691.20" font-size="10.0" text-anchor="middle" font-weight="normal" fill="#1a1a1a" stroke="#1a1a1a" >6</text>
<line x1="182.00" y1="678.4" x2="182.00" y2="680.60" stroke="#333" stroke-width="0.9"/>
<text x="182.00" y="691.20" font-size="10.0" text-anchor="middle" font-weight="normal" fill="#1a1a1a" stroke="#1a1a1a" >8</text>
<line x1="201.45" y1="678.4" x2="201.45" y2="680.60" stroke="#333" stroke-width="0.9"/>
<text x="201.45" y="691.20" font-size="10.0" text-anchor="middle" font-weight="normal" fill="#1a1a1a" stroke="#1a1a1a" >336</text>
<text x="0" y="0" font-size="11.1" text-anchor="middle" fill="#1a1a1a" stroke="#1a1a1a" transform="translate(27.0 626.40) rotate(-90)">Cytokines (ng/mL)</text>
<g><polyline points="65.30,672.20 84.75,667.80 104.20,623.50 123.65,652.00 143.10,666.30 162.55,669.80 182.00,671.80 201.45,673.00" fill="none" stroke="#8a24ec" stroke-width="1.8" stroke-linejoin="round"/><line x1="104.20" y1="603.8" x2="104.20" y2="643.8" stroke="#8a24ec" stroke-width="1.8"/><line x1="123.65" y1="640.5" x2="123.65" y2="662.5" stroke="#8a24ec" stroke-width="1.8"/><line x1="143.10" y1="663" x2="143.10" y2="669.5" stroke="#8a24ec" stroke-width="1.8"/><circle cx="65.30" cy="672.20" r="2.4" fill="#8a24ec"/><circle cx="84.75" cy="667.80" r="2.4" fill="#8a24ec"/><circle cx="104.20" cy="623.50" r="2.4" fill="#8a24ec"/><circle cx="123.65" cy="652.00" r="2.4" fill="#8a24ec"/><circle cx="143.10" cy="666.30" r="2.4" fill="#8a24ec"/><circle cx="162.55" cy="669.80" r="2.4" fill="#8a24ec"/><circle cx="182.00" cy="671.80" r="2.4" fill="#8a24ec"/><circle cx="201.45" cy="673.00" r="2.4" fill="#8a24ec"/></g>
<g><polyline points="65.30,670.70 84.75,667.80 104.20,634.20 123.65,627.80 143.10,633.10 162.55,636.00 182.00,661.10 201.45,670.30" fill="none" stroke="#f26a22" stroke-width="1.8" stroke-linejoin="round"/><line x1="104.20" y1="630" x2="104.20" y2="651" stroke="#f26a22" stroke-width="1.8"/><line x1="123.65" y1="617.0" x2="123.65" y2="637.8" stroke="#f26a22" stroke-width="1.8"/><line x1="143.10" y1="620" x2="143.10" y2="646.2" stroke="#f26a22" stroke-width="1.8"/><line x1="162.55" y1="625.5" x2="162.55" y2="646.2" stroke="#f26a22" stroke-width="1.8"/><line x1="182.00" y1="653.9" x2="182.00" y2="668.1" stroke="#f26a22" stroke-width="1.8"/><circle cx="65.30" cy="670.70" r="2.4" fill="#f26a22"/><circle cx="84.75" cy="667.80" r="2.4" fill="#f26a22"/><circle cx="104.20" cy="634.20" r="2.4" fill="#f26a22"/><circle cx="123.65" cy="627.80" r="2.4" fill="#f26a22"/><circle cx="143.10" cy="633.10" r="2.4" fill="#f26a22"/><circle cx="162.55" cy="636.00" r="2.4" fill="#f26a22"/><circle cx="182.00" cy="661.10" r="2.4" fill="#f26a22"/><circle cx="201.45" cy="670.30" r="2.4" fill="#f26a22"/></g>
<g><polyline points="65.30,673.60 84.75,673.20 104.20,651.10 123.65,577.90 143.10,577.90 162.55,628.10 182.00,649.50 201.45,671.40" fill="none" stroke="#2ab8f0" stroke-width="1.8" stroke-linejoin="round"/><line x1="104.20" y1="648" x2="104.20" y2="654" stroke="#2ab8f0" stroke-width="1.8"/><line x1="162.55" y1="609" x2="162.55" y2="647.3" stroke="#2ab8f0" stroke-width="1.8"/><line x1="182.00" y1="638.6" x2="182.00" y2="659.3" stroke="#2ab8f0" stroke-width="1.8"/><circle cx="65.30" cy="673.60" r="2.4" fill="#2ab8f0"/><circle cx="84.75" cy="673.20" r="2.4" fill="#2ab8f0"/><circle cx="104.20" cy="651.10" r="2.4" fill="#2ab8f0"/><circle cx="123.65" cy="577.90" r="2.4" fill="#2ab8f0"/><circle cx="143.10" cy="577.90" r="2.4" fill="#2ab8f0"/><circle cx="162.55" cy="628.10" r="2.4" fill="#2ab8f0"/><circle cx="182.00" cy="649.50" r="2.4" fill="#2ab8f0"/><circle cx="201.45" cy="671.40" r="2.4" fill="#2ab8f0"/></g>
<g><polyline points="65.30,673.60 84.75,646.00 104.20,656.00 123.65,666.60 143.10,670.30 162.55,671.80 182.00,673.10 201.45,674.00" fill="none" stroke="#2fd12f" stroke-width="1.8" stroke-linejoin="round"/><line x1="84.75" y1="629.3" x2="84.75" y2="662.7" stroke="#2fd12f" stroke-width="1.8"/><line x1="104.20" y1="654.7" x2="104.20" y2="664.9" stroke="#2fd12f" stroke-width="1.8"/><line x1="123.65" y1="663.5" x2="123.65" y2="670.7" stroke="#2fd12f" stroke-width="1.8"/><circle cx="65.30" cy="673.60" r="2.4" fill="#2fd12f"/><circle cx="84.75" cy="646.00" r="2.4" fill="#2fd12f"/><circle cx="104.20" cy="656.00" r="2.4" fill="#2fd12f"/><circle cx="123.65" cy="666.60" r="2.4" fill="#2fd12f"/><circle cx="143.10" cy="670.30" r="2.4" fill="#2fd12f"/><circle cx="162.55" cy="671.80" r="2.4" fill="#2fd12f"/><circle cx="182.00" cy="673.10" r="2.4" fill="#2fd12f"/><circle cx="201.45" cy="674.00" r="2.4" fill="#2fd12f"/></g>
<circle cx="123.65" cy="577.9" r="2.2" fill="#000"/><circle cx="143.10" cy="577.9" r="2.2" fill="#000"/>
<rect x="257.8" y="574.0" width="158.00" height="104.40" fill="none" stroke="#222" stroke-width="1.3"/>
<line x1="255.60" y1="674.1" x2="257.8" y2="674.1" stroke="#333" stroke-width="0.9"/>
<text x="254.20" y="676.80" font-size="8.8" text-anchor="end" font-weight="normal" fill="#333" stroke="#333" >0.0</text>
<line x1="255.60" y1="645.8" x2="257.8" y2="645.8" stroke="#333" stroke-width="0.9"/>
<text x="254.20" y="648.50" font-size="8.8" text-anchor="end" font-weight="normal" fill="#333" stroke="#333" >0.5</text>
<line x1="255.60" y1="617.5" x2="257.8" y2="617.5" stroke="#333" stroke-width="0.9"/>
<text x="254.20" y="620.20" font-size="8.8" text-anchor="end" font-weight="normal" fill="#333" stroke="#333" >1.0</text>
<line x1="255.60" y1="589.2" x2="257.8" y2="589.2" stroke="#333" stroke-width="0.9"/>
<text x="254.20" y="591.90" font-size="8.8" text-anchor="end" font-weight="normal" fill="#333" stroke="#333" >1.5</text>
<line x1="269.00" y1="678.4" x2="269.00" y2="680.60" stroke="#333" stroke-width="0.9"/>
<text x="269.00" y="691.20" font-size="10.0" text-anchor="middle" font-weight="normal" fill="#1a1a1a" stroke="#1a1a1a" >0</text>
<line x1="288.40" y1="678.4" x2="288.40" y2="680.60" stroke="#333" stroke-width="0.9"/>
<text x="288.40" y="691.20" font-size="10.0" text-anchor="middle" font-weight="normal" fill="#1a1a1a" stroke="#1a1a1a" >1</text>
<line x1="307.80" y1="678.4" x2="307.80" y2="680.60" stroke="#333" stroke-width="0.9"/>
<text x="307.80" y="691.20" font-size="10.0" text-anchor="middle" font-weight="normal" fill="#1a1a1a" stroke="#1a1a1a" >2</text>
<line x1="327.20" y1="678.4" x2="327.20" y2="680.60" stroke="#333" stroke-width="0.9"/>
<text x="327.20" y="691.20" font-size="10.0" text-anchor="middle" font-weight="normal" fill="#1a1a1a" stroke="#1a1a1a" >3</text>
<line x1="346.60" y1="678.4" x2="346.60" y2="680.60" stroke="#333" stroke-width="0.9"/>
<text x="346.60" y="691.20" font-size="10.0" text-anchor="middle" font-weight="normal" fill="#1a1a1a" stroke="#1a1a1a" >4</text>
<line x1="366.00" y1="678.4" x2="366.00" y2="680.60" stroke="#333" stroke-width="0.9"/>
<text x="366.00" y="691.20" font-size="10.0" text-anchor="middle" font-weight="normal" fill="#1a1a1a" stroke="#1a1a1a" >6</text>
<line x1="385.40" y1="678.4" x2="385.40" y2="680.60" stroke="#333" stroke-width="0.9"/>
<text x="385.40" y="691.20" font-size="10.0" text-anchor="middle" font-weight="normal" fill="#1a1a1a" stroke="#1a1a1a" >8</text>
<line x1="404.80" y1="678.4" x2="404.80" y2="680.60" stroke="#333" stroke-width="0.9"/>
<text x="404.80" y="691.20" font-size="10.0" text-anchor="middle" font-weight="normal" fill="#1a1a1a" stroke="#1a1a1a" >336</text>
<text x="0" y="0" font-size="11" text-anchor="middle" fill="#1a1a1a" stroke="#1a1a1a" transform="translate(229.6 626.20) rotate(-90)">Cytokines (ng/mL)</text>
<g><polyline points="269.00,674.10 288.40,665.50 307.80,646.80 327.20,637.00 346.60,664.60 366.00,670.90 385.40,672.00 404.80,673.50" fill="none" stroke="#ec1c7c" stroke-width="1.8" stroke-linejoin="round"/><line x1="327.20" y1="616" x2="327.20" y2="660" stroke="#ec1c7c" stroke-width="1.8"/><circle cx="269.00" cy="674.10" r="2.4" fill="#ec1c7c"/><circle cx="288.40" cy="665.50" r="2.4" fill="#ec1c7c"/><circle cx="307.80" cy="646.80" r="2.4" fill="#ec1c7c"/><circle cx="327.20" cy="637.00" r="2.4" fill="#ec1c7c"/><circle cx="346.60" cy="664.60" r="2.4" fill="#ec1c7c"/><circle cx="366.00" cy="670.90" r="2.4" fill="#ec1c7c"/><circle cx="385.40" cy="672.00" r="2.4" fill="#ec1c7c"/><circle cx="404.80" cy="673.50" r="2.4" fill="#ec1c7c"/></g>
<g><polyline points="269.00,674.10 288.40,672.00 307.80,633.50 327.20,641.80 346.60,662.80 366.00,667.60 385.40,669.40 404.80,674.00" fill="none" stroke="#fdb813" stroke-width="1.8" stroke-linejoin="round"/><line x1="307.80" y1="620" x2="307.80" y2="645" stroke="#fdb813" stroke-width="1.8"/><line x1="327.20" y1="632" x2="327.20" y2="652" stroke="#fdb813" stroke-width="1.8"/><circle cx="269.00" cy="674.10" r="2.4" fill="#fdb813"/><circle cx="288.40" cy="672.00" r="2.4" fill="#fdb813"/><circle cx="307.80" cy="633.50" r="2.4" fill="#fdb813"/><circle cx="327.20" cy="641.80" r="2.4" fill="#fdb813"/><circle cx="346.60" cy="662.80" r="2.4" fill="#fdb813"/><circle cx="366.00" cy="667.60" r="2.4" fill="#fdb813"/><circle cx="385.40" cy="669.40" r="2.4" fill="#fdb813"/><circle cx="404.80" cy="674.00" r="2.4" fill="#fdb813"/></g>
<g><polyline points="269.00,674.10 288.40,668.80 307.80,608.60 327.20,628.00 346.60,656.30 366.00,672.00 385.40,673.10 404.80,673.50" fill="none" stroke="#1e62f0" stroke-width="1.8" stroke-linejoin="round"/><line x1="288.40" y1="666" x2="288.40" y2="672" stroke="#1e62f0" stroke-width="1.8"/><line x1="307.80" y1="577.7" x2="307.80" y2="626.2" stroke="#1e62f0" stroke-width="1.8"/><line x1="327.20" y1="600.8" x2="327.20" y2="655.5" stroke="#1e62f0" stroke-width="1.8"/><line x1="346.60" y1="642.4" x2="346.60" y2="668" stroke="#1e62f0" stroke-width="1.8"/><circle cx="269.00" cy="674.10" r="2.4" fill="#1e62f0"/><circle cx="288.40" cy="668.80" r="2.4" fill="#1e62f0"/><circle cx="307.80" cy="608.60" r="2.4" fill="#1e62f0"/><circle cx="327.20" cy="628.00" r="2.4" fill="#1e62f0"/><circle cx="346.60" cy="656.30" r="2.4" fill="#1e62f0"/><circle cx="366.00" cy="672.00" r="2.4" fill="#1e62f0"/><circle cx="385.40" cy="673.10" r="2.4" fill="#1e62f0"/><circle cx="404.80" cy="673.50" r="2.4" fill="#1e62f0"/></g>
<g><polyline points="269.00,673.50 288.40,657.60 307.80,648.00 327.20,666.40 346.60,669.80 366.00,671.50 385.40,672.00 404.80,673.00" fill="none" stroke="#5f6e62" stroke-width="1.8" stroke-linejoin="round"/><line x1="288.40" y1="654.7" x2="288.40" y2="660.9" stroke="#5f6e62" stroke-width="1.8"/><line x1="307.80" y1="630" x2="307.80" y2="661" stroke="#5f6e62" stroke-width="1.8"/><line x1="327.20" y1="664" x2="327.20" y2="670" stroke="#5f6e62" stroke-width="1.8"/><circle cx="269.00" cy="673.50" r="2.4" fill="#5f6e62"/><circle cx="288.40" cy="657.60" r="2.4" fill="#5f6e62"/><circle cx="307.80" cy="648.00" r="2.4" fill="#5f6e62"/><circle cx="327.20" cy="666.40" r="2.4" fill="#5f6e62"/><circle cx="346.60" cy="669.80" r="2.4" fill="#5f6e62"/><circle cx="366.00" cy="671.50" r="2.4" fill="#5f6e62"/><circle cx="385.40" cy="672.00" r="2.4" fill="#5f6e62"/><circle cx="404.80" cy="673.00" r="2.4" fill="#5f6e62"/></g>
<text x="243.80" y="702.60" font-size="11.1" text-anchor="middle" font-weight="normal" fill="#1a1a1a" stroke="#1a1a1a" >Hours post endotoxin challenge</text>
<circle cx="429.7" cy="576.5" r="3.0" fill="#2ab8f0"/>
<text x="439.60" y="580.40" font-size="11.5" text-anchor="start" font-weight="normal" fill="#1a1a1a" stroke="#1a1a1a" >IL-1RA</text>
<circle cx="429.7" cy="589.1" r="3.0" fill="#f26a22"/>
<text x="439.60" y="593.00" font-size="11.5" text-anchor="start" font-weight="normal" fill="#1a1a1a" stroke="#1a1a1a" >CCL2 (MCP-1)</text>
<circle cx="429.7" cy="602.3" r="3.0" fill="#8a24ec"/>
<text x="439.60" y="606.20" font-size="11.5" text-anchor="start" font-weight="normal" fill="#1a1a1a" stroke="#1a1a1a" >CCL4 (MIP-1β)</text>
<circle cx="429.7" cy="616.1" r="3.0" fill="#2fd12f"/>
<text x="439.60" y="620.00" font-size="11.5" text-anchor="start" font-weight="normal" fill="#1a1a1a" stroke="#1a1a1a" >TNF</text>
<circle cx="429.7" cy="639.2" r="3.0" fill="#1e62f0"/>
<text x="439.60" y="643.10" font-size="11.5" text-anchor="start" font-weight="normal" fill="#1a1a1a" stroke="#1a1a1a" >IL-6</text>
<circle cx="429.7" cy="651.5" r="3.0" fill="#fdb813"/>
<text x="439.60" y="655.40" font-size="11.5" text-anchor="start" font-weight="normal" fill="#1a1a1a" stroke="#1a1a1a" >IL-8</text>
<circle cx="429.7" cy="664.0" r="3.0" fill="#ec1c7c"/>
<text x="439.60" y="667.90" font-size="11.5" text-anchor="start" font-weight="normal" fill="#1a1a1a" stroke="#1a1a1a" >IL-10</text>
<circle cx="429.7" cy="676.3" r="3.0" fill="#5f6e62"/>
<text x="439.60" y="680.20" font-size="11.5" text-anchor="start" font-weight="normal" fill="#1a1a1a" stroke="#1a1a1a" >CCL3 (MIP-1α)</text>
</svg></body></html>
